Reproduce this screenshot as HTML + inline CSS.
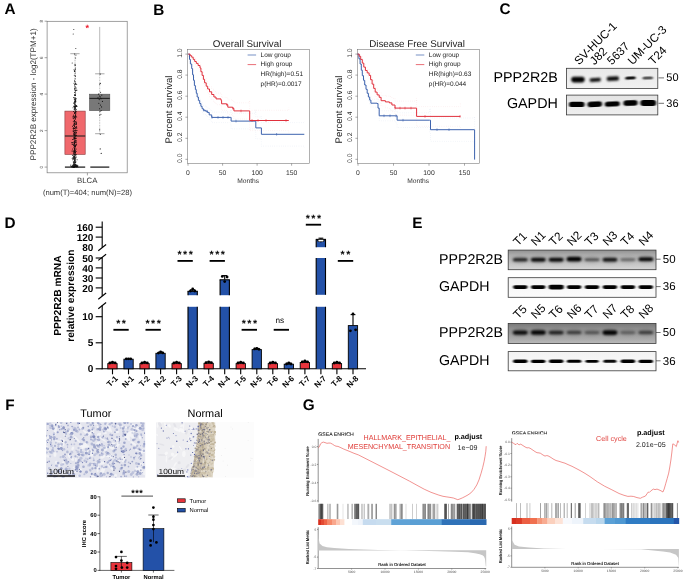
<!DOCTYPE html>
<html><head><meta charset="utf-8"><title>Figure</title>
<style>
html,body{margin:0;padding:0;background:#fff;}
svg{display:block;font-family:"Liberation Sans",sans-serif;text-rendering:geometricPrecision;}

.b{font-weight:bold;}
</style></head><body>
<svg width="685" height="583" viewBox="0 0 685 583">
<defs>
<filter id="bl1" x="-30%" y="-60%" width="160%" height="220%"><feGaussianBlur stdDeviation="1.1 0.8"/></filter>
<filter id="bl2" x="-30%" y="-60%" width="160%" height="220%"><feGaussianBlur stdDeviation="0.9 0.6"/></filter>
<filter id="bl3" x="-10%" y="-10%" width="120%" height="120%"><feGaussianBlur stdDeviation="0.45"/></filter>
<filter id="bl4" x="-10%" y="-10%" width="120%" height="120%"><feGaussianBlur stdDeviation="0.3"/></filter>
</defs>
<rect x="0" y="0" width="685" height="583" fill="#ffffff"/>
<g id="pA">
<text x="4.6" y="14.4" class="b" font-size="15.3">A</text>
<rect x="47.1" y="21.3" width="80.1" height="151.5" fill="none" stroke="#7a7a7a" stroke-width="0.7"/>
<line x1="44.6" x2="47.1" y1="167.1" y2="167.1" stroke="#666" stroke-width="0.6"/>
<text transform="translate(42.8 167.1) rotate(-90)" text-anchor="middle" font-size="4.6" fill="#444">0</text>
<line x1="44.6" x2="47.1" y1="130.6" y2="130.6" stroke="#666" stroke-width="0.6"/>
<text transform="translate(42.8 130.6) rotate(-90)" text-anchor="middle" font-size="4.6" fill="#444">2</text>
<line x1="44.6" x2="47.1" y1="94.1" y2="94.1" stroke="#666" stroke-width="0.6"/>
<text transform="translate(42.8 94.1) rotate(-90)" text-anchor="middle" font-size="4.6" fill="#444">4</text>
<line x1="44.6" x2="47.1" y1="57.7" y2="57.7" stroke="#666" stroke-width="0.6"/>
<text transform="translate(42.8 57.7) rotate(-90)" text-anchor="middle" font-size="4.6" fill="#444">6</text>
<line x1="44.6" x2="47.1" y1="21.2" y2="21.2" stroke="#666" stroke-width="0.6"/>
<text transform="translate(42.8 21.2) rotate(-90)" text-anchor="middle" font-size="4.6" fill="#444">8</text>
<line x1="87.4" x2="87.4" y1="172.8" y2="175.4" stroke="#666" stroke-width="0.6"/>
<text transform="translate(36.0 94.4) rotate(-90)" text-anchor="middle" font-size="8.1" fill="#333">PPP2R2B expression - log2(TPM+1)</text>
<text x="87.2" y="183.4" text-anchor="middle" font-size="7.8" fill="#333">BLCA</text>
<text x="87.4" y="194.5" text-anchor="middle" font-size="7.6" fill="#333">(num(T)=404; num(N)=28)</text>
<line x1="75" x2="75" y1="53.7" y2="111" stroke="#555" stroke-width="0.5" stroke-dasharray="0.8 0.8"/>
<line x1="70.3" x2="79.6" y1="53.7" y2="53.7" stroke="#555" stroke-width="0.5"/>
<rect x="64.9" y="111.1" width="20.3" height="43.3" fill="#f0686c" stroke="#8a3a3c" stroke-width="0.6"/>
<line x1="64.9" x2="85.2" y1="136" y2="136" stroke="#222" stroke-width="1.1"/>
<line x1="75" x2="75" y1="154.4" y2="167" stroke="#555" stroke-width="0.5" stroke-dasharray="0.8 0.8"/>
<line x1="64.9" x2="85.2" y1="167.1" y2="167.1" stroke="#111" stroke-width="1.2"/>
<line x1="99.7" x2="99.7" y1="26.9" y2="73.8" stroke="#777" stroke-width="0.5"/>
<line x1="99.7" x2="99.7" y1="73.8" y2="94.2" stroke="#666" stroke-width="0.5" stroke-dasharray="0.8 0.8"/>
<line x1="95.1" x2="104.5" y1="73.8" y2="73.8" stroke="#555" stroke-width="0.5"/>
<rect x="89.5" y="94.2" width="20.3" height="16.4" fill="#787878" stroke="#555" stroke-width="0.6"/>
<line x1="89.5" x2="109.8" y1="98.4" y2="98.4" stroke="#222" stroke-width="1.1"/>
<line x1="99.7" x2="99.7" y1="110.6" y2="133.7" stroke="#666" stroke-width="0.5" stroke-dasharray="0.8 0.8"/>
<line x1="95.1" x2="104.5" y1="133.7" y2="133.7" stroke="#555" stroke-width="0.5"/>
<line x1="90.3" x2="109.3" y1="167.1" y2="167.1" stroke="#111" stroke-width="1.2"/>
<text x="87.3" y="31.2" text-anchor="middle" font-size="9" class="b" fill="#ee2030">*</text>
<g fill="#000" opacity="0.9"><circle cx="75.4" cy="147.0" r="0.5"/><circle cx="75.6" cy="162.6" r="0.5"/><circle cx="74.6" cy="133.9" r="0.5"/><circle cx="75.0" cy="135.6" r="0.5"/><circle cx="74.1" cy="164.8" r="0.5"/><circle cx="74.6" cy="161.5" r="0.5"/><circle cx="74.9" cy="140.8" r="0.5"/><circle cx="74.1" cy="153.3" r="0.5"/><circle cx="76.0" cy="128.2" r="0.5"/><circle cx="74.3" cy="142.5" r="0.5"/><circle cx="76.9" cy="106.6" r="0.5"/><circle cx="75.2" cy="149.1" r="0.5"/><circle cx="75.1" cy="158.2" r="0.5"/><circle cx="75.6" cy="116.5" r="0.5"/><circle cx="73.4" cy="155.9" r="0.5"/><circle cx="74.0" cy="144.0" r="0.5"/><circle cx="75.1" cy="133.1" r="0.5"/><circle cx="74.7" cy="154.3" r="0.5"/><circle cx="74.2" cy="124.9" r="0.5"/><circle cx="75.2" cy="130.8" r="0.5"/><circle cx="74.2" cy="139.0" r="0.5"/><circle cx="76.5" cy="123.8" r="0.5"/><circle cx="73.5" cy="152.0" r="0.5"/><circle cx="74.5" cy="112.8" r="0.5"/><circle cx="74.3" cy="121.9" r="0.5"/><circle cx="77.1" cy="159.8" r="0.5"/><circle cx="74.7" cy="141.2" r="0.5"/><circle cx="74.2" cy="136.8" r="0.5"/><circle cx="73.6" cy="164.7" r="0.5"/><circle cx="73.4" cy="131.6" r="0.5"/><circle cx="74.5" cy="112.8" r="0.5"/><circle cx="76.2" cy="130.2" r="0.5"/><circle cx="73.1" cy="131.1" r="0.5"/><circle cx="75.6" cy="108.5" r="0.5"/><circle cx="74.6" cy="137.7" r="0.5"/><circle cx="74.6" cy="123.6" r="0.5"/><circle cx="76.6" cy="127.0" r="0.5"/><circle cx="74.5" cy="149.5" r="0.5"/><circle cx="74.6" cy="143.2" r="0.5"/><circle cx="74.6" cy="138.5" r="0.5"/><circle cx="74.8" cy="156.7" r="0.5"/><circle cx="75.2" cy="119.5" r="0.5"/><circle cx="74.5" cy="159.1" r="0.5"/><circle cx="76.0" cy="113.1" r="0.5"/><circle cx="73.3" cy="162.1" r="0.5"/><circle cx="75.4" cy="112.3" r="0.5"/><circle cx="75.5" cy="116.3" r="0.5"/><circle cx="74.1" cy="141.3" r="0.5"/><circle cx="76.5" cy="144.9" r="0.5"/><circle cx="72.9" cy="157.7" r="0.5"/><circle cx="74.6" cy="156.2" r="0.5"/><circle cx="75.5" cy="137.0" r="0.5"/><circle cx="74.8" cy="130.6" r="0.5"/><circle cx="74.8" cy="141.1" r="0.5"/><circle cx="72.5" cy="144.2" r="0.5"/><circle cx="74.0" cy="124.3" r="0.5"/><circle cx="73.7" cy="135.1" r="0.5"/><circle cx="73.5" cy="163.8" r="0.5"/><circle cx="75.4" cy="111.3" r="0.5"/><circle cx="73.1" cy="117.6" r="0.5"/><circle cx="74.3" cy="142.8" r="0.5"/><circle cx="75.1" cy="127.8" r="0.5"/><circle cx="75.0" cy="163.2" r="0.5"/><circle cx="74.8" cy="157.0" r="0.5"/><circle cx="74.7" cy="146.0" r="0.5"/><circle cx="74.5" cy="157.7" r="0.5"/><circle cx="74.3" cy="160.8" r="0.5"/><circle cx="75.2" cy="112.9" r="0.5"/><circle cx="75.3" cy="129.0" r="0.5"/><circle cx="75.2" cy="145.6" r="0.5"/><circle cx="76.0" cy="144.5" r="0.5"/><circle cx="76.4" cy="105.5" r="0.5"/><circle cx="74.3" cy="138.2" r="0.5"/><circle cx="74.5" cy="160.8" r="0.5"/><circle cx="74.5" cy="145.9" r="0.5"/><circle cx="76.3" cy="157.1" r="0.5"/><circle cx="75.5" cy="165.7" r="0.5"/><circle cx="74.2" cy="158.0" r="0.5"/><circle cx="76.0" cy="133.4" r="0.5"/><circle cx="75.3" cy="106.4" r="0.5"/><circle cx="74.8" cy="113.6" r="0.5"/><circle cx="74.0" cy="144.4" r="0.5"/><circle cx="74.7" cy="156.7" r="0.5"/><circle cx="73.8" cy="118.8" r="0.5"/><circle cx="74.9" cy="146.7" r="0.5"/><circle cx="76.8" cy="106.0" r="0.5"/><circle cx="75.6" cy="114.2" r="0.5"/><circle cx="73.3" cy="121.2" r="0.5"/><circle cx="73.7" cy="153.0" r="0.5"/><circle cx="74.3" cy="165.3" r="0.5"/><circle cx="74.3" cy="165.4" r="0.5"/><circle cx="75.6" cy="124.2" r="0.5"/><circle cx="73.0" cy="107.8" r="0.5"/><circle cx="75.9" cy="105.8" r="0.5"/><circle cx="74.7" cy="107.9" r="0.5"/><circle cx="75.1" cy="153.0" r="0.5"/><circle cx="74.9" cy="154.9" r="0.5"/><circle cx="76.3" cy="111.3" r="0.5"/><circle cx="73.7" cy="115.0" r="0.5"/><circle cx="75.2" cy="117.5" r="0.5"/><circle cx="73.4" cy="161.8" r="0.5"/><circle cx="73.2" cy="118.6" r="0.5"/><circle cx="74.4" cy="120.6" r="0.5"/><circle cx="75.1" cy="118.2" r="0.5"/><circle cx="75.4" cy="146.5" r="0.5"/><circle cx="72.3" cy="142.6" r="0.5"/><circle cx="76.1" cy="142.2" r="0.5"/><circle cx="74.0" cy="156.6" r="0.5"/><circle cx="75.7" cy="159.2" r="0.5"/><circle cx="76.7" cy="117.1" r="0.5"/><circle cx="75.7" cy="158.0" r="0.5"/><circle cx="72.5" cy="126.3" r="0.5"/><circle cx="74.2" cy="145.4" r="0.5"/><circle cx="74.3" cy="166.2" r="0.5"/><circle cx="74.4" cy="106.9" r="0.5"/><circle cx="74.2" cy="109.2" r="0.5"/><circle cx="76.0" cy="140.2" r="0.5"/><circle cx="73.3" cy="154.0" r="0.5"/><circle cx="74.4" cy="151.5" r="0.5"/><circle cx="75.5" cy="130.7" r="0.5"/><circle cx="74.2" cy="151.0" r="0.5"/><circle cx="75.3" cy="110.7" r="0.5"/><circle cx="73.5" cy="145.2" r="0.5"/><circle cx="75.4" cy="111.0" r="0.5"/><circle cx="75.7" cy="141.0" r="0.5"/><circle cx="74.2" cy="134.1" r="0.5"/><circle cx="75.8" cy="134.6" r="0.5"/><circle cx="74.7" cy="155.7" r="0.5"/><circle cx="74.6" cy="166.9" r="0.5"/><circle cx="74.2" cy="137.7" r="0.5"/><circle cx="74.2" cy="122.1" r="0.5"/><circle cx="74.5" cy="135.0" r="0.5"/><circle cx="74.9" cy="132.7" r="0.5"/><circle cx="74.4" cy="132.4" r="0.5"/><circle cx="74.3" cy="151.7" r="0.5"/><circle cx="76.4" cy="135.6" r="0.5"/><circle cx="75.0" cy="132.3" r="0.5"/><circle cx="72.6" cy="139.6" r="0.5"/><circle cx="73.7" cy="129.1" r="0.5"/><circle cx="74.9" cy="124.1" r="0.5"/><circle cx="73.7" cy="139.1" r="0.5"/><circle cx="74.9" cy="108.7" r="0.5"/><circle cx="76.5" cy="123.7" r="0.5"/><circle cx="73.0" cy="151.0" r="0.5"/><circle cx="76.5" cy="132.4" r="0.5"/><circle cx="73.9" cy="158.6" r="0.5"/><circle cx="74.1" cy="159.6" r="0.5"/><circle cx="74.7" cy="152.2" r="0.5"/><circle cx="73.6" cy="162.6" r="0.5"/><circle cx="73.6" cy="111.5" r="0.5"/><circle cx="74.2" cy="157.5" r="0.5"/><circle cx="73.1" cy="158.2" r="0.5"/><circle cx="75.7" cy="112.4" r="0.5"/><circle cx="75.0" cy="108.0" r="0.5"/><circle cx="71.8" cy="142.4" r="0.5"/><circle cx="75.3" cy="115.5" r="0.5"/><circle cx="73.5" cy="157.1" r="0.5"/><circle cx="75.1" cy="146.1" r="0.5"/><circle cx="73.9" cy="155.0" r="0.5"/><circle cx="75.8" cy="165.9" r="0.5"/><circle cx="74.6" cy="132.7" r="0.5"/><circle cx="74.7" cy="146.5" r="0.5"/><circle cx="74.5" cy="128.4" r="0.5"/><circle cx="75.1" cy="106.0" r="0.5"/><circle cx="75.4" cy="118.2" r="0.5"/><circle cx="74.5" cy="150.6" r="0.5"/><circle cx="74.6" cy="164.6" r="0.5"/><circle cx="73.8" cy="159.1" r="0.5"/><circle cx="76.2" cy="140.9" r="0.5"/><circle cx="73.7" cy="151.1" r="0.5"/><circle cx="75.6" cy="157.8" r="0.5"/><circle cx="74.3" cy="123.7" r="0.5"/><circle cx="75.8" cy="161.6" r="0.5"/><circle cx="75.2" cy="140.7" r="0.5"/><circle cx="75.7" cy="162.6" r="0.5"/><circle cx="74.5" cy="117.4" r="0.5"/><circle cx="74.7" cy="161.9" r="0.5"/><circle cx="74.8" cy="113.6" r="0.5"/><circle cx="74.1" cy="139.0" r="0.5"/><circle cx="76.1" cy="109.6" r="0.5"/><circle cx="75.4" cy="150.5" r="0.5"/><circle cx="75.4" cy="152.3" r="0.5"/><circle cx="74.6" cy="160.3" r="0.5"/><circle cx="74.8" cy="154.6" r="0.5"/><circle cx="74.1" cy="147.8" r="0.5"/><circle cx="76.1" cy="149.1" r="0.5"/><circle cx="75.2" cy="136.1" r="0.5"/><circle cx="75.2" cy="166.0" r="0.5"/><circle cx="76.1" cy="151.6" r="0.5"/><circle cx="75.0" cy="132.9" r="0.5"/><circle cx="72.4" cy="155.4" r="0.5"/><circle cx="74.8" cy="160.5" r="0.5"/><circle cx="74.0" cy="116.3" r="0.5"/><circle cx="75.5" cy="115.3" r="0.5"/><circle cx="73.2" cy="142.7" r="0.5"/><circle cx="75.1" cy="106.2" r="0.5"/><circle cx="75.4" cy="145.8" r="0.5"/><circle cx="73.6" cy="127.7" r="0.5"/><circle cx="74.5" cy="142.0" r="0.5"/><circle cx="74.8" cy="159.1" r="0.5"/><circle cx="74.4" cy="162.7" r="0.5"/><circle cx="73.8" cy="157.0" r="0.5"/><circle cx="75.5" cy="161.9" r="0.5"/><circle cx="73.3" cy="125.5" r="0.5"/><circle cx="74.6" cy="149.6" r="0.5"/><circle cx="75.5" cy="138.6" r="0.5"/><circle cx="73.8" cy="157.3" r="0.5"/><circle cx="75.4" cy="107.5" r="0.5"/><circle cx="74.4" cy="106.8" r="0.5"/><circle cx="74.9" cy="107.2" r="0.5"/><circle cx="74.6" cy="147.9" r="0.5"/><circle cx="74.7" cy="143.4" r="0.5"/><circle cx="74.1" cy="137.7" r="0.5"/><circle cx="74.8" cy="135.8" r="0.5"/><circle cx="74.4" cy="166.8" r="0.5"/><circle cx="75.1" cy="142.3" r="0.5"/><circle cx="75.2" cy="164.5" r="0.5"/><circle cx="74.7" cy="152.7" r="0.5"/><circle cx="73.3" cy="130.8" r="0.5"/><circle cx="74.6" cy="126.3" r="0.5"/><circle cx="75.6" cy="122.7" r="0.5"/><circle cx="74.0" cy="146.9" r="0.5"/><circle cx="76.0" cy="106.0" r="0.5"/><circle cx="76.1" cy="127.2" r="0.5"/><circle cx="75.5" cy="164.4" r="0.5"/><circle cx="73.1" cy="128.2" r="0.5"/><circle cx="75.1" cy="121.6" r="0.5"/><circle cx="74.3" cy="134.6" r="0.5"/><circle cx="75.7" cy="135.8" r="0.5"/><circle cx="73.5" cy="115.9" r="0.5"/><circle cx="76.0" cy="130.9" r="0.5"/><circle cx="74.0" cy="124.1" r="0.5"/><circle cx="75.1" cy="152.8" r="0.5"/><circle cx="74.8" cy="144.7" r="0.5"/><circle cx="75.1" cy="160.6" r="0.5"/><circle cx="73.8" cy="128.2" r="0.5"/><circle cx="74.4" cy="128.3" r="0.5"/><circle cx="73.4" cy="166.9" r="0.5"/><circle cx="75.0" cy="117.6" r="0.5"/><circle cx="73.7" cy="133.9" r="0.5"/><circle cx="76.3" cy="126.2" r="0.5"/><circle cx="75.2" cy="151.5" r="0.5"/><circle cx="74.3" cy="162.5" r="0.5"/><circle cx="76.1" cy="154.4" r="0.5"/><circle cx="76.0" cy="121.2" r="0.5"/><circle cx="74.5" cy="143.4" r="0.5"/><circle cx="74.1" cy="137.4" r="0.5"/><circle cx="73.4" cy="128.8" r="0.5"/><circle cx="75.4" cy="127.2" r="0.5"/><circle cx="74.8" cy="151.4" r="0.5"/><circle cx="74.5" cy="121.0" r="0.5"/><circle cx="75.6" cy="166.3" r="0.5"/><circle cx="74.3" cy="163.3" r="0.5"/><circle cx="76.3" cy="124.2" r="0.5"/><circle cx="74.6" cy="125.2" r="0.5"/><circle cx="75.9" cy="138.3" r="0.5"/><circle cx="76.2" cy="138.2" r="0.5"/><circle cx="75.9" cy="154.7" r="0.5"/><circle cx="75.3" cy="106.4" r="0.5"/><circle cx="74.7" cy="138.6" r="0.5"/><circle cx="76.0" cy="116.3" r="0.5"/><circle cx="74.4" cy="150.4" r="0.5"/><circle cx="75.2" cy="154.1" r="0.5"/><circle cx="74.6" cy="131.0" r="0.5"/><circle cx="72.2" cy="158.3" r="0.5"/><circle cx="74.1" cy="158.9" r="0.5"/><circle cx="73.0" cy="116.2" r="0.5"/><circle cx="74.8" cy="123.5" r="0.5"/><circle cx="75.5" cy="152.8" r="0.5"/><circle cx="73.8" cy="165.6" r="0.5"/><circle cx="73.4" cy="166.9" r="0.5"/><circle cx="74.7" cy="148.4" r="0.5"/><circle cx="74.0" cy="158.4" r="0.5"/><circle cx="75.7" cy="115.0" r="0.5"/><circle cx="74.4" cy="167.0" r="0.5"/><circle cx="72.7" cy="159.7" r="0.5"/><circle cx="74.6" cy="109.7" r="0.5"/><circle cx="72.6" cy="149.1" r="0.5"/><circle cx="72.0" cy="144.0" r="0.5"/><circle cx="77.0" cy="130.6" r="0.5"/><circle cx="74.0" cy="144.7" r="0.5"/><circle cx="74.8" cy="164.1" r="0.5"/><circle cx="74.9" cy="160.8" r="0.5"/><circle cx="74.4" cy="109.1" r="0.5"/><circle cx="74.5" cy="151.6" r="0.5"/><circle cx="75.7" cy="155.3" r="0.5"/><circle cx="76.6" cy="143.9" r="0.5"/><circle cx="74.5" cy="116.8" r="0.5"/><circle cx="76.8" cy="128.0" r="0.5"/><circle cx="73.6" cy="133.0" r="0.5"/><circle cx="76.4" cy="122.5" r="0.5"/><circle cx="75.2" cy="139.1" r="0.5"/><circle cx="74.5" cy="120.4" r="0.5"/><circle cx="73.8" cy="164.1" r="0.5"/><circle cx="75.8" cy="109.6" r="0.5"/><circle cx="75.4" cy="145.8" r="0.5"/><circle cx="74.4" cy="148.6" r="0.5"/><circle cx="72.0" cy="151.0" r="0.5"/><circle cx="74.5" cy="126.4" r="0.5"/><circle cx="75.8" cy="142.6" r="0.5"/><circle cx="75.3" cy="103.9" r="0.5"/><circle cx="75.5" cy="68.1" r="0.5"/><circle cx="75.3" cy="95.6" r="0.5"/><circle cx="76.7" cy="90.5" r="0.5"/><circle cx="75.1" cy="104.4" r="0.5"/><circle cx="75.3" cy="100.0" r="0.5"/><circle cx="75.0" cy="105.3" r="0.5"/><circle cx="75.6" cy="93.1" r="0.5"/><circle cx="75.0" cy="71.1" r="0.5"/><circle cx="74.2" cy="98.1" r="0.5"/><circle cx="74.5" cy="94.7" r="0.5"/><circle cx="75.5" cy="105.9" r="0.5"/><circle cx="75.4" cy="101.6" r="0.5"/><circle cx="74.9" cy="95.4" r="0.5"/><circle cx="75.4" cy="90.6" r="0.5"/><circle cx="74.6" cy="101.7" r="0.5"/><circle cx="74.3" cy="102.2" r="0.5"/><circle cx="75.5" cy="76.0" r="0.5"/><circle cx="75.2" cy="73.1" r="0.5"/><circle cx="75.0" cy="86.6" r="0.5"/><circle cx="74.0" cy="69.8" r="0.5"/><circle cx="75.2" cy="106.9" r="0.5"/><circle cx="76.3" cy="98.8" r="0.5"/><circle cx="74.3" cy="75.2" r="0.5"/><circle cx="75.4" cy="97.9" r="0.5"/><circle cx="75.3" cy="94.8" r="0.5"/><circle cx="76.2" cy="88.1" r="0.5"/><circle cx="74.5" cy="89.8" r="0.5"/><circle cx="74.0" cy="83.2" r="0.5"/><circle cx="75.3" cy="106.3" r="0.5"/><circle cx="75.2" cy="81.9" r="0.5"/><circle cx="76.8" cy="89.9" r="0.5"/><circle cx="75.4" cy="101.0" r="0.5"/><circle cx="75.4" cy="90.3" r="0.5"/><circle cx="75.2" cy="87.2" r="0.5"/><circle cx="75.2" cy="94.7" r="0.5"/><circle cx="74.6" cy="92.6" r="0.5"/><circle cx="75.4" cy="91.8" r="0.5"/><circle cx="74.7" cy="106.7" r="0.5"/><circle cx="75.8" cy="83.4" r="0.5"/><circle cx="74.4" cy="71.6" r="0.5"/><circle cx="75.1" cy="102.3" r="0.5"/><circle cx="74.9" cy="81.2" r="0.5"/><circle cx="75.2" cy="95.6" r="0.5"/><circle cx="74.5" cy="88.5" r="0.5"/><circle cx="75.3" cy="88.8" r="0.5"/><circle cx="75.0" cy="64.4" r="0.5"/><circle cx="75.2" cy="100.1" r="0.5"/><circle cx="74.8" cy="98.0" r="0.5"/><circle cx="74.5" cy="80.7" r="0.5"/><circle cx="74.5" cy="84.9" r="0.5"/><circle cx="75.0" cy="95.5" r="0.5"/><circle cx="75.1" cy="78.8" r="0.5"/><circle cx="75.6" cy="83.5" r="0.5"/><circle cx="75.9" cy="101.2" r="0.5"/><circle cx="74.7" cy="103.5" r="0.5"/><circle cx="74.0" cy="102.8" r="0.5"/><circle cx="75.6" cy="58.1" r="0.5"/><circle cx="74.6" cy="104.3" r="0.5"/><circle cx="75.3" cy="101.7" r="0.5"/><circle cx="75.7" cy="106.0" r="0.5"/><circle cx="75.3" cy="69.4" r="0.5"/><circle cx="74.7" cy="71.6" r="0.5"/><circle cx="72.2" cy="62.9" r="0.5"/><circle cx="75.7" cy="100.4" r="0.5"/><circle cx="76.7" cy="84.4" r="0.5"/><circle cx="74.6" cy="106.4" r="0.5"/><circle cx="74.3" cy="99.2" r="0.5"/><circle cx="75.0" cy="100.3" r="0.5"/><circle cx="75.1" cy="101.5" r="0.5"/><circle cx="75.4" cy="99.8" r="0.5"/><circle cx="74.9" cy="99.4" r="0.5"/><circle cx="75.6" cy="99.7" r="0.5"/><circle cx="73.7" cy="97.6" r="0.5"/><circle cx="74.2" cy="106.1" r="0.5"/><circle cx="75.1" cy="65.6" r="0.5"/><circle cx="73.9" cy="103.4" r="0.5"/><circle cx="76.3" cy="106.4" r="0.5"/><circle cx="75.5" cy="98.2" r="0.5"/><circle cx="73.7" cy="106.2" r="0.5"/><circle cx="76.7" cy="106.3" r="0.5"/><circle cx="75.7" cy="102.0" r="0.5"/><circle cx="75.6" cy="84.3" r="0.5"/><circle cx="74.6" cy="101.7" r="0.5"/><circle cx="74.9" cy="84.4" r="0.5"/><circle cx="73.8" cy="29.4" r="0.5"/><circle cx="73.2" cy="34.0" r="0.5"/><circle cx="75.8" cy="48.6" r="0.5"/><circle cx="74.5" cy="54.0" r="0.5"/><circle cx="76.0" cy="54.9" r="0.5"/><circle cx="75.2" cy="65.0" r="0.5"/><circle cx="74.7" cy="70.4" r="0.5"/><circle cx="75.4" cy="75.9" r="0.5"/><circle cx="77.7" cy="166.3" r="0.5"/><circle cx="75.0" cy="165.3" r="0.5"/><circle cx="75.1" cy="165.0" r="0.5"/><circle cx="72.3" cy="166.9" r="0.5"/><circle cx="72.0" cy="166.5" r="0.5"/><circle cx="70.8" cy="164.9" r="0.5"/><circle cx="75.7" cy="166.1" r="0.5"/><circle cx="75.0" cy="165.9" r="0.5"/><circle cx="76.8" cy="165.0" r="0.5"/><circle cx="76.3" cy="165.4" r="0.5"/><circle cx="77.8" cy="165.2" r="0.5"/><circle cx="75.3" cy="166.3" r="0.5"/><circle cx="72.7" cy="166.3" r="0.5"/><circle cx="73.1" cy="166.8" r="0.5"/><circle cx="77.3" cy="166.6" r="0.5"/><circle cx="75.0" cy="166.9" r="0.5"/><circle cx="73.7" cy="166.9" r="0.5"/><circle cx="73.6" cy="164.8" r="0.5"/><circle cx="74.5" cy="165.1" r="0.5"/><circle cx="76.3" cy="166.8" r="0.5"/><circle cx="74.9" cy="166.8" r="0.5"/><circle cx="72.3" cy="166.0" r="0.5"/><circle cx="75.0" cy="166.5" r="0.5"/><circle cx="72.9" cy="165.5" r="0.5"/><circle cx="76.2" cy="165.4" r="0.5"/><circle cx="76.4" cy="166.7" r="0.5"/><circle cx="72.9" cy="165.2" r="0.5"/><circle cx="74.4" cy="166.2" r="0.5"/><circle cx="77.1" cy="165.4" r="0.5"/><circle cx="75.4" cy="166.5" r="0.5"/><circle cx="76.2" cy="166.7" r="0.5"/><circle cx="76.7" cy="166.3" r="0.5"/><circle cx="73.5" cy="166.1" r="0.5"/><circle cx="77.0" cy="166.5" r="0.5"/><circle cx="74.9" cy="165.2" r="0.5"/><circle cx="72.0" cy="166.8" r="0.5"/><circle cx="70.7" cy="166.0" r="0.5"/><circle cx="76.4" cy="165.0" r="0.5"/><circle cx="72.0" cy="166.9" r="0.5"/><circle cx="74.8" cy="166.6" r="0.5"/><circle cx="75.8" cy="164.9" r="0.5"/><circle cx="71.6" cy="166.2" r="0.5"/><circle cx="73.0" cy="165.1" r="0.5"/><circle cx="73.7" cy="165.3" r="0.5"/><circle cx="75.4" cy="164.9" r="0.5"/><circle cx="76.8" cy="165.6" r="0.5"/><circle cx="76.4" cy="166.5" r="0.5"/><circle cx="74.4" cy="166.6" r="0.5"/><circle cx="75.7" cy="166.4" r="0.5"/><circle cx="73.0" cy="166.6" r="0.5"/><circle cx="73.6" cy="167.0" r="0.5"/><circle cx="73.8" cy="166.6" r="0.5"/><circle cx="77.3" cy="166.3" r="0.5"/><circle cx="75.9" cy="165.8" r="0.5"/><circle cx="77.9" cy="166.9" r="0.5"/><circle cx="76.4" cy="165.8" r="0.5"/><circle cx="76.0" cy="165.6" r="0.5"/><circle cx="75.9" cy="165.5" r="0.5"/><circle cx="75.6" cy="166.1" r="0.5"/><circle cx="74.7" cy="164.9" r="0.5"/></g>
<g fill="#000" opacity="0.9"><circle cx="100.2" cy="74.1" r="0.55"/><circle cx="100.5" cy="83.2" r="0.55"/><circle cx="99.7" cy="84.1" r="0.55"/><circle cx="100.6" cy="92.3" r="0.55"/><circle cx="98.5" cy="94.1" r="0.55"/><circle cx="101.8" cy="95.1" r="0.55"/><circle cx="99.4" cy="96.0" r="0.55"/><circle cx="100.2" cy="96.9" r="0.55"/><circle cx="98.0" cy="97.8" r="0.55"/><circle cx="101.0" cy="98.7" r="0.55"/><circle cx="99.2" cy="99.6" r="0.55"/><circle cx="102.4" cy="101.4" r="0.55"/><circle cx="98.8" cy="103.3" r="0.55"/><circle cx="100.4" cy="105.1" r="0.55"/><circle cx="101.6" cy="106.9" r="0.55"/><circle cx="99.6" cy="108.7" r="0.55"/><circle cx="101.1" cy="110.6" r="0.55"/><circle cx="100.0" cy="111.5" r="0.55"/><circle cx="100.9" cy="114.2" r="0.55"/><circle cx="99.8" cy="115.1" r="0.55"/><circle cx="99.7" cy="129.7" r="0.55"/><circle cx="100.3" cy="134.3" r="0.55"/><circle cx="100.2" cy="148.9" r="0.55"/><circle cx="101.2" cy="153.4" r="0.55"/></g>
</g>
<g id="pB">
<text x="153.2" y="14.5" class="b" font-size="15.3">B</text>
<rect x="187.6" y="49.4" width="121.9" height="114.1" fill="none" stroke="#707070" stroke-width="0.55"/>
<text x="247.1" y="46.9" text-anchor="middle" font-size="9.8" fill="#222">Overall Survival</text>
<line x1="185.4" x2="187.6" y1="159.3" y2="159.3" stroke="#555" stroke-width="0.5"/>
<text transform="translate(181.7 158.3) rotate(-90)" text-anchor="middle" font-size="6.8" fill="#333">0.0</text>
<line x1="185.4" x2="187.6" y1="138.3" y2="138.3" stroke="#555" stroke-width="0.5"/>
<text transform="translate(181.7 137.3) rotate(-90)" text-anchor="middle" font-size="6.8" fill="#333">0.2</text>
<line x1="185.4" x2="187.6" y1="117.2" y2="117.2" stroke="#555" stroke-width="0.5"/>
<text transform="translate(181.7 116.2) rotate(-90)" text-anchor="middle" font-size="6.8" fill="#333">0.4</text>
<line x1="185.4" x2="187.6" y1="96.2" y2="96.2" stroke="#555" stroke-width="0.5"/>
<text transform="translate(181.7 95.2) rotate(-90)" text-anchor="middle" font-size="6.8" fill="#333">0.6</text>
<line x1="185.4" x2="187.6" y1="75.1" y2="75.1" stroke="#555" stroke-width="0.5"/>
<text transform="translate(181.7 74.1) rotate(-90)" text-anchor="middle" font-size="6.8" fill="#333">0.8</text>
<line x1="185.4" x2="187.6" y1="54.1" y2="54.1" stroke="#555" stroke-width="0.5"/>
<text transform="translate(181.7 53.1) rotate(-90)" text-anchor="middle" font-size="6.8" fill="#333">1.0</text>
<line x1="188.0" x2="188.0" y1="163.5" y2="165.7" stroke="#555" stroke-width="0.5"/>
<text x="188.0" y="174.5" text-anchor="middle" font-size="6.8" fill="#333">0</text>
<line x1="222.6" x2="222.6" y1="163.5" y2="165.7" stroke="#555" stroke-width="0.5"/>
<text x="222.6" y="174.5" text-anchor="middle" font-size="6.8" fill="#333">50</text>
<line x1="257.1" x2="257.1" y1="163.5" y2="165.7" stroke="#555" stroke-width="0.5"/>
<text x="257.1" y="174.5" text-anchor="middle" font-size="6.8" fill="#333">100</text>
<line x1="291.6" x2="291.6" y1="163.5" y2="165.7" stroke="#555" stroke-width="0.5"/>
<text x="291.6" y="174.5" text-anchor="middle" font-size="6.8" fill="#333">150</text>
<text x="248.1" y="183.3" text-anchor="middle" font-size="6.7" fill="#333">Months</text>
<text transform="translate(172.0 109.5) rotate(-90)" text-anchor="middle" font-size="9.55" fill="#222">Percent survival</text>
<path d="M188.3 54.1 H189.5 V59.4 H190.4 V64.0 H191.7 V68.6 H192.6 V74.8 H193.5 V80.3 H194.4 V85.6 H195.4 V89.6 H196.3 V93.3 H197.2 V97.0 H198.4 V100.4 H199.7 V103.5 H200.9 V106.3 H202.1 V108.7 H203.4 V110.3 H205.5 V111.2 H207.4 V112.4 H209.2 V114.9 H211.7 V117.4 H230.8 V117.4 H231.1 V121.1 H255.5 V121.1 H255.8 V127.9 H261.1 V127.9 H261.4 V134.3 H304.3 V134.3" fill="none" stroke="#3d63ae" stroke-width="1"/>
<path d="M188.3 54.1 H190.1 V55.7 H191.7 V57.2 H193.2 V59.4 H194.7 V61.5 H196.3 V63.4 H198.1 V65.5 H200.0 V68.0 H200.9 V71.7 H202.1 V75.4 H203.4 V79.4 H204.6 V82.8 H206.2 V86.2 H207.7 V89.0 H209.5 V91.8 H211.7 V94.5 H213.9 V97.0 H216.0 V98.9 H221.0 V100.4 H221.6 V103.8 H226.5 V104.7 H227.8 V107.2 H232.7 V108.4 H233.9 V110.9 H249.4 V110.9 H249.7 V120.5 H288.8 V120.5" fill="none" stroke="#e0303c" stroke-width="1"/>
<path d="M188.3 54.6 H189.5 V57.0 H190.4 V61.5 H191.7 V66.0 H192.6 V72.0 H193.5 V77.5 H194.4 V82.6 H195.4 V86.5 H196.3 V90.1 H197.2 V93.6 H198.4 V96.9 H199.7 V99.8 H200.9 V102.4 H202.1 V104.7 H203.4 V106.1 H205.5 V106.8 H207.4 V107.8 H209.2 V110.0 H211.7 V112.1 H230.8 V109.6 H231.1 V113.3 H255.5 V110.1 H255.8 V116.9 H261.1 V116.2 H261.4 V122.6 H304.3 V121.3" fill="none" stroke="#3d63ae" stroke-width="0.5" stroke-dasharray="0.5 1.7" opacity="0.24"/>
<path d="M188.3 56.3 H189.5 V61.7 H190.4 V66.5 H191.7 V71.3 H192.6 V77.6 H193.5 V83.2 H194.4 V88.6 H195.4 V92.7 H196.3 V96.6 H197.2 V100.4 H198.4 V103.9 H199.7 V107.2 H200.9 V110.1 H202.1 V112.7 H203.4 V114.4 H205.5 V115.6 H207.4 V117.1 H209.2 V119.8 H211.7 V122.6 H230.8 V125.1 H231.1 V128.9 H255.5 V132.0 H255.8 V138.8 H261.1 V139.5 H261.4 V146.1 H304.3 V147.3" fill="none" stroke="#3d63ae" stroke-width="0.5" stroke-dasharray="0.5 1.7" opacity="0.24"/>
<path d="M188.3 54.6 H190.1 V54.6 H191.7 V54.6 H193.2 V56.5 H194.7 V58.5 H196.3 V60.1 H198.1 V62.1 H200.0 V64.3 H200.9 V67.9 H202.1 V71.4 H203.4 V75.3 H204.6 V78.5 H206.2 V81.7 H207.7 V84.3 H209.5 V86.8 H211.7 V89.3 H213.9 V91.5 H216.0 V93.1 H221.0 V94.0 H221.6 V97.3 H226.5 V97.6 H227.8 V99.9 H232.7 V100.5 H233.9 V102.8 H249.4 V100.8 H249.7 V110.3 H288.8 V107.5" fill="none" stroke="#e0303c" stroke-width="0.5" stroke-dasharray="0.5 1.7" opacity="0.24"/>
<path d="M188.3 56.3 H190.1 V58.1 H191.7 V59.8 H193.2 V62.2 H194.7 V64.6 H196.3 V66.6 H198.1 V69.0 H200.0 V71.7 H200.9 V75.6 H202.1 V79.4 H203.4 V83.6 H204.6 V87.1 H206.2 V90.7 H207.7 V93.7 H209.5 V96.7 H211.7 V99.8 H213.9 V102.5 H216.0 V104.7 H221.0 V106.9 H221.6 V110.3 H226.5 V111.9 H227.8 V114.5 H232.7 V116.4 H233.9 V119.0 H249.4 V121.0 H249.7 V130.6 H288.8 V133.5" fill="none" stroke="#e0303c" stroke-width="0.5" stroke-dasharray="0.5 1.7" opacity="0.24"/>
<line x1="247.6" x2="256.1" y1="55" y2="55" stroke="#3d63ae" stroke-width="0.7"/>
<line x1="247.6" x2="256.1" y1="64.6" y2="64.6" stroke="#e0303c" stroke-width="0.7"/>
<text x="260.6" y="57.2" font-size="6.5" fill="#222">Low group</text>
<text x="260.6" y="66.4" font-size="6.5" fill="#222">High group</text>
<text x="260.6" y="76.2" font-size="6.5" fill="#222">HR(high)=0.51</text>
<text x="260.6" y="85.9" font-size="6.5" fill="#222">p(HR)=0.0017</text>
<rect x="357.6" y="49.4" width="121.9" height="114.1" fill="none" stroke="#707070" stroke-width="0.55"/>
<text x="417.1" y="46.9" text-anchor="middle" font-size="9.8" fill="#222">Disease Free Survival</text>
<line x1="355.4" x2="357.6" y1="159.3" y2="159.3" stroke="#555" stroke-width="0.5"/>
<text transform="translate(351.7 158.3) rotate(-90)" text-anchor="middle" font-size="6.8" fill="#333">0.0</text>
<line x1="355.4" x2="357.6" y1="138.3" y2="138.3" stroke="#555" stroke-width="0.5"/>
<text transform="translate(351.7 137.3) rotate(-90)" text-anchor="middle" font-size="6.8" fill="#333">0.2</text>
<line x1="355.4" x2="357.6" y1="117.2" y2="117.2" stroke="#555" stroke-width="0.5"/>
<text transform="translate(351.7 116.2) rotate(-90)" text-anchor="middle" font-size="6.8" fill="#333">0.4</text>
<line x1="355.4" x2="357.6" y1="96.2" y2="96.2" stroke="#555" stroke-width="0.5"/>
<text transform="translate(351.7 95.2) rotate(-90)" text-anchor="middle" font-size="6.8" fill="#333">0.6</text>
<line x1="355.4" x2="357.6" y1="75.1" y2="75.1" stroke="#555" stroke-width="0.5"/>
<text transform="translate(351.7 74.1) rotate(-90)" text-anchor="middle" font-size="6.8" fill="#333">0.8</text>
<line x1="355.4" x2="357.6" y1="54.1" y2="54.1" stroke="#555" stroke-width="0.5"/>
<text transform="translate(351.7 53.1) rotate(-90)" text-anchor="middle" font-size="6.8" fill="#333">1.0</text>
<line x1="358.0" x2="358.0" y1="163.5" y2="165.7" stroke="#555" stroke-width="0.5"/>
<text x="358.0" y="174.5" text-anchor="middle" font-size="6.8" fill="#333">0</text>
<line x1="393.5" x2="393.5" y1="163.5" y2="165.7" stroke="#555" stroke-width="0.5"/>
<text x="393.5" y="174.5" text-anchor="middle" font-size="6.8" fill="#333">50</text>
<line x1="429.0" x2="429.0" y1="163.5" y2="165.7" stroke="#555" stroke-width="0.5"/>
<text x="429.0" y="174.5" text-anchor="middle" font-size="6.8" fill="#333">100</text>
<line x1="464.5" x2="464.5" y1="163.5" y2="165.7" stroke="#555" stroke-width="0.5"/>
<text x="464.5" y="174.5" text-anchor="middle" font-size="6.8" fill="#333">150</text>
<text x="418.1" y="183.3" text-anchor="middle" font-size="6.7" fill="#333">Months</text>
<text transform="translate(342.0 109.5) rotate(-90)" text-anchor="middle" font-size="9.55" fill="#222">Percent survival</text>
<path d="M357.6 54.1 H358.9 V58.8 H360.1 V64.0 H361.3 V70.2 H362.3 V75.7 H363.5 V80.3 H364.7 V85.0 H366.0 V89.3 H367.2 V93.3 H368.4 V97.0 H369.7 V100.1 H370.9 V103.2 H377.1 V103.5 H378.0 V108.1 H379.2 V115.8 H395.6 V115.8 H397.1 V120.2 H429.5 V120.2 H430.5 V129.7 H474.3 V129.7 H474.6 V159.6" fill="none" stroke="#3d63ae" stroke-width="1"/>
<path d="M357.6 54.1 H359.2 V56.3 H360.7 V59.4 H362.3 V63.1 H363.8 V67.1 H365.4 V70.5 H367.2 V72.9 H369.1 V75.4 H370.6 V79.7 H372.1 V84.1 H373.7 V88.4 H375.2 V92.1 H377.1 V94.9 H379.2 V97.3 H381.1 V100.7 H385.4 V101.9 H389.4 V102.9 H391.9 V105.0 H395.0 V108.1 H416.3 V108.1 H416.6 V116.4 H460.4 V116.4" fill="none" stroke="#e0303c" stroke-width="1"/>
<path d="M357.6 54.6 H358.9 V56.4 H360.1 V61.5 H361.3 V67.5 H362.3 V72.9 H363.5 V77.4 H364.7 V81.9 H366.0 V86.0 H367.2 V89.9 H368.4 V93.4 H369.7 V96.3 H370.9 V99.3 H377.1 V98.8 H378.0 V103.3 H379.2 V110.8 H395.6 V108.7 H397.1 V112.8 H429.5 V108.6 H430.5 V118.0 H474.3 V116.7 H474.6 V146.6" fill="none" stroke="#3d63ae" stroke-width="0.5" stroke-dasharray="0.5 1.7" opacity="0.24"/>
<path d="M357.6 56.3 H358.9 V61.1 H360.1 V66.5 H361.3 V72.8 H362.3 V78.5 H363.5 V83.3 H364.7 V88.1 H366.0 V92.6 H367.2 V96.8 H368.4 V100.6 H369.7 V103.9 H370.9 V107.1 H377.1 V108.2 H378.0 V113.0 H379.2 V120.8 H395.6 V123.0 H397.1 V127.5 H429.5 V131.7 H430.5 V141.4 H474.3 V142.7 H474.6 V159.5" fill="none" stroke="#3d63ae" stroke-width="0.5" stroke-dasharray="0.5 1.7" opacity="0.24"/>
<path d="M357.6 54.6 H359.2 V54.6 H360.7 V56.8 H362.3 V60.3 H363.8 V64.1 H365.4 V67.3 H367.2 V69.5 H369.1 V71.7 H370.6 V75.8 H372.1 V80.0 H373.7 V84.1 H375.2 V87.6 H377.1 V90.1 H379.2 V92.3 H381.1 V95.5 H385.4 V96.1 H389.4 V96.5 H391.9 V98.4 H395.0 V101.1 H416.3 V98.3 H416.6 V106.6 H460.4 V103.4" fill="none" stroke="#e0303c" stroke-width="0.5" stroke-dasharray="0.5 1.7" opacity="0.24"/>
<path d="M357.6 56.3 H359.2 V58.7 H360.7 V62.0 H362.3 V65.9 H363.8 V70.1 H365.4 V73.7 H367.2 V76.4 H369.1 V79.1 H370.6 V83.6 H372.1 V88.1 H373.7 V92.7 H375.2 V96.6 H377.1 V99.6 H379.2 V102.3 H381.1 V106.0 H385.4 V107.8 H389.4 V109.2 H391.9 V111.7 H395.0 V115.2 H416.3 V117.9 H416.6 V126.3 H460.4 V129.4" fill="none" stroke="#e0303c" stroke-width="0.5" stroke-dasharray="0.5 1.7" opacity="0.24"/>
<line x1="415.8" x2="424.3" y1="55" y2="55" stroke="#3d63ae" stroke-width="0.7"/>
<line x1="415.8" x2="424.3" y1="64.6" y2="64.6" stroke="#e0303c" stroke-width="0.7"/>
<text x="428.8" y="57.2" font-size="6.5" fill="#222">Low group</text>
<text x="428.8" y="66.4" font-size="6.5" fill="#222">High group</text>
<text x="428.8" y="76.2" font-size="6.5" fill="#222">HR(high)=0.63</text>
<text x="428.8" y="85.9" font-size="6.5" fill="#222">p(HR)=0.044</text>
<line x1="204.0" x2="204.0" y1="109.0" y2="111.6" stroke="#3d63ae" stroke-width="0.6"/>
<line x1="207.0" x2="207.0" y1="109.9" y2="112.5" stroke="#3d63ae" stroke-width="0.6"/>
<line x1="212.0" x2="212.0" y1="116.1" y2="118.7" stroke="#3d63ae" stroke-width="0.6"/>
<line x1="218.0" x2="218.0" y1="116.1" y2="118.7" stroke="#3d63ae" stroke-width="0.6"/>
<line x1="223.0" x2="223.0" y1="116.1" y2="118.7" stroke="#3d63ae" stroke-width="0.6"/>
<line x1="228.0" x2="228.0" y1="116.1" y2="118.7" stroke="#3d63ae" stroke-width="0.6"/>
<line x1="236.0" x2="236.0" y1="119.8" y2="122.4" stroke="#3d63ae" stroke-width="0.6"/>
<line x1="276.6" x2="276.6" y1="133.0" y2="135.6" stroke="#3d63ae" stroke-width="0.6"/>
<line x1="227.0" x2="227.0" y1="103.4" y2="106.0" stroke="#e0303c" stroke-width="0.6"/>
<line x1="233.0" x2="233.0" y1="107.1" y2="109.7" stroke="#e0303c" stroke-width="0.6"/>
<line x1="241.0" x2="241.0" y1="109.6" y2="112.2" stroke="#e0303c" stroke-width="0.6"/>
<line x1="252.0" x2="252.0" y1="119.2" y2="121.8" stroke="#e0303c" stroke-width="0.6"/>
<line x1="258.0" x2="258.0" y1="119.2" y2="121.8" stroke="#e0303c" stroke-width="0.6"/>
<line x1="266.0" x2="266.0" y1="119.2" y2="121.8" stroke="#e0303c" stroke-width="0.6"/>
<line x1="286.0" x2="286.0" y1="119.2" y2="121.8" stroke="#e0303c" stroke-width="0.6"/>
<line x1="384.0" x2="384.0" y1="114.5" y2="117.1" stroke="#3d63ae" stroke-width="0.6"/>
<line x1="390.0" x2="390.0" y1="114.5" y2="117.1" stroke="#3d63ae" stroke-width="0.6"/>
<line x1="396.0" x2="396.0" y1="114.5" y2="117.1" stroke="#3d63ae" stroke-width="0.6"/>
<line x1="403.0" x2="403.0" y1="118.9" y2="121.5" stroke="#3d63ae" stroke-width="0.6"/>
<line x1="437.0" x2="437.0" y1="128.4" y2="131.0" stroke="#3d63ae" stroke-width="0.6"/>
<line x1="449.0" x2="449.0" y1="128.4" y2="131.0" stroke="#3d63ae" stroke-width="0.6"/>
<line x1="395.0" x2="395.0" y1="106.8" y2="109.4" stroke="#e0303c" stroke-width="0.6"/>
<line x1="400.0" x2="400.0" y1="106.8" y2="109.4" stroke="#e0303c" stroke-width="0.6"/>
<line x1="405.0" x2="405.0" y1="106.8" y2="109.4" stroke="#e0303c" stroke-width="0.6"/>
<line x1="411.0" x2="411.0" y1="106.8" y2="109.4" stroke="#e0303c" stroke-width="0.6"/>
<line x1="425.0" x2="425.0" y1="115.1" y2="117.7" stroke="#e0303c" stroke-width="0.6"/>
<line x1="460.0" x2="460.0" y1="115.1" y2="117.7" stroke="#e0303c" stroke-width="0.6"/>
</g>
<g id="pC">
<text x="499.6" y="14.4" class="b" font-size="15.3">C</text>
<text x="557.8" y="82.4" text-anchor="end" font-size="14.3">PPP2R2B</text>
<text x="557.8" y="108.4" text-anchor="end" font-size="14.3">GAPDH</text>
<text x="666.3" y="81" font-size="11">50</text>
<text x="666.3" y="106.7" font-size="11">36</text>
<line x1="658.5" x2="664" y1="77.9" y2="77.9" stroke="#333" stroke-width="0.7"/>
<line x1="658.5" x2="664" y1="103.3" y2="103.3" stroke="#333" stroke-width="0.7"/>
<text transform="translate(579.0 65.4) rotate(-45)" font-size="11.7">SV-HUC-1</text>
<text transform="translate(594.6 65.4) rotate(-45)" font-size="11.7">J82</text>
<text transform="translate(611.8 65.4) rotate(-45)" font-size="11.7">5637</text>
<text transform="translate(632.4 65.4) rotate(-45)" font-size="11.7">UM-UC-3</text>
<text transform="translate(653.2 65.4) rotate(-45)" font-size="11.7">T24</text>
<clipPath id="cC1"><rect x="566.4" y="68.3" width="91.4" height="20.1"/></clipPath>
<linearGradient id="cC1g" x1="0" y1="0" x2="0" y2="1"><stop offset="0.00" stop-color="#e9e9e9"/><stop offset="1.00" stop-color="#f1f1f1"/></linearGradient>
<rect x="566.4" y="68.3" width="91.4" height="20.1" fill="url(#cC1g)"/>
<g clip-path="url(#cC1)"><rect x="571.2" y="76.8" width="13.5" height="5.6" rx="2.8" fill="#000" opacity="1.00" filter="url(#bl1)" transform="rotate(0.0 578.0 79.6)"/><rect x="589.5" y="77.9" width="11.5" height="3.8" rx="1.9" fill="#000" opacity="0.95" filter="url(#bl1)" transform="rotate(-4.0 595.2 79.8)"/><rect x="606.6" y="76.6" width="12.5" height="4.2" rx="2.1" fill="#000" opacity="0.97" filter="url(#bl1)" transform="rotate(-3.0 612.9 78.7)"/><rect x="625.2" y="76.4" width="10.5" height="3.2" rx="1.6" fill="#000" opacity="0.90" filter="url(#bl2)" transform="rotate(-3.0 630.5 78.0)"/><rect x="642.5" y="76.5" width="10.5" height="3.0" rx="1.5" fill="#000" opacity="0.62" filter="url(#bl2)" transform="rotate(-2.0 647.8 78.0)"/></g>
<rect x="566.4" y="68.3" width="91.4" height="20.1" fill="none" stroke="#3a3a3a" stroke-width="0.8"/>
<clipPath id="cC2"><rect x="566.4" y="95.1" width="91.4" height="19.8"/></clipPath>
<linearGradient id="cC2g" x1="0" y1="0" x2="0" y2="1"><stop offset="0.00" stop-color="#e4e4e4"/><stop offset="1.00" stop-color="#efefef"/></linearGradient>
<rect x="566.4" y="95.1" width="91.4" height="19.8" fill="url(#cC2g)"/>
<g clip-path="url(#cC2)"><rect x="569.0" y="101.7" width="15.5" height="5.4" rx="2.7" fill="#000" opacity="1.00" filter="url(#bl2)" transform="rotate(0.0 576.7 104.4)"/><rect x="587.5" y="101.5" width="14.5" height="5.4" rx="2.7" fill="#000" opacity="1.00" filter="url(#bl2)" transform="rotate(-3.0 594.7 104.2)"/><rect x="604.8" y="101.5" width="15.0" height="5.0" rx="2.5" fill="#000" opacity="1.00" filter="url(#bl2)" transform="rotate(-3.0 612.3 104.0)"/><rect x="623.4" y="100.3" width="14.2" height="5.4" rx="2.7" fill="#000" opacity="1.00" filter="url(#bl2)" transform="rotate(-2.0 630.5 103.0)"/><rect x="640.3" y="100.0" width="15.8" height="6.0" rx="3.0" fill="#000" opacity="1.00" filter="url(#bl2)" transform="rotate(0.0 648.2 103.0)"/></g>
<rect x="566.4" y="95.1" width="91.4" height="19.8" fill="none" stroke="#3a3a3a" stroke-width="0.8"/>
</g>
<g id="pD">
<text x="4.6" y="227.9" class="b" font-size="15.3">D</text>
<line x1="102.2" x2="102.2" y1="221.6" y2="247.6" stroke="#000" stroke-width="1.12"/>
<line x1="102.2" x2="102.2" y1="257.3" y2="296.1" stroke="#000" stroke-width="1.12"/>
<line x1="102.2" x2="102.2" y1="305.6" y2="369.3" stroke="#000" stroke-width="1.12"/>
<line x1="98.3" x2="106.1" y1="250.7" y2="244.5" stroke="#000" stroke-width="1.12"/>
<line x1="98.3" x2="106.1" y1="260.4" y2="254.2" stroke="#000" stroke-width="1.12"/>
<line x1="98.3" x2="106.1" y1="299.2" y2="293.0" stroke="#000" stroke-width="1.12"/>
<line x1="98.3" x2="106.1" y1="308.7" y2="302.5" stroke="#000" stroke-width="1.12"/>
<line x1="95.7" x2="102.2" y1="227.2" y2="227.2" stroke="#000" stroke-width="1.12"/>
<text x="93.4" y="230.8" text-anchor="end" class="b" font-size="10">160</text>
<line x1="95.7" x2="102.2" y1="237.1" y2="237.1" stroke="#000" stroke-width="1.12"/>
<text x="93.4" y="240.7" text-anchor="end" class="b" font-size="10">120</text>
<text x="93.4" y="250.5" text-anchor="end" class="b" font-size="10">80</text>
<line x1="95.7" x2="102.2" y1="258.0" y2="258.0" stroke="#000" stroke-width="1.12"/>
<text x="93.4" y="261.6" text-anchor="end" class="b" font-size="10">50</text>
<line x1="95.7" x2="102.2" y1="267.9" y2="267.9" stroke="#000" stroke-width="1.12"/>
<text x="93.4" y="271.5" text-anchor="end" class="b" font-size="10">40</text>
<line x1="95.7" x2="102.2" y1="278.0" y2="278.0" stroke="#000" stroke-width="1.12"/>
<text x="93.4" y="281.6" text-anchor="end" class="b" font-size="10">30</text>
<line x1="95.7" x2="102.2" y1="287.9" y2="287.9" stroke="#000" stroke-width="1.12"/>
<text x="93.4" y="291.5" text-anchor="end" class="b" font-size="10">20</text>
<line x1="95.7" x2="102.2" y1="316.7" y2="316.7" stroke="#000" stroke-width="1.12"/>
<text x="93.4" y="320.3" text-anchor="end" class="b" font-size="10">10</text>
<line x1="95.7" x2="102.2" y1="342.8" y2="342.8" stroke="#000" stroke-width="1.12"/>
<text x="93.4" y="346.4" text-anchor="end" class="b" font-size="10">5</text>
<line x1="95.7" x2="102.2" y1="368.8" y2="368.8" stroke="#000" stroke-width="1.12"/>
<text x="93.4" y="372.4" text-anchor="end" class="b" font-size="10">0</text>
<text transform="translate(61.3 295.6) rotate(-90)" text-anchor="middle" class="b" font-size="10.2">PPP2R2B mRNA</text>
<text transform="translate(73.7 295.6) rotate(-90)" text-anchor="middle" class="b" font-size="10.2">relative expression</text>
<line x1="101.8" x2="366" y1="368.8" y2="368.8" stroke="#000" stroke-width="1.12"/>
<rect x="107.8" y="363.6" width="9.3" height="5.2" fill="#e8343c" stroke="#000" stroke-width="0.9"/>
<line x1="112.5" x2="112.5" y1="362.4" y2="363.6" stroke="#000" stroke-width="1.12"/><line x1="110.1" x2="114.9" y1="362.4" y2="362.4" stroke="#000" stroke-width="1.12"/>
<circle cx="109.8" cy="363.0" r="1.4" fill="#000"/><circle cx="112.5" cy="362.1" r="1.4" fill="#000"/><circle cx="115.2" cy="362.9" r="1.4" fill="#000"/>
<rect x="139.9" y="363.6" width="9.3" height="5.2" fill="#e8343c" stroke="#000" stroke-width="0.9"/>
<line x1="144.6" x2="144.6" y1="362.4" y2="363.6" stroke="#000" stroke-width="1.12"/><line x1="142.2" x2="147.0" y1="362.4" y2="362.4" stroke="#000" stroke-width="1.12"/>
<circle cx="141.9" cy="363.0" r="1.4" fill="#000"/><circle cx="144.6" cy="362.1" r="1.4" fill="#000"/><circle cx="147.3" cy="362.9" r="1.4" fill="#000"/>
<rect x="172.0" y="363.6" width="9.3" height="5.2" fill="#e8343c" stroke="#000" stroke-width="0.9"/>
<line x1="176.6" x2="176.6" y1="362.4" y2="363.6" stroke="#000" stroke-width="1.12"/><line x1="174.2" x2="179.0" y1="362.4" y2="362.4" stroke="#000" stroke-width="1.12"/>
<circle cx="173.9" cy="363.0" r="1.4" fill="#000"/><circle cx="176.6" cy="362.1" r="1.4" fill="#000"/><circle cx="179.3" cy="362.9" r="1.4" fill="#000"/>
<rect x="204.0" y="363.3" width="9.3" height="5.5" fill="#e8343c" stroke="#000" stroke-width="0.9"/>
<line x1="208.7" x2="208.7" y1="362.1" y2="363.3" stroke="#000" stroke-width="1.12"/><line x1="206.3" x2="211.1" y1="362.1" y2="362.1" stroke="#000" stroke-width="1.12"/>
<circle cx="206.0" cy="362.7" r="1.4" fill="#000"/><circle cx="208.7" cy="361.8" r="1.4" fill="#000"/><circle cx="211.4" cy="362.6" r="1.4" fill="#000"/>
<rect x="236.1" y="363.6" width="9.3" height="5.2" fill="#e8343c" stroke="#000" stroke-width="0.9"/>
<line x1="240.7" x2="240.7" y1="362.4" y2="363.6" stroke="#000" stroke-width="1.12"/><line x1="238.3" x2="243.1" y1="362.4" y2="362.4" stroke="#000" stroke-width="1.12"/>
<circle cx="238.0" cy="363.0" r="1.4" fill="#000"/><circle cx="240.7" cy="362.1" r="1.4" fill="#000"/><circle cx="243.4" cy="362.9" r="1.4" fill="#000"/>
<rect x="268.2" y="363.6" width="9.3" height="5.2" fill="#e8343c" stroke="#000" stroke-width="0.9"/>
<line x1="272.8" x2="272.8" y1="362.4" y2="363.6" stroke="#000" stroke-width="1.12"/><line x1="270.4" x2="275.2" y1="362.4" y2="362.4" stroke="#000" stroke-width="1.12"/>
<circle cx="270.1" cy="363.0" r="1.4" fill="#000"/><circle cx="272.8" cy="362.1" r="1.4" fill="#000"/><circle cx="275.5" cy="362.9" r="1.4" fill="#000"/>
<rect x="300.2" y="362.5" width="9.3" height="6.3" fill="#e8343c" stroke="#000" stroke-width="0.9"/>
<line x1="304.9" x2="304.9" y1="361.3" y2="362.5" stroke="#000" stroke-width="1.12"/><line x1="302.5" x2="307.3" y1="361.3" y2="361.3" stroke="#000" stroke-width="1.12"/>
<circle cx="302.2" cy="361.9" r="1.4" fill="#000"/><circle cx="304.9" cy="361.0" r="1.4" fill="#000"/><circle cx="307.6" cy="361.8" r="1.4" fill="#000"/>
<rect x="332.3" y="363.6" width="9.3" height="5.2" fill="#e8343c" stroke="#000" stroke-width="0.9"/>
<line x1="336.9" x2="336.9" y1="362.4" y2="363.6" stroke="#000" stroke-width="1.12"/><line x1="334.5" x2="339.3" y1="362.4" y2="362.4" stroke="#000" stroke-width="1.12"/>
<circle cx="334.2" cy="363.0" r="1.4" fill="#000"/><circle cx="336.9" cy="362.1" r="1.4" fill="#000"/><circle cx="339.6" cy="362.9" r="1.4" fill="#000"/>
<rect x="123.9" y="359.2" width="9.3" height="9.6" fill="#2351a8" stroke="#000" stroke-width="0.9"/>
<circle cx="126.3" cy="358.8" r="1.4" fill="#000"/><circle cx="128.5" cy="358.8" r="1.4" fill="#000"/><circle cx="130.7" cy="358.8" r="1.4" fill="#000"/>
<rect x="155.9" y="353.3" width="9.3" height="15.5" fill="#2351a8" stroke="#000" stroke-width="0.9"/>
<line x1="160.6" x2="160.6" y1="352.2" y2="353.3" stroke="#000" stroke-width="1.12"/><line x1="158.2" x2="163.0" y1="352.2" y2="352.2" stroke="#000" stroke-width="1.12"/>
<circle cx="158.4" cy="353.1" r="1.4" fill="#000"/><circle cx="160.6" cy="351.8" r="1.4" fill="#000"/><circle cx="162.8" cy="352.9" r="1.4" fill="#000"/>
<rect x="188.0" y="306.8" width="9.3" height="62.0" fill="#2351a8"/><line x1="188.0" x2="188.0" y1="306.8" y2="368.8" stroke="#000" stroke-width="1.12"/><line x1="197.3" x2="197.3" y1="306.8" y2="368.8" stroke="#000" stroke-width="1.12"/>
<rect x="188.0" y="291.3" width="9.3" height="3.9" fill="#2351a8"/><line x1="188.0" x2="188.0" y1="291.3" y2="295.2" stroke="#000" stroke-width="1.12"/><line x1="197.3" x2="197.3" y1="291.3" y2="295.2" stroke="#000" stroke-width="1.12"/><line x1="187.6" x2="197.8" y1="291.3" y2="291.3" stroke="#000" stroke-width="1.12"/>
<line x1="192.7" x2="192.7" y1="289.8" y2="291.3" stroke="#000" stroke-width="1.12"/><line x1="190.2" x2="195.1" y1="289.8" y2="289.8" stroke="#000" stroke-width="1.12"/>
<circle cx="190.5" cy="291.0" r="1.4" fill="#000"/><circle cx="192.7" cy="289.0" r="1.4" fill="#000"/><circle cx="194.8" cy="291.0" r="1.4" fill="#000"/>
<rect x="220.1" y="306.8" width="9.3" height="62.0" fill="#2351a8"/><line x1="220.1" x2="220.1" y1="306.8" y2="368.8" stroke="#000" stroke-width="1.12"/><line x1="229.4" x2="229.4" y1="306.8" y2="368.8" stroke="#000" stroke-width="1.12"/>
<rect x="220.1" y="279.8" width="9.3" height="15.4" fill="#2351a8"/><line x1="220.1" x2="220.1" y1="279.8" y2="295.2" stroke="#000" stroke-width="1.12"/><line x1="229.4" x2="229.4" y1="279.8" y2="295.2" stroke="#000" stroke-width="1.12"/><line x1="219.6" x2="229.8" y1="279.8" y2="279.8" stroke="#000" stroke-width="1.12"/>
<line x1="224.7" x2="224.7" y1="275.6" y2="279.8" stroke="#000" stroke-width="1.12"/><line x1="222.3" x2="227.1" y1="275.6" y2="275.6" stroke="#000" stroke-width="1.12"/>
<circle cx="222.3" cy="276.4" r="1.4" fill="#000"/><circle cx="224.7" cy="281.6" r="1.4" fill="#000"/><circle cx="227.1" cy="277.0" r="1.4" fill="#000"/>
<rect x="252.1" y="349.6" width="9.3" height="19.2" fill="#2351a8" stroke="#000" stroke-width="0.9"/>
<line x1="256.8" x2="256.8" y1="348.4" y2="349.6" stroke="#000" stroke-width="1.12"/><line x1="254.4" x2="259.2" y1="348.4" y2="348.4" stroke="#000" stroke-width="1.12"/>
<circle cx="254.6" cy="348.9" r="1.4" fill="#000"/><circle cx="256.8" cy="348.5" r="1.4" fill="#000"/><circle cx="259.0" cy="349.3" r="1.4" fill="#000"/>
<rect x="284.2" y="364.2" width="9.3" height="4.6" fill="#2351a8" stroke="#000" stroke-width="0.9"/>
<line x1="288.8" x2="288.8" y1="363.2" y2="364.2" stroke="#000" stroke-width="1.12"/><line x1="286.4" x2="291.2" y1="363.2" y2="363.2" stroke="#000" stroke-width="1.12"/>
<circle cx="286.6" cy="364.0" r="1.4" fill="#000"/><circle cx="288.8" cy="363.0" r="1.4" fill="#000"/><circle cx="291.0" cy="364.0" r="1.4" fill="#000"/>
<rect x="316.2" y="306.8" width="9.3" height="62.0" fill="#2351a8"/><line x1="316.2" x2="316.2" y1="306.8" y2="368.8" stroke="#000" stroke-width="1.12"/><line x1="325.5" x2="325.5" y1="306.8" y2="368.8" stroke="#000" stroke-width="1.12"/>
<rect x="316.2" y="258.0" width="9.3" height="36.8" fill="#2351a8"/><line x1="316.2" x2="316.2" y1="258.0" y2="294.8" stroke="#000" stroke-width="1.12"/><line x1="325.5" x2="325.5" y1="258.0" y2="294.8" stroke="#000" stroke-width="1.12"/>
<rect x="316.2" y="239.4" width="9.3" height="7.8" fill="#2351a8"/><line x1="316.2" x2="316.2" y1="239.4" y2="247.2" stroke="#000" stroke-width="1.12"/><line x1="325.5" x2="325.5" y1="239.4" y2="247.2" stroke="#000" stroke-width="1.12"/><line x1="315.8" x2="326.0" y1="239.4" y2="239.4" stroke="#000" stroke-width="1.12"/>
<line x1="320.9" x2="320.9" y1="238.2" y2="239.4" stroke="#000" stroke-width="1.12"/><line x1="318.5" x2="323.3" y1="238.2" y2="238.2" stroke="#000" stroke-width="1.12"/>
<circle cx="318.7" cy="240.6" r="1.4" fill="#000"/><circle cx="320.9" cy="241.0" r="1.4" fill="#000"/><circle cx="323.1" cy="240.6" r="1.4" fill="#000"/>
<rect x="318.4" y="239.8" width="5" height="1.6" fill="#fff"/>
<rect x="348.3" y="325.6" width="9.3" height="43.2" fill="#2351a8" stroke="#000" stroke-width="0.9"/>
<line x1="353.0" x2="353.0" y1="314.6" y2="325.6" stroke="#000" stroke-width="1.12"/><line x1="350.6" x2="355.4" y1="314.6" y2="314.6" stroke="#000" stroke-width="1.12"/>
<circle cx="350.4" cy="330.8" r="1.4" fill="#000"/><circle cx="353.0" cy="313.9" r="1.4" fill="#000"/><circle cx="355.6" cy="329.8" r="1.4" fill="#000"/>
<line x1="112.5" x2="112.5" y1="368.8" y2="374.3" stroke="#000" stroke-width="1.12"/>
<text transform="translate(118.4 379.0) rotate(-45)" text-anchor="end" class="b" font-size="8.1">T-1</text>
<line x1="128.5" x2="128.5" y1="368.8" y2="374.3" stroke="#000" stroke-width="1.12"/>
<text transform="translate(134.4 379.0) rotate(-45)" text-anchor="end" class="b" font-size="8.1">N-1</text>
<line x1="144.6" x2="144.6" y1="368.8" y2="374.3" stroke="#000" stroke-width="1.12"/>
<text transform="translate(150.5 379.0) rotate(-45)" text-anchor="end" class="b" font-size="8.1">T-2</text>
<line x1="160.6" x2="160.6" y1="368.8" y2="374.3" stroke="#000" stroke-width="1.12"/>
<text transform="translate(166.5 379.0) rotate(-45)" text-anchor="end" class="b" font-size="8.1">N-2</text>
<line x1="176.6" x2="176.6" y1="368.8" y2="374.3" stroke="#000" stroke-width="1.12"/>
<text transform="translate(182.5 379.0) rotate(-45)" text-anchor="end" class="b" font-size="8.1">T-3</text>
<line x1="192.7" x2="192.7" y1="368.8" y2="374.3" stroke="#000" stroke-width="1.12"/>
<text transform="translate(198.6 379.0) rotate(-45)" text-anchor="end" class="b" font-size="8.1">N-3</text>
<line x1="208.7" x2="208.7" y1="368.8" y2="374.3" stroke="#000" stroke-width="1.12"/>
<text transform="translate(214.6 379.0) rotate(-45)" text-anchor="end" class="b" font-size="8.1">T-4</text>
<line x1="224.7" x2="224.7" y1="368.8" y2="374.3" stroke="#000" stroke-width="1.12"/>
<text transform="translate(230.6 379.0) rotate(-45)" text-anchor="end" class="b" font-size="8.1">N-4</text>
<line x1="240.7" x2="240.7" y1="368.8" y2="374.3" stroke="#000" stroke-width="1.12"/>
<text transform="translate(246.6 379.0) rotate(-45)" text-anchor="end" class="b" font-size="8.1">T-5</text>
<line x1="256.8" x2="256.8" y1="368.8" y2="374.3" stroke="#000" stroke-width="1.12"/>
<text transform="translate(262.7 379.0) rotate(-45)" text-anchor="end" class="b" font-size="8.1">N-5</text>
<line x1="272.8" x2="272.8" y1="368.8" y2="374.3" stroke="#000" stroke-width="1.12"/>
<text transform="translate(278.7 379.0) rotate(-45)" text-anchor="end" class="b" font-size="8.1">T-6</text>
<line x1="288.8" x2="288.8" y1="368.8" y2="374.3" stroke="#000" stroke-width="1.12"/>
<text transform="translate(294.7 379.0) rotate(-45)" text-anchor="end" class="b" font-size="8.1">N-6</text>
<line x1="304.9" x2="304.9" y1="368.8" y2="374.3" stroke="#000" stroke-width="1.12"/>
<text transform="translate(310.8 379.0) rotate(-45)" text-anchor="end" class="b" font-size="8.1">T-7</text>
<line x1="320.9" x2="320.9" y1="368.8" y2="374.3" stroke="#000" stroke-width="1.12"/>
<text transform="translate(326.8 379.0) rotate(-45)" text-anchor="end" class="b" font-size="8.1">N-7</text>
<line x1="336.9" x2="336.9" y1="368.8" y2="374.3" stroke="#000" stroke-width="1.12"/>
<text transform="translate(342.8 379.0) rotate(-45)" text-anchor="end" class="b" font-size="8.1">T-8</text>
<line x1="353.0" x2="353.0" y1="368.8" y2="374.3" stroke="#000" stroke-width="1.12"/>
<text transform="translate(358.9 379.0) rotate(-45)" text-anchor="end" class="b" font-size="8.1">N-8</text>
<line x1="113.4" x2="128.7" y1="329.8" y2="329.8" stroke="#000" stroke-width="1.85"/><text x="121.8" y="326.8" text-anchor="middle" class="b" font-size="10.6" letter-spacing="1.5">**</text>
<line x1="145.5" x2="160.8" y1="329.8" y2="329.8" stroke="#000" stroke-width="1.85"/><text x="153.9" y="326.8" text-anchor="middle" class="b" font-size="10.6" letter-spacing="1.5">***</text>
<line x1="177.5" x2="192.8" y1="260.9" y2="260.9" stroke="#000" stroke-width="1.85"/><text x="185.9" y="257.9" text-anchor="middle" class="b" font-size="10.6" letter-spacing="1.5">***</text>
<line x1="209.6" x2="224.9" y1="260.9" y2="260.9" stroke="#000" stroke-width="1.85"/><text x="218.0" y="257.9" text-anchor="middle" class="b" font-size="10.6" letter-spacing="1.5">***</text>
<line x1="241.6" x2="257.0" y1="329.8" y2="329.8" stroke="#000" stroke-width="1.85"/><text x="250.1" y="326.8" text-anchor="middle" class="b" font-size="10.6" letter-spacing="1.5">***</text>
<line x1="273.7" x2="289.0" y1="329.8" y2="329.8" stroke="#000" stroke-width="1.85"/><text x="279.8" y="323.4" text-anchor="middle" font-size="8.2">ns</text>
<line x1="305.8" x2="321.1" y1="224.7" y2="224.7" stroke="#000" stroke-width="1.85"/><text x="314.2" y="221.7" text-anchor="middle" class="b" font-size="10.6" letter-spacing="1.5">***</text>
<line x1="337.8" x2="353.2" y1="260.9" y2="260.9" stroke="#000" stroke-width="1.85"/><text x="346.2" y="257.9" text-anchor="middle" class="b" font-size="10.6" letter-spacing="1.5">**</text>
</g>
<g id="pE">
<filter id="bl5" x="-40%" y="-100%" width="180%" height="300%"><feGaussianBlur stdDeviation="2.0 1.6"/></filter>
<text x="412.2" y="228" class="b" font-size="15.3">E</text>
<text x="439.0" y="263.7" font-size="14.2">PPP2R2B</text>
<text x="439.0" y="291.0" font-size="14.2">GAPDH</text>
<text x="439.0" y="337.0" font-size="14.2">PPP2R2B</text>
<text x="439.0" y="365.0" font-size="14.2">GAPDH</text>
<text x="662.8" y="263.0" font-size="11.5">50</text>
<line x1="656" x2="660.6" y1="259.2" y2="259.2" stroke="#333" stroke-width="0.7"/>
<text x="662.8" y="290.4" font-size="11.5">36</text>
<line x1="656" x2="660.6" y1="286.6" y2="286.6" stroke="#333" stroke-width="0.7"/>
<text x="662.8" y="336.3" font-size="11.5">50</text>
<line x1="656" x2="660.6" y1="332.5" y2="332.5" stroke="#333" stroke-width="0.7"/>
<text x="662.8" y="364.6" font-size="11.5">36</text>
<line x1="656" x2="660.6" y1="360.8" y2="360.8" stroke="#333" stroke-width="0.7"/>
<text transform="translate(517.9 246.6) rotate(-45)" font-size="11.8">T1</text>
<text transform="translate(535.8 246.6) rotate(-45)" font-size="11.8">N1</text>
<text transform="translate(553.8 246.6) rotate(-45)" font-size="11.8">T2</text>
<text transform="translate(571.7 246.6) rotate(-45)" font-size="11.8">N2</text>
<text transform="translate(589.6 246.6) rotate(-45)" font-size="11.8">T3</text>
<text transform="translate(607.5 246.6) rotate(-45)" font-size="11.8">N3</text>
<text transform="translate(625.5 246.6) rotate(-45)" font-size="11.8">T4</text>
<text transform="translate(643.4 246.6) rotate(-45)" font-size="11.8">N4</text>
<text transform="translate(517.9 319.6) rotate(-45)" font-size="11.8">T5</text>
<text transform="translate(535.8 319.6) rotate(-45)" font-size="11.8">N5</text>
<text transform="translate(553.8 319.6) rotate(-45)" font-size="11.8">T6</text>
<text transform="translate(571.7 319.6) rotate(-45)" font-size="11.8">N6</text>
<text transform="translate(589.6 319.6) rotate(-45)" font-size="11.8">T7</text>
<text transform="translate(607.5 319.6) rotate(-45)" font-size="11.8">N7</text>
<text transform="translate(625.5 319.6) rotate(-45)" font-size="11.8">T8</text>
<text transform="translate(643.4 319.6) rotate(-45)" font-size="11.8">N8</text>
<clipPath id="cE1"><rect x="508.2" y="250.1" width="147.8" height="19.6"/></clipPath>
<linearGradient id="cE1g" x1="0" y1="0" x2="0" y2="1"><stop offset="0.00" stop-color="#909090"/><stop offset="0.25" stop-color="#adadad"/><stop offset="0.50" stop-color="#bcbcbc"/><stop offset="0.75" stop-color="#c8c8c8"/><stop offset="1.00" stop-color="#d6d6d6"/></linearGradient>
<rect x="508.2" y="250.1" width="147.8" height="19.6" fill="url(#cE1g)"/>
<g clip-path="url(#cE1)"><ellipse cx="520.3" cy="259.8" rx="8.5" ry="3.5" fill="#000" opacity="0.18" filter="url(#bl5)"/><rect x="513.0" y="258.3" width="14.5" height="3.0" rx="1.5" fill="#000" opacity="0.82" filter="url(#bl1)" transform="rotate(0.0 520.3 259.8)"/><ellipse cx="538.2" cy="259.8" rx="8.5" ry="3.5" fill="#000" opacity="0.21" filter="url(#bl5)"/><rect x="531.0" y="258.0" width="14.5" height="3.6" rx="1.8" fill="#000" opacity="0.95" filter="url(#bl1)" transform="rotate(0.0 538.2 259.8)"/><ellipse cx="556.2" cy="259.8" rx="8.5" ry="3.5" fill="#000" opacity="0.21" filter="url(#bl5)"/><rect x="548.9" y="258.0" width="14.5" height="3.6" rx="1.8" fill="#000" opacity="0.97" filter="url(#bl1)" transform="rotate(0.0 556.2 259.8)"/><ellipse cx="574.1" cy="259.2" rx="8.5" ry="3.5" fill="#000" opacity="0.22" filter="url(#bl5)"/><rect x="566.8" y="257.1" width="14.5" height="4.2" rx="2.1" fill="#000" opacity="1.00" filter="url(#bl1)" transform="rotate(0.0 574.1 259.2)"/><ellipse cx="592.0" cy="259.8" rx="8.5" ry="3.5" fill="#000" opacity="0.12" filter="url(#bl5)"/><rect x="584.8" y="258.5" width="14.5" height="2.6" rx="1.3" fill="#000" opacity="0.55" filter="url(#bl1)" transform="rotate(0.0 592.0 259.8)"/><ellipse cx="609.9" cy="259.8" rx="8.5" ry="3.5" fill="#000" opacity="0.19" filter="url(#bl5)"/><rect x="602.7" y="258.1" width="14.5" height="3.4" rx="1.7" fill="#000" opacity="0.88" filter="url(#bl1)" transform="rotate(0.0 609.9 259.8)"/><ellipse cx="627.9" cy="259.8" rx="8.5" ry="3.5" fill="#000" opacity="0.09" filter="url(#bl5)"/><rect x="620.6" y="258.6" width="14.5" height="2.4" rx="1.2" fill="#000" opacity="0.42" filter="url(#bl1)" transform="rotate(0.0 627.9 259.8)"/><ellipse cx="645.8" cy="259.2" rx="8.5" ry="3.5" fill="#000" opacity="0.21" filter="url(#bl5)"/><rect x="638.6" y="257.4" width="14.5" height="3.6" rx="1.8" fill="#000" opacity="0.97" filter="url(#bl1)" transform="rotate(0.0 645.8 259.2)"/></g>
<rect x="508.2" y="250.1" width="147.8" height="19.6" fill="none" stroke="#3a3a3a" stroke-width="0.8"/>
<clipPath id="cE2"><rect x="508.2" y="277.7" width="147.8" height="19.6"/></clipPath>
<linearGradient id="cE2g" x1="0" y1="0" x2="0" y2="1"><stop offset="0.00" stop-color="#f4f4f4"/><stop offset="1.00" stop-color="#fbfbfb"/></linearGradient>
<rect x="508.2" y="277.7" width="147.8" height="19.6" fill="url(#cE2g)"/>
<g clip-path="url(#cE2)"><rect x="513.1" y="285.3" width="14.4" height="3.6" rx="1.8" fill="#000" opacity="1.00" filter="url(#bl2)" transform="rotate(0.0 520.3 287.1)"/><rect x="531.0" y="285.3" width="14.4" height="3.6" rx="1.8" fill="#000" opacity="1.00" filter="url(#bl2)" transform="rotate(0.0 538.2 287.1)"/><rect x="548.5" y="284.7" width="15.4" height="4.8" rx="2.4" fill="#000" opacity="1.00" filter="url(#bl2)" transform="rotate(0.0 556.2 287.1)"/><rect x="566.9" y="285.3" width="14.4" height="3.6" rx="1.8" fill="#000" opacity="1.00" filter="url(#bl2)" transform="rotate(0.0 574.1 287.1)"/><rect x="584.8" y="285.3" width="14.4" height="3.6" rx="1.8" fill="#000" opacity="1.00" filter="url(#bl2)" transform="rotate(0.0 592.0 287.1)"/><rect x="602.7" y="285.3" width="14.4" height="3.6" rx="1.8" fill="#000" opacity="1.00" filter="url(#bl2)" transform="rotate(0.0 609.9 287.1)"/><rect x="620.7" y="285.3" width="14.4" height="3.6" rx="1.8" fill="#000" opacity="1.00" filter="url(#bl2)" transform="rotate(0.0 627.9 287.1)"/><rect x="638.6" y="285.3" width="14.4" height="3.6" rx="1.8" fill="#000" opacity="1.00" filter="url(#bl2)" transform="rotate(0.0 645.8 287.1)"/></g>
<rect x="508.2" y="277.7" width="147.8" height="19.6" fill="none" stroke="#3a3a3a" stroke-width="0.8"/>
<clipPath id="cE3"><rect x="508.2" y="323.4" width="147.8" height="20.0"/></clipPath>
<linearGradient id="cE3g" x1="0" y1="0" x2="0" y2="1"><stop offset="0.00" stop-color="#787878"/><stop offset="0.25" stop-color="#8e8e8e"/><stop offset="0.50" stop-color="#9c9c9c"/><stop offset="0.75" stop-color="#a8a8a8"/><stop offset="1.00" stop-color="#b8b8b8"/></linearGradient>
<rect x="508.2" y="323.4" width="147.8" height="20.0" fill="url(#cE3g)"/>
<g clip-path="url(#cE3)"><ellipse cx="520.3" cy="332.6" rx="8.5" ry="3.5" fill="#000" opacity="0.23" filter="url(#bl5)"/><rect x="513.0" y="330.8" width="14.5" height="3.6" rx="1.8" fill="#000" opacity="0.92" filter="url(#bl1)" transform="rotate(0.0 520.3 332.6)"/><ellipse cx="538.2" cy="332.6" rx="8.5" ry="3.5" fill="#000" opacity="0.24" filter="url(#bl5)"/><rect x="531.0" y="330.6" width="14.5" height="4.0" rx="2.0" fill="#000" opacity="0.98" filter="url(#bl1)" transform="rotate(0.0 538.2 332.6)"/><ellipse cx="556.2" cy="332.6" rx="8.5" ry="3.5" fill="#000" opacity="0.19" filter="url(#bl5)"/><rect x="548.9" y="330.9" width="14.5" height="3.4" rx="1.7" fill="#000" opacity="0.75" filter="url(#bl1)" transform="rotate(0.0 556.2 332.6)"/><ellipse cx="574.1" cy="332.6" rx="8.5" ry="3.5" fill="#000" opacity="0.14" filter="url(#bl5)"/><rect x="566.8" y="331.1" width="14.5" height="3.0" rx="1.5" fill="#000" opacity="0.55" filter="url(#bl1)" transform="rotate(0.0 574.1 332.6)"/><ellipse cx="592.0" cy="332.6" rx="8.5" ry="3.5" fill="#000" opacity="0.10" filter="url(#bl5)"/><rect x="584.8" y="331.2" width="14.5" height="2.8" rx="1.4" fill="#000" opacity="0.42" filter="url(#bl1)" transform="rotate(0.0 592.0 332.6)"/><ellipse cx="609.9" cy="332.6" rx="8.5" ry="3.5" fill="#000" opacity="0.25" filter="url(#bl5)"/><rect x="602.7" y="330.5" width="14.5" height="4.2" rx="2.1" fill="#000" opacity="1.00" filter="url(#bl1)" transform="rotate(0.0 609.9 332.6)"/><ellipse cx="627.9" cy="332.6" rx="8.5" ry="3.5" fill="#000" opacity="0.09" filter="url(#bl5)"/><rect x="620.6" y="331.3" width="14.5" height="2.6" rx="1.3" fill="#000" opacity="0.35" filter="url(#bl1)" transform="rotate(0.0 627.9 332.6)"/><ellipse cx="645.8" cy="332.6" rx="8.5" ry="3.5" fill="#000" opacity="0.14" filter="url(#bl5)"/><rect x="638.6" y="331.1" width="14.5" height="3.0" rx="1.5" fill="#000" opacity="0.55" filter="url(#bl1)" transform="rotate(0.0 645.8 332.6)"/></g>
<rect x="508.2" y="323.4" width="147.8" height="20.0" fill="none" stroke="#3a3a3a" stroke-width="0.8"/>
<clipPath id="cE4"><rect x="508.2" y="351.6" width="147.8" height="19.2"/></clipPath>
<linearGradient id="cE4g" x1="0" y1="0" x2="0" y2="1"><stop offset="0.00" stop-color="#f2f2f2"/><stop offset="1.00" stop-color="#fbfbfb"/></linearGradient>
<rect x="508.2" y="351.6" width="147.8" height="19.2" fill="url(#cE4g)"/>
<g clip-path="url(#cE4)"><rect x="513.1" y="359.6" width="14.4" height="3.5" rx="1.8" fill="#000" opacity="1.00" filter="url(#bl2)" transform="rotate(0.0 520.3 361.3)"/><rect x="531.0" y="359.7" width="14.4" height="3.3" rx="1.7" fill="#000" opacity="1.00" filter="url(#bl2)" transform="rotate(0.0 538.2 361.3)"/><rect x="549.0" y="359.6" width="14.4" height="3.5" rx="1.8" fill="#000" opacity="1.00" filter="url(#bl2)" transform="rotate(0.0 556.2 361.3)"/><rect x="566.9" y="359.8" width="14.4" height="3.0" rx="1.5" fill="#000" opacity="1.00" filter="url(#bl2)" transform="rotate(0.0 574.1 361.3)"/><rect x="585.5" y="359.9" width="13.0" height="2.8" rx="1.4" fill="#000" opacity="1.00" filter="url(#bl2)" transform="rotate(0.0 592.0 361.3)"/><rect x="603.4" y="359.8" width="13.0" height="3.0" rx="1.5" fill="#000" opacity="0.95" filter="url(#bl2)" transform="rotate(0.0 609.9 361.3)"/><rect x="620.7" y="359.6" width="14.4" height="3.4" rx="1.7" fill="#000" opacity="1.00" filter="url(#bl2)" transform="rotate(0.0 627.9 361.3)"/><rect x="638.6" y="359.7" width="14.4" height="3.2" rx="1.6" fill="#000" opacity="1.00" filter="url(#bl2)" transform="rotate(0.0 645.8 361.3)"/></g>
<rect x="508.2" y="351.6" width="147.8" height="19.2" fill="none" stroke="#3a3a3a" stroke-width="0.8"/>
</g>
<g id="pF">
<text x="5.2" y="410.3" class="b" font-size="15.3">F</text>
<text x="95.8" y="416.5" text-anchor="middle" font-size="10.9">Tumor</text>
<text x="205.1" y="416.5" text-anchor="middle" font-size="10.9">Normal</text>
<clipPath id="cF1"><rect x="46.1" y="422.2" width="99.1" height="55.4"/></clipPath>
<rect x="46.1" y="422.2" width="99.1" height="55.4" fill="#e4e5ee"/>
<g clip-path="url(#cF1)" filter="url(#bl3)"><ellipse cx="90.9" cy="453.2" rx="4.8" ry="1.3" fill="#f4f4f7" opacity="0.9" transform="rotate(130 90.9 453.2)"/><ellipse cx="130.8" cy="432.7" rx="4.4" ry="1.3" fill="#f4f4f7" opacity="0.9" transform="rotate(157 130.8 432.7)"/><ellipse cx="124.7" cy="427.4" rx="2.6" ry="0.8" fill="#f4f4f7" opacity="0.9" transform="rotate(177 124.7 427.4)"/><ellipse cx="109.0" cy="455.2" rx="2.9" ry="1.3" fill="#f4f4f7" opacity="0.9" transform="rotate(157 109.0 455.2)"/><ellipse cx="110.5" cy="456.7" rx="4.5" ry="0.8" fill="#f4f4f7" opacity="0.9" transform="rotate(9 110.5 456.7)"/><ellipse cx="64.9" cy="435.6" rx="1.6" ry="1.3" fill="#f4f4f7" opacity="0.9" transform="rotate(112 64.9 435.6)"/><ellipse cx="104.7" cy="433.0" rx="2.3" ry="1.1" fill="#f4f4f7" opacity="0.9" transform="rotate(1 104.7 433.0)"/><ellipse cx="111.7" cy="447.5" rx="2.5" ry="2.0" fill="#f4f4f7" opacity="0.9" transform="rotate(21 111.7 447.5)"/><ellipse cx="116.2" cy="439.7" rx="2.3" ry="1.1" fill="#f4f4f7" opacity="0.9" transform="rotate(17 116.2 439.7)"/><ellipse cx="101.9" cy="428.2" rx="1.9" ry="1.1" fill="#f4f4f7" opacity="0.9" transform="rotate(17 101.9 428.2)"/><ellipse cx="141.0" cy="469.1" rx="1.5" ry="1.0" fill="#f4f4f7" opacity="0.9" transform="rotate(13 141.0 469.1)"/><ellipse cx="92.7" cy="476.5" rx="2.9" ry="0.8" fill="#f4f4f7" opacity="0.9" transform="rotate(161 92.7 476.5)"/><ellipse cx="65.8" cy="459.6" rx="2.7" ry="1.1" fill="#f4f4f7" opacity="0.9" transform="rotate(3 65.8 459.6)"/><ellipse cx="141.6" cy="464.2" rx="1.9" ry="1.0" fill="#f4f4f7" opacity="0.9" transform="rotate(25 141.6 464.2)"/><ellipse cx="47.2" cy="448.0" rx="3.3" ry="1.6" fill="#f4f4f7" opacity="0.9" transform="rotate(48 47.2 448.0)"/><ellipse cx="90.4" cy="432.8" rx="4.1" ry="0.9" fill="#f4f4f7" opacity="0.9" transform="rotate(164 90.4 432.8)"/><ellipse cx="84.1" cy="444.1" rx="5.1" ry="0.7" fill="#f4f4f7" opacity="0.9" transform="rotate(151 84.1 444.1)"/><ellipse cx="76.2" cy="471.2" rx="2.3" ry="1.2" fill="#f4f4f7" opacity="0.9" transform="rotate(154 76.2 471.2)"/><ellipse cx="109.7" cy="427.8" rx="5.1" ry="1.0" fill="#f4f4f7" opacity="0.9" transform="rotate(66 109.7 427.8)"/><ellipse cx="47.0" cy="456.0" rx="4.5" ry="1.2" fill="#f4f4f7" opacity="0.9" transform="rotate(19 47.0 456.0)"/><ellipse cx="55.0" cy="454.5" rx="2.4" ry="1.5" fill="#f4f4f7" opacity="0.9" transform="rotate(95 55.0 454.5)"/><ellipse cx="107.8" cy="429.2" rx="3.6" ry="1.8" fill="#f4f4f7" opacity="0.9" transform="rotate(34 107.8 429.2)"/><ellipse cx="132.0" cy="432.3" rx="2.1" ry="1.9" fill="#f4f4f7" opacity="0.9" transform="rotate(156 132.0 432.3)"/><ellipse cx="70.8" cy="432.7" rx="4.2" ry="1.9" fill="#f4f4f7" opacity="0.9" transform="rotate(50 70.8 432.7)"/><ellipse cx="114.2" cy="443.7" rx="3.2" ry="0.8" fill="#f4f4f7" opacity="0.9" transform="rotate(12 114.2 443.7)"/><ellipse cx="56.4" cy="424.3" rx="5.0" ry="1.0" fill="#f4f4f7" opacity="0.9" transform="rotate(180 56.4 424.3)"/><ellipse cx="84.9" cy="445.5" rx="4.8" ry="1.3" fill="#f4f4f7" opacity="0.9" transform="rotate(133 84.9 445.5)"/><ellipse cx="63.5" cy="462.1" rx="1.7" ry="1.0" fill="#f4f4f7" opacity="0.9" transform="rotate(143 63.5 462.1)"/><ellipse cx="110.9" cy="456.3" rx="1.8" ry="1.0" fill="#f4f4f7" opacity="0.9" transform="rotate(52 110.9 456.3)"/><ellipse cx="120.3" cy="426.0" rx="3.0" ry="1.0" fill="#f4f4f7" opacity="0.9" transform="rotate(11 120.3 426.0)"/><ellipse cx="63.6" cy="442.6" rx="3.6" ry="0.9" fill="#f4f4f7" opacity="0.9" transform="rotate(92 63.6 442.6)"/><ellipse cx="59.8" cy="447.1" rx="2.7" ry="1.7" fill="#f4f4f7" opacity="0.9" transform="rotate(133 59.8 447.1)"/><ellipse cx="104.0" cy="430.0" rx="1.6" ry="0.7" fill="#f4f4f7" opacity="0.9" transform="rotate(91 104.0 430.0)"/><ellipse cx="115.6" cy="475.5" rx="1.6" ry="1.5" fill="#f4f4f7" opacity="0.9" transform="rotate(123 115.6 475.5)"/><ellipse cx="52.8" cy="439.4" rx="2.0" ry="0.8" fill="#f4f4f7" opacity="0.9" transform="rotate(115 52.8 439.4)"/><ellipse cx="100.2" cy="463.0" rx="4.7" ry="1.7" fill="#f4f4f7" opacity="0.9" transform="rotate(180 100.2 463.0)"/><ellipse cx="58.9" cy="475.6" rx="2.7" ry="0.8" fill="#f4f4f7" opacity="0.9" transform="rotate(121 58.9 475.6)"/><ellipse cx="135.4" cy="470.5" rx="3.0" ry="1.7" fill="#f4f4f7" opacity="0.9" transform="rotate(127 135.4 470.5)"/><ellipse cx="102.9" cy="456.8" rx="2.9" ry="1.5" fill="#f4f4f7" opacity="0.9" transform="rotate(155 102.9 456.8)"/><ellipse cx="53.3" cy="427.2" rx="1.9" ry="1.0" fill="#f4f4f7" opacity="0.9" transform="rotate(106 53.3 427.2)"/><ellipse cx="118.3" cy="443.7" rx="4.1" ry="1.5" fill="#f4f4f7" opacity="0.9" transform="rotate(112 118.3 443.7)"/><ellipse cx="91.9" cy="452.2" rx="3.4" ry="1.4" fill="#f4f4f7" opacity="0.9" transform="rotate(79 91.9 452.2)"/><ellipse cx="105.7" cy="448.8" rx="2.3" ry="1.6" fill="#f4f4f7" opacity="0.9" transform="rotate(127 105.7 448.8)"/><ellipse cx="123.4" cy="458.8" rx="3.3" ry="1.9" fill="#f4f4f7" opacity="0.9" transform="rotate(94 123.4 458.8)"/><ellipse cx="75.9" cy="459.8" rx="2.2" ry="0.9" fill="#f4f4f7" opacity="0.9" transform="rotate(87 75.9 459.8)"/><ellipse cx="111.5" cy="446.7" rx="4.7" ry="1.1" fill="#f4f4f7" opacity="0.9" transform="rotate(170 111.5 446.7)"/><ellipse cx="70.9" cy="457.3" rx="4.4" ry="1.7" fill="#f4f4f7" opacity="0.9" transform="rotate(51 70.9 457.3)"/><ellipse cx="133.3" cy="443.5" rx="3.6" ry="1.1" fill="#f4f4f7" opacity="0.9" transform="rotate(34 133.3 443.5)"/><ellipse cx="59.4" cy="441.6" rx="4.7" ry="0.8" fill="#f4f4f7" opacity="0.9" transform="rotate(16 59.4 441.6)"/><ellipse cx="140.2" cy="437.5" rx="2.1" ry="1.3" fill="#f4f4f7" opacity="0.9" transform="rotate(70 140.2 437.5)"/><ellipse cx="137.8" cy="468.2" rx="2.9" ry="1.4" fill="#f4f4f7" opacity="0.9" transform="rotate(172 137.8 468.2)"/><ellipse cx="77.4" cy="468.7" rx="5.0" ry="1.3" fill="#f4f4f7" opacity="0.9" transform="rotate(19 77.4 468.7)"/><ellipse cx="128.2" cy="437.6" rx="3.7" ry="1.6" fill="#f4f4f7" opacity="0.9" transform="rotate(71 128.2 437.6)"/><ellipse cx="102.6" cy="439.3" rx="4.3" ry="0.7" fill="#f4f4f7" opacity="0.9" transform="rotate(34 102.6 439.3)"/><ellipse cx="86.3" cy="432.7" rx="4.3" ry="1.0" fill="#f4f4f7" opacity="0.9" transform="rotate(36 86.3 432.7)"/><ellipse cx="125.1" cy="476.7" rx="1.9" ry="0.8" fill="#f4f4f7" opacity="0.9" transform="rotate(137 125.1 476.7)"/><ellipse cx="111.0" cy="466.9" rx="5.0" ry="1.6" fill="#f4f4f7" opacity="0.9" transform="rotate(51 111.0 466.9)"/><ellipse cx="127.7" cy="436.4" rx="4.1" ry="1.7" fill="#f4f4f7" opacity="0.9" transform="rotate(136 127.7 436.4)"/><ellipse cx="116.9" cy="432.1" rx="2.5" ry="1.1" fill="#f4f4f7" opacity="0.9" transform="rotate(178 116.9 432.1)"/><ellipse cx="139.9" cy="449.9" rx="5.1" ry="0.9" fill="#f4f4f7" opacity="0.9" transform="rotate(179 139.9 449.9)"/><ellipse cx="135.9" cy="427.0" rx="4.9" ry="1.6" fill="#f4f4f7" opacity="0.9" transform="rotate(33 135.9 427.0)"/><ellipse cx="90.7" cy="433.1" rx="4.7" ry="0.7" fill="#f4f4f7" opacity="0.9" transform="rotate(140 90.7 433.1)"/><ellipse cx="102.5" cy="470.9" rx="4.4" ry="1.9" fill="#f4f4f7" opacity="0.9" transform="rotate(118 102.5 470.9)"/><ellipse cx="78.5" cy="476.6" rx="1.9" ry="1.8" fill="#f4f4f7" opacity="0.9" transform="rotate(164 78.5 476.6)"/><ellipse cx="137.7" cy="429.0" rx="2.4" ry="1.2" fill="#f4f4f7" opacity="0.9" transform="rotate(22 137.7 429.0)"/><ellipse cx="143.0" cy="451.9" rx="4.3" ry="1.1" fill="#f4f4f7" opacity="0.9" transform="rotate(4 143.0 451.9)"/><ellipse cx="80.6" cy="426.8" rx="3.1" ry="1.4" fill="#f4f4f7" opacity="0.9" transform="rotate(70 80.6 426.8)"/><ellipse cx="94.4" cy="423.8" rx="4.4" ry="0.8" fill="#f4f4f7" opacity="0.9" transform="rotate(8 94.4 423.8)"/><ellipse cx="63.2" cy="440.8" rx="4.3" ry="0.9" fill="#f4f4f7" opacity="0.9" transform="rotate(38 63.2 440.8)"/><ellipse cx="145.2" cy="472.1" rx="3.4" ry="1.6" fill="#f4f4f7" opacity="0.9" transform="rotate(112 145.2 472.1)"/><ellipse cx="139.8" cy="449.5" rx="4.9" ry="0.8" fill="#f4f4f7" opacity="0.9" transform="rotate(56 139.8 449.5)"/><ellipse cx="89.6" cy="453.2" rx="4.5" ry="1.4" fill="#f4f4f7" opacity="0.9" transform="rotate(42 89.6 453.2)"/><ellipse cx="97.9" cy="468.9" rx="3.5" ry="1.1" fill="#f4f4f7" opacity="0.9" transform="rotate(97 97.9 468.9)"/><ellipse cx="140.7" cy="470.4" rx="3.7" ry="1.1" fill="#f4f4f7" opacity="0.9" transform="rotate(36 140.7 470.4)"/><ellipse cx="142.1" cy="451.2" rx="3.6" ry="1.0" fill="#f4f4f7" opacity="0.9" transform="rotate(137 142.1 451.2)"/><ellipse cx="57.4" cy="422.5" rx="2.9" ry="1.4" fill="#f4f4f7" opacity="0.9" transform="rotate(11 57.4 422.5)"/><ellipse cx="97.2" cy="444.4" rx="4.4" ry="1.4" fill="#f4f4f7" opacity="0.9" transform="rotate(125 97.2 444.4)"/><ellipse cx="55.3" cy="431.4" rx="4.9" ry="1.3" fill="#f4f4f7" opacity="0.9" transform="rotate(103 55.3 431.4)"/><ellipse cx="72.8" cy="448.4" rx="2.0" ry="1.3" fill="#f4f4f7" opacity="0.9" transform="rotate(121 72.8 448.4)"/><ellipse cx="98.1" cy="428.2" rx="3.0" ry="0.7" fill="#f4f4f7" opacity="0.9" transform="rotate(66 98.1 428.2)"/><ellipse cx="58.9" cy="465.4" rx="1.6" ry="1.0" fill="#f4f4f7" opacity="0.9" transform="rotate(58 58.9 465.4)"/><ellipse cx="47.3" cy="437.9" rx="4.1" ry="1.0" fill="#f4f4f7" opacity="0.9" transform="rotate(127 47.3 437.9)"/><ellipse cx="56.5" cy="462.7" rx="1.9" ry="1.4" fill="#f4f4f7" opacity="0.9" transform="rotate(64 56.5 462.7)"/><ellipse cx="117.2" cy="461.1" rx="4.7" ry="0.7" fill="#f4f4f7" opacity="0.9" transform="rotate(162 117.2 461.1)"/><ellipse cx="87.1" cy="451.5" rx="2.1" ry="1.0" fill="#f4f4f7" opacity="0.9" transform="rotate(161 87.1 451.5)"/><ellipse cx="99.0" cy="434.3" rx="2.3" ry="1.4" fill="#f4f4f7" opacity="0.9" transform="rotate(150 99.0 434.3)"/><ellipse cx="131.0" cy="435.1" rx="4.2" ry="1.8" fill="#f4f4f7" opacity="0.9" transform="rotate(46 131.0 435.1)"/><ellipse cx="77.4" cy="439.7" rx="4.8" ry="1.0" fill="#f4f4f7" opacity="0.9" transform="rotate(49 77.4 439.7)"/><ellipse cx="134.1" cy="429.6" rx="2.4" ry="1.6" fill="#f4f4f7" opacity="0.9" transform="rotate(66 134.1 429.6)"/><ellipse cx="84.5" cy="446.3" rx="4.9" ry="1.4" fill="#f4f4f7" opacity="0.9" transform="rotate(180 84.5 446.3)"/><g fill="#8f99c4" opacity="0.5"><circle cx="58.6" cy="444.5" r="1.30"/><circle cx="103.6" cy="429.6" r="1.29"/><circle cx="143.1" cy="467.4" r="1.23"/><circle cx="107.9" cy="427.9" r="1.18"/><circle cx="128.0" cy="427.3" r="0.86"/><circle cx="139.7" cy="456.9" r="0.91"/><circle cx="78.0" cy="465.9" r="1.46"/><circle cx="110.5" cy="445.6" r="0.85"/><circle cx="66.2" cy="469.8" r="1.30"/><circle cx="77.4" cy="469.8" r="1.47"/><circle cx="89.7" cy="451.5" r="1.17"/><circle cx="86.8" cy="442.4" r="0.92"/><circle cx="92.6" cy="440.2" r="0.95"/><circle cx="128.7" cy="462.4" r="0.89"/><circle cx="125.1" cy="450.5" r="1.54"/><circle cx="131.3" cy="474.5" r="1.47"/><circle cx="80.9" cy="451.9" r="1.18"/><circle cx="123.1" cy="435.9" r="1.08"/><circle cx="90.8" cy="424.9" r="1.42"/><circle cx="97.3" cy="464.0" r="0.79"/><circle cx="93.6" cy="440.8" r="1.25"/></g><g fill="#7984b8" opacity="0.5"><circle cx="66.0" cy="460.0" r="1.48"/><circle cx="120.3" cy="425.0" r="1.54"/><circle cx="125.1" cy="434.6" r="1.33"/><circle cx="134.8" cy="436.0" r="1.04"/><circle cx="63.7" cy="427.2" r="1.11"/><circle cx="68.0" cy="425.4" r="0.88"/><circle cx="47.8" cy="448.9" r="1.39"/><circle cx="107.8" cy="462.5" r="1.24"/><circle cx="111.5" cy="455.9" r="0.76"/><circle cx="70.3" cy="454.1" r="1.31"/><circle cx="79.4" cy="429.5" r="0.95"/><circle cx="98.1" cy="446.1" r="1.47"/><circle cx="46.2" cy="435.7" r="0.99"/><circle cx="84.1" cy="440.4" r="1.15"/><circle cx="115.5" cy="423.5" r="1.06"/><circle cx="93.0" cy="423.4" r="1.23"/><circle cx="102.5" cy="437.4" r="1.07"/><circle cx="63.7" cy="428.1" r="0.86"/><circle cx="86.6" cy="461.3" r="0.89"/><circle cx="142.5" cy="425.8" r="1.50"/><circle cx="121.7" cy="465.2" r="1.06"/><circle cx="75.8" cy="463.2" r="0.96"/><circle cx="104.9" cy="428.0" r="1.30"/><circle cx="82.3" cy="455.3" r="1.05"/><circle cx="54.6" cy="476.7" r="1.42"/><circle cx="115.7" cy="454.8" r="1.26"/><circle cx="122.1" cy="459.4" r="0.82"/><circle cx="103.0" cy="454.0" r="0.77"/></g><g fill="#8590c0" opacity="0.5"><circle cx="115.9" cy="457.4" r="1.02"/><circle cx="66.3" cy="468.7" r="1.54"/><circle cx="143.2" cy="423.5" r="1.24"/><circle cx="90.1" cy="457.9" r="1.19"/><circle cx="93.5" cy="433.9" r="1.02"/><circle cx="124.2" cy="426.9" r="0.82"/><circle cx="128.7" cy="471.4" r="1.52"/><circle cx="73.3" cy="471.3" r="1.13"/><circle cx="76.2" cy="465.9" r="1.08"/><circle cx="75.2" cy="428.5" r="1.37"/><circle cx="75.7" cy="440.9" r="1.06"/><circle cx="137.3" cy="445.9" r="1.16"/><circle cx="81.0" cy="449.9" r="0.86"/><circle cx="69.5" cy="474.8" r="1.53"/><circle cx="89.7" cy="465.0" r="1.38"/><circle cx="138.9" cy="442.1" r="1.36"/><circle cx="126.2" cy="476.2" r="0.99"/><circle cx="137.2" cy="434.2" r="1.30"/><circle cx="80.5" cy="471.3" r="1.00"/><circle cx="138.6" cy="477.0" r="0.79"/><circle cx="61.1" cy="422.6" r="1.36"/><circle cx="95.2" cy="439.3" r="1.18"/><circle cx="78.0" cy="427.4" r="1.02"/><circle cx="67.0" cy="463.4" r="1.19"/><circle cx="92.2" cy="449.3" r="0.82"/><circle cx="63.3" cy="456.4" r="1.52"/><circle cx="131.3" cy="444.5" r="0.98"/><circle cx="81.2" cy="449.8" r="0.91"/></g><g fill="#b4bbd8" opacity="0.8"><circle cx="125.7" cy="448.9" r="0.77"/><circle cx="132.9" cy="472.5" r="1.50"/><circle cx="82.4" cy="428.7" r="1.32"/><circle cx="102.0" cy="466.4" r="1.18"/><circle cx="65.7" cy="442.1" r="1.22"/><circle cx="63.2" cy="464.2" r="1.00"/><circle cx="114.8" cy="426.8" r="1.35"/><circle cx="135.4" cy="430.6" r="1.25"/><circle cx="96.6" cy="465.9" r="1.41"/><circle cx="142.6" cy="429.7" r="1.47"/><circle cx="121.0" cy="469.1" r="1.48"/><circle cx="109.1" cy="460.9" r="1.20"/><circle cx="111.3" cy="465.6" r="1.16"/><circle cx="51.4" cy="445.8" r="1.31"/><circle cx="97.5" cy="463.3" r="1.16"/><circle cx="110.1" cy="442.3" r="1.31"/><circle cx="102.3" cy="445.5" r="1.32"/><circle cx="99.7" cy="424.6" r="1.49"/><circle cx="126.3" cy="450.1" r="0.87"/><circle cx="86.2" cy="449.5" r="1.48"/><circle cx="56.9" cy="465.8" r="1.40"/><circle cx="106.5" cy="452.3" r="1.34"/><circle cx="60.3" cy="472.2" r="1.53"/><circle cx="53.7" cy="451.4" r="0.90"/><circle cx="94.6" cy="454.9" r="1.30"/><circle cx="49.3" cy="468.2" r="1.30"/><circle cx="50.8" cy="442.7" r="1.33"/><circle cx="64.4" cy="459.8" r="1.24"/></g><g fill="#a4acd0" opacity="0.5"><circle cx="97.1" cy="453.7" r="0.87"/><circle cx="105.7" cy="422.9" r="1.31"/><circle cx="102.1" cy="455.0" r="1.26"/><circle cx="135.2" cy="426.9" r="1.26"/><circle cx="61.0" cy="464.9" r="0.75"/><circle cx="129.0" cy="455.0" r="0.82"/><circle cx="135.0" cy="435.5" r="1.21"/><circle cx="82.6" cy="452.5" r="1.20"/><circle cx="118.9" cy="423.8" r="1.38"/><circle cx="68.5" cy="438.4" r="1.03"/><circle cx="115.0" cy="460.2" r="1.52"/><circle cx="76.8" cy="450.7" r="0.76"/><circle cx="135.2" cy="456.8" r="0.76"/><circle cx="78.0" cy="452.0" r="1.51"/><circle cx="69.3" cy="468.7" r="1.27"/><circle cx="93.6" cy="458.3" r="0.80"/><circle cx="104.5" cy="431.6" r="0.83"/><circle cx="136.2" cy="447.5" r="1.14"/><circle cx="120.7" cy="427.9" r="1.00"/><circle cx="96.2" cy="453.6" r="1.03"/><circle cx="65.5" cy="442.6" r="1.03"/><circle cx="77.4" cy="431.6" r="1.37"/></g><g fill="#9aa3ca" opacity="0.5"><circle cx="78.5" cy="448.1" r="1.16"/><circle cx="136.4" cy="463.4" r="1.37"/><circle cx="134.9" cy="470.9" r="1.31"/><circle cx="50.6" cy="427.7" r="1.40"/><circle cx="50.0" cy="425.6" r="0.97"/><circle cx="90.2" cy="470.0" r="1.32"/><circle cx="113.3" cy="461.4" r="0.89"/><circle cx="80.0" cy="458.3" r="0.84"/><circle cx="105.3" cy="467.1" r="1.11"/><circle cx="49.4" cy="451.4" r="0.84"/><circle cx="58.4" cy="447.0" r="1.15"/><circle cx="52.3" cy="471.8" r="1.40"/><circle cx="135.1" cy="439.3" r="1.15"/><circle cx="68.5" cy="429.5" r="1.28"/><circle cx="64.1" cy="449.2" r="1.18"/><circle cx="52.9" cy="447.9" r="1.11"/><circle cx="87.2" cy="442.5" r="1.28"/><circle cx="50.1" cy="456.6" r="1.08"/><circle cx="86.2" cy="472.3" r="1.42"/><circle cx="88.8" cy="422.7" r="1.15"/><circle cx="77.1" cy="463.0" r="1.54"/><circle cx="132.1" cy="429.2" r="1.54"/><circle cx="66.5" cy="462.0" r="1.45"/><circle cx="55.9" cy="442.8" r="1.00"/><circle cx="106.5" cy="454.9" r="1.00"/><circle cx="115.9" cy="444.2" r="0.82"/><circle cx="87.5" cy="449.1" r="0.81"/><circle cx="81.0" cy="458.3" r="1.49"/><circle cx="112.5" cy="426.1" r="0.81"/></g><g fill="#a4acd0" opacity="0.8"><circle cx="86.5" cy="442.1" r="1.05"/><circle cx="71.5" cy="444.4" r="0.79"/><circle cx="140.4" cy="450.0" r="1.27"/><circle cx="82.1" cy="444.1" r="1.06"/><circle cx="143.9" cy="450.8" r="1.32"/><circle cx="97.2" cy="476.3" r="1.47"/><circle cx="113.9" cy="451.0" r="1.51"/><circle cx="123.4" cy="431.4" r="1.24"/><circle cx="131.0" cy="423.9" r="0.84"/><circle cx="94.6" cy="464.4" r="1.54"/><circle cx="123.5" cy="434.1" r="1.03"/><circle cx="117.0" cy="437.1" r="1.04"/><circle cx="85.1" cy="435.4" r="0.78"/><circle cx="68.3" cy="462.2" r="1.08"/><circle cx="141.2" cy="422.8" r="1.17"/><circle cx="98.8" cy="439.7" r="1.52"/><circle cx="110.4" cy="434.7" r="1.13"/><circle cx="98.4" cy="452.5" r="1.07"/><circle cx="86.5" cy="471.9" r="1.49"/><circle cx="123.3" cy="428.0" r="1.34"/><circle cx="137.4" cy="466.7" r="0.95"/><circle cx="55.8" cy="465.6" r="0.92"/><circle cx="119.2" cy="441.3" r="0.88"/><circle cx="143.4" cy="428.3" r="1.04"/><circle cx="93.8" cy="460.2" r="1.03"/><circle cx="71.5" cy="434.4" r="0.97"/><circle cx="52.6" cy="450.4" r="1.34"/></g><g fill="#8f99c4" opacity="0.8"><circle cx="62.5" cy="450.6" r="0.76"/><circle cx="99.7" cy="445.2" r="1.17"/><circle cx="124.9" cy="465.1" r="1.38"/><circle cx="113.1" cy="463.6" r="1.38"/><circle cx="124.4" cy="442.8" r="1.28"/><circle cx="72.0" cy="433.4" r="1.53"/><circle cx="98.2" cy="436.9" r="1.22"/><circle cx="67.7" cy="431.1" r="1.22"/><circle cx="49.2" cy="461.4" r="0.92"/><circle cx="58.6" cy="425.7" r="0.80"/><circle cx="99.5" cy="459.6" r="0.97"/><circle cx="108.2" cy="447.1" r="1.00"/><circle cx="133.4" cy="440.0" r="1.35"/><circle cx="133.0" cy="426.2" r="1.15"/><circle cx="107.8" cy="439.2" r="0.76"/><circle cx="58.3" cy="470.8" r="1.51"/><circle cx="95.4" cy="468.2" r="1.16"/><circle cx="87.1" cy="422.8" r="0.87"/><circle cx="100.8" cy="473.6" r="1.26"/><circle cx="138.7" cy="463.9" r="1.21"/><circle cx="140.2" cy="473.5" r="1.44"/></g><g fill="#7984b8" opacity="0.65"><circle cx="65.0" cy="454.6" r="1.02"/><circle cx="86.3" cy="462.2" r="0.81"/><circle cx="51.0" cy="437.3" r="1.52"/><circle cx="136.6" cy="431.1" r="0.94"/><circle cx="92.9" cy="450.4" r="1.10"/><circle cx="137.7" cy="471.6" r="1.45"/><circle cx="95.1" cy="474.6" r="1.52"/><circle cx="71.5" cy="433.3" r="1.34"/><circle cx="139.8" cy="453.4" r="1.33"/><circle cx="122.1" cy="467.7" r="1.06"/><circle cx="136.6" cy="453.5" r="1.08"/><circle cx="76.4" cy="467.5" r="1.52"/><circle cx="52.1" cy="425.7" r="1.37"/><circle cx="134.3" cy="430.0" r="1.06"/><circle cx="100.0" cy="429.7" r="1.32"/><circle cx="112.0" cy="435.5" r="0.82"/><circle cx="134.0" cy="457.8" r="1.06"/><circle cx="108.0" cy="453.3" r="1.41"/><circle cx="79.1" cy="460.4" r="1.39"/><circle cx="63.5" cy="428.1" r="1.50"/><circle cx="78.2" cy="462.3" r="1.15"/><circle cx="136.4" cy="425.3" r="1.24"/><circle cx="132.3" cy="461.6" r="0.95"/><circle cx="87.1" cy="434.4" r="1.26"/><circle cx="79.1" cy="454.6" r="1.28"/><circle cx="59.0" cy="427.1" r="1.16"/><circle cx="97.6" cy="451.4" r="1.34"/><circle cx="99.3" cy="468.7" r="0.85"/><circle cx="94.6" cy="446.9" r="1.53"/><circle cx="62.8" cy="477.4" r="1.04"/></g><g fill="#8590c0" opacity="0.8"><circle cx="92.6" cy="422.8" r="1.03"/><circle cx="94.0" cy="437.1" r="1.49"/><circle cx="108.0" cy="442.1" r="0.97"/><circle cx="127.7" cy="422.7" r="1.00"/><circle cx="86.3" cy="453.0" r="1.55"/><circle cx="111.2" cy="474.3" r="1.45"/><circle cx="53.9" cy="434.6" r="1.00"/><circle cx="88.2" cy="426.4" r="0.78"/><circle cx="121.4" cy="448.4" r="1.14"/><circle cx="61.2" cy="448.2" r="1.54"/><circle cx="57.7" cy="432.3" r="1.06"/><circle cx="115.0" cy="432.2" r="0.85"/><circle cx="144.2" cy="467.4" r="1.45"/><circle cx="144.5" cy="444.1" r="1.41"/><circle cx="124.8" cy="422.4" r="1.52"/><circle cx="113.2" cy="466.6" r="1.11"/><circle cx="53.2" cy="428.6" r="1.42"/><circle cx="116.7" cy="461.1" r="1.07"/><circle cx="140.2" cy="428.3" r="1.50"/><circle cx="49.5" cy="435.9" r="0.82"/></g><g fill="#8f99c4" opacity="0.65"><circle cx="67.5" cy="444.7" r="0.90"/><circle cx="97.1" cy="449.8" r="0.92"/><circle cx="108.8" cy="444.8" r="1.30"/><circle cx="108.0" cy="447.4" r="0.91"/><circle cx="99.4" cy="462.1" r="1.32"/><circle cx="121.1" cy="476.8" r="1.03"/><circle cx="76.2" cy="430.8" r="1.49"/><circle cx="54.3" cy="437.2" r="1.32"/><circle cx="61.7" cy="429.1" r="1.08"/><circle cx="138.2" cy="442.2" r="1.12"/><circle cx="81.4" cy="454.6" r="0.79"/><circle cx="107.7" cy="473.0" r="1.22"/><circle cx="114.5" cy="468.2" r="1.38"/><circle cx="48.1" cy="440.0" r="1.06"/><circle cx="78.3" cy="464.9" r="1.17"/><circle cx="55.0" cy="445.9" r="1.06"/><circle cx="50.8" cy="452.3" r="1.24"/><circle cx="112.4" cy="435.0" r="0.90"/><circle cx="90.9" cy="437.9" r="0.79"/><circle cx="73.8" cy="429.6" r="0.85"/><circle cx="97.0" cy="445.3" r="1.14"/><circle cx="111.7" cy="422.9" r="1.24"/><circle cx="100.2" cy="427.7" r="1.47"/><circle cx="123.0" cy="428.8" r="1.12"/><circle cx="108.8" cy="441.6" r="1.08"/><circle cx="56.9" cy="438.7" r="0.99"/></g><g fill="#7984b8" opacity="0.8"><circle cx="83.3" cy="427.7" r="0.95"/><circle cx="123.2" cy="451.6" r="1.55"/><circle cx="58.9" cy="448.9" r="1.15"/><circle cx="61.3" cy="468.5" r="1.23"/><circle cx="93.6" cy="436.6" r="1.46"/><circle cx="105.7" cy="429.0" r="1.41"/><circle cx="91.8" cy="473.9" r="1.04"/><circle cx="80.5" cy="471.6" r="1.20"/><circle cx="89.0" cy="430.6" r="1.46"/><circle cx="112.3" cy="446.1" r="0.76"/><circle cx="92.3" cy="429.4" r="0.84"/><circle cx="72.1" cy="426.4" r="0.77"/></g><g fill="#a4acd0" opacity="0.65"><circle cx="84.4" cy="474.2" r="1.06"/><circle cx="90.1" cy="463.6" r="1.06"/><circle cx="120.0" cy="458.2" r="0.95"/><circle cx="100.3" cy="475.2" r="1.14"/><circle cx="125.1" cy="461.7" r="1.23"/><circle cx="123.7" cy="473.7" r="1.55"/><circle cx="109.7" cy="424.3" r="1.29"/><circle cx="62.4" cy="477.0" r="0.90"/><circle cx="127.4" cy="431.7" r="0.95"/><circle cx="91.2" cy="463.5" r="0.78"/><circle cx="106.8" cy="438.6" r="0.85"/><circle cx="118.0" cy="459.1" r="0.87"/><circle cx="61.8" cy="444.5" r="1.13"/><circle cx="104.1" cy="474.3" r="1.53"/><circle cx="84.7" cy="460.7" r="1.19"/><circle cx="46.5" cy="440.8" r="0.86"/><circle cx="144.0" cy="446.0" r="1.52"/><circle cx="113.2" cy="474.7" r="1.01"/><circle cx="56.0" cy="424.2" r="1.03"/><circle cx="104.5" cy="447.8" r="1.37"/><circle cx="67.2" cy="472.5" r="0.80"/><circle cx="101.4" cy="476.1" r="1.20"/><circle cx="141.1" cy="434.2" r="1.07"/><circle cx="80.8" cy="434.4" r="1.06"/><circle cx="66.0" cy="433.9" r="1.11"/><circle cx="70.3" cy="434.3" r="1.08"/><circle cx="87.6" cy="459.3" r="0.94"/></g><g fill="#9aa3ca" opacity="0.65"><circle cx="99.8" cy="455.2" r="1.09"/><circle cx="91.2" cy="436.7" r="1.22"/><circle cx="88.9" cy="453.7" r="1.40"/><circle cx="121.9" cy="451.1" r="1.36"/><circle cx="79.6" cy="475.8" r="1.29"/><circle cx="98.0" cy="461.5" r="1.39"/><circle cx="109.6" cy="464.5" r="0.88"/><circle cx="116.8" cy="429.7" r="1.31"/><circle cx="91.9" cy="444.0" r="1.42"/><circle cx="105.1" cy="424.0" r="1.00"/><circle cx="125.8" cy="460.1" r="0.97"/><circle cx="114.2" cy="445.4" r="1.26"/><circle cx="138.9" cy="448.9" r="1.42"/><circle cx="66.7" cy="423.0" r="1.09"/><circle cx="141.4" cy="435.4" r="0.84"/><circle cx="83.2" cy="455.1" r="1.44"/><circle cx="67.4" cy="451.9" r="1.28"/><circle cx="88.6" cy="448.6" r="1.04"/><circle cx="123.5" cy="446.6" r="1.35"/><circle cx="101.6" cy="473.3" r="0.92"/><circle cx="144.5" cy="441.7" r="0.88"/></g><g fill="#b4bbd8" opacity="0.65"><circle cx="74.3" cy="444.3" r="1.00"/><circle cx="110.6" cy="466.8" r="0.80"/><circle cx="113.9" cy="440.0" r="1.06"/><circle cx="127.9" cy="428.7" r="0.84"/><circle cx="93.2" cy="428.0" r="1.48"/><circle cx="97.6" cy="429.4" r="1.46"/><circle cx="71.8" cy="452.3" r="1.43"/><circle cx="125.8" cy="448.8" r="1.07"/><circle cx="99.1" cy="447.1" r="0.86"/><circle cx="125.8" cy="448.7" r="0.96"/><circle cx="136.5" cy="437.3" r="1.05"/><circle cx="71.7" cy="434.4" r="1.17"/><circle cx="51.8" cy="452.7" r="1.28"/><circle cx="60.6" cy="457.2" r="1.09"/><circle cx="61.5" cy="426.2" r="0.89"/></g><g fill="#b4bbd8" opacity="0.5"><circle cx="120.2" cy="423.7" r="1.37"/><circle cx="129.2" cy="426.3" r="0.85"/><circle cx="103.6" cy="447.8" r="1.01"/><circle cx="61.6" cy="440.0" r="0.96"/><circle cx="109.2" cy="477.2" r="0.96"/><circle cx="61.8" cy="464.7" r="1.47"/><circle cx="105.5" cy="438.0" r="0.95"/><circle cx="90.5" cy="471.0" r="1.01"/><circle cx="109.5" cy="454.3" r="1.33"/><circle cx="80.1" cy="460.7" r="1.44"/><circle cx="50.8" cy="437.5" r="1.51"/><circle cx="50.1" cy="423.6" r="1.25"/><circle cx="46.4" cy="452.5" r="1.43"/><circle cx="64.3" cy="469.6" r="0.91"/><circle cx="132.4" cy="432.9" r="1.04"/><circle cx="54.1" cy="433.3" r="1.19"/><circle cx="131.0" cy="457.0" r="1.15"/><circle cx="77.3" cy="457.1" r="0.97"/><circle cx="73.7" cy="427.9" r="1.45"/><circle cx="85.9" cy="458.5" r="0.92"/><circle cx="76.0" cy="450.3" r="0.85"/><circle cx="119.2" cy="443.1" r="0.99"/><circle cx="134.9" cy="433.5" r="1.54"/><circle cx="51.7" cy="464.5" r="0.79"/><circle cx="134.2" cy="459.2" r="0.98"/><circle cx="61.2" cy="443.8" r="1.41"/><circle cx="88.4" cy="465.4" r="1.27"/><circle cx="53.2" cy="472.2" r="0.83"/></g><g fill="#8590c0" opacity="0.65"><circle cx="98.4" cy="429.1" r="1.10"/><circle cx="121.3" cy="468.0" r="0.90"/><circle cx="54.2" cy="439.0" r="1.33"/><circle cx="74.1" cy="430.1" r="1.04"/><circle cx="136.8" cy="435.8" r="0.88"/><circle cx="52.7" cy="426.3" r="0.86"/><circle cx="101.7" cy="453.2" r="0.96"/><circle cx="134.2" cy="447.9" r="1.47"/><circle cx="65.6" cy="432.2" r="0.94"/><circle cx="106.4" cy="466.9" r="1.15"/><circle cx="140.8" cy="470.3" r="0.94"/><circle cx="76.8" cy="469.2" r="1.16"/><circle cx="80.3" cy="444.2" r="1.34"/><circle cx="71.2" cy="457.4" r="1.04"/><circle cx="83.1" cy="439.3" r="1.39"/><circle cx="98.1" cy="422.8" r="1.33"/><circle cx="47.7" cy="423.9" r="1.22"/><circle cx="124.0" cy="472.4" r="1.28"/><circle cx="77.6" cy="467.6" r="1.38"/><circle cx="78.2" cy="423.0" r="1.41"/></g><g fill="#9aa3ca" opacity="0.8"><circle cx="137.1" cy="474.3" r="1.48"/><circle cx="125.7" cy="439.1" r="1.00"/><circle cx="51.0" cy="474.7" r="1.39"/><circle cx="123.5" cy="446.6" r="0.78"/><circle cx="141.2" cy="455.4" r="1.13"/><circle cx="75.4" cy="456.3" r="1.10"/><circle cx="128.5" cy="466.6" r="0.85"/><circle cx="94.1" cy="445.2" r="1.40"/><circle cx="73.6" cy="474.2" r="1.44"/><circle cx="58.1" cy="463.1" r="1.35"/><circle cx="92.4" cy="468.5" r="1.15"/><circle cx="115.6" cy="477.5" r="0.80"/><circle cx="102.4" cy="450.0" r="1.47"/><circle cx="71.1" cy="437.2" r="1.39"/><circle cx="115.8" cy="449.6" r="1.10"/><circle cx="83.5" cy="466.7" r="1.30"/><circle cx="140.2" cy="459.0" r="0.86"/></g><g fill="#5562a6" opacity="0.9"><circle cx="136.0" cy="453.3" r="0.68"/><circle cx="142.7" cy="472.7" r="0.42"/><circle cx="143.6" cy="462.4" r="0.60"/><circle cx="70.9" cy="463.4" r="0.45"/><circle cx="92.5" cy="453.3" r="0.68"/><circle cx="142.2" cy="437.7" r="0.53"/><circle cx="125.4" cy="435.2" r="0.65"/><circle cx="68.4" cy="461.6" r="0.41"/><circle cx="93.0" cy="463.5" r="0.47"/><circle cx="70.0" cy="440.3" r="0.42"/><circle cx="64.1" cy="476.9" r="0.58"/><circle cx="116.1" cy="447.5" r="0.53"/><circle cx="46.3" cy="448.0" r="0.58"/><circle cx="89.2" cy="458.4" r="0.47"/><circle cx="144.6" cy="433.1" r="0.67"/><circle cx="115.4" cy="440.9" r="0.66"/><circle cx="106.5" cy="476.9" r="0.47"/><circle cx="63.5" cy="432.3" r="0.58"/><circle cx="51.4" cy="465.4" r="0.47"/><circle cx="47.6" cy="442.4" r="0.52"/><circle cx="103.8" cy="431.8" r="0.54"/></g><g fill="#5562a6" opacity="0.7"><circle cx="140.7" cy="445.7" r="0.45"/><circle cx="82.5" cy="462.5" r="0.68"/><circle cx="121.6" cy="451.4" r="0.68"/><circle cx="50.6" cy="444.4" r="0.65"/><circle cx="51.7" cy="439.9" r="0.59"/><circle cx="129.5" cy="450.1" r="0.50"/><circle cx="57.8" cy="448.6" r="0.61"/><circle cx="124.9" cy="434.9" r="0.60"/><circle cx="97.2" cy="439.7" r="0.48"/><circle cx="67.5" cy="473.2" r="0.64"/><circle cx="104.2" cy="445.4" r="0.40"/><circle cx="119.7" cy="462.7" r="0.59"/><circle cx="119.3" cy="470.4" r="0.46"/><circle cx="102.5" cy="475.0" r="0.51"/><circle cx="133.4" cy="477.1" r="0.68"/><circle cx="50.0" cy="438.2" r="0.51"/></g><g fill="#6571b0" opacity="0.9"><circle cx="61.9" cy="449.5" r="0.47"/><circle cx="62.0" cy="440.5" r="0.57"/><circle cx="69.4" cy="454.5" r="0.45"/><circle cx="139.8" cy="449.3" r="0.54"/><circle cx="56.9" cy="476.6" r="0.66"/><circle cx="120.3" cy="459.3" r="0.53"/><circle cx="123.9" cy="470.6" r="0.57"/><circle cx="110.3" cy="460.2" r="0.68"/><circle cx="91.0" cy="439.7" r="0.59"/><circle cx="101.9" cy="443.9" r="0.65"/><circle cx="71.8" cy="456.2" r="0.47"/><circle cx="61.0" cy="475.6" r="0.50"/><circle cx="55.5" cy="424.7" r="0.51"/><circle cx="70.8" cy="422.4" r="0.68"/><circle cx="114.7" cy="449.9" r="0.52"/><circle cx="57.0" cy="451.8" r="0.50"/></g><g fill="#6571b0" opacity="0.7"><circle cx="59.8" cy="429.7" r="0.64"/><circle cx="89.6" cy="454.6" r="0.56"/><circle cx="92.2" cy="432.3" r="0.40"/><circle cx="88.7" cy="454.7" r="0.48"/><circle cx="109.4" cy="457.3" r="0.40"/><circle cx="95.4" cy="473.3" r="0.55"/><circle cx="65.4" cy="457.3" r="0.43"/><circle cx="114.0" cy="466.4" r="0.61"/><circle cx="141.5" cy="465.1" r="0.50"/><circle cx="124.1" cy="454.6" r="0.68"/><circle cx="70.4" cy="453.8" r="0.52"/><circle cx="130.5" cy="449.2" r="0.58"/><circle cx="116.3" cy="447.0" r="0.51"/><circle cx="111.4" cy="459.8" r="0.55"/><circle cx="103.9" cy="467.7" r="0.65"/><circle cx="111.8" cy="438.2" r="0.64"/><circle cx="47.0" cy="452.4" r="0.45"/><circle cx="99.6" cy="444.2" r="0.52"/><circle cx="81.3" cy="461.3" r="0.46"/><circle cx="114.6" cy="463.4" r="0.54"/><circle cx="67.6" cy="447.0" r="0.56"/></g><g fill="#46528f" opacity="0.9"><circle cx="65.2" cy="429.7" r="0.60"/><circle cx="77.9" cy="454.5" r="0.48"/><circle cx="124.7" cy="476.1" r="0.54"/><circle cx="79.5" cy="469.2" r="0.57"/><circle cx="111.8" cy="444.4" r="0.55"/><circle cx="140.9" cy="458.6" r="0.54"/><circle cx="138.0" cy="472.7" r="0.49"/><circle cx="75.4" cy="469.8" r="0.66"/><circle cx="88.6" cy="448.6" r="0.52"/><circle cx="79.4" cy="423.4" r="0.65"/><circle cx="107.7" cy="427.1" r="0.62"/><circle cx="119.5" cy="438.6" r="0.62"/><circle cx="104.6" cy="461.7" r="0.63"/><circle cx="103.5" cy="436.1" r="0.61"/><circle cx="100.0" cy="476.9" r="0.44"/><circle cx="126.3" cy="450.4" r="0.41"/><circle cx="98.5" cy="449.6" r="0.45"/><circle cx="55.8" cy="424.9" r="0.54"/><circle cx="112.1" cy="438.3" r="0.50"/><circle cx="115.6" cy="423.7" r="0.68"/><circle cx="101.0" cy="424.6" r="0.45"/><circle cx="77.0" cy="471.3" r="0.63"/><circle cx="107.6" cy="438.0" r="0.46"/></g><g fill="#46528f" opacity="0.7"><circle cx="47.7" cy="473.3" r="0.69"/><circle cx="92.2" cy="432.8" r="0.68"/><circle cx="67.9" cy="466.5" r="0.55"/><circle cx="113.3" cy="456.7" r="0.67"/><circle cx="114.4" cy="446.9" r="0.49"/><circle cx="138.5" cy="457.9" r="0.42"/><circle cx="64.5" cy="460.7" r="0.63"/><circle cx="97.9" cy="449.2" r="0.41"/><circle cx="65.3" cy="436.2" r="0.67"/><circle cx="95.5" cy="465.7" r="0.47"/><circle cx="113.6" cy="456.3" r="0.41"/><circle cx="83.8" cy="437.4" r="0.51"/><circle cx="66.6" cy="423.6" r="0.67"/><circle cx="119.3" cy="436.8" r="0.55"/><circle cx="93.6" cy="425.5" r="0.55"/><circle cx="130.3" cy="463.5" r="0.63"/><circle cx="52.3" cy="427.8" r="0.41"/><circle cx="63.3" cy="431.2" r="0.43"/><circle cx="96.1" cy="448.2" r="0.56"/><circle cx="74.3" cy="438.6" r="0.52"/><circle cx="47.4" cy="430.4" r="0.52"/><circle cx="90.5" cy="477.0" r="0.67"/><circle cx="47.3" cy="462.2" r="0.68"/></g><g fill="#252c60" opacity="0.9"><circle cx="70.2" cy="439.4" r="0.60"/><circle cx="63.7" cy="471.6" r="0.60"/><circle cx="97.9" cy="476.3" r="0.60"/><circle cx="64.3" cy="432.6" r="0.60"/><circle cx="125.0" cy="434.6" r="0.60"/><circle cx="62.5" cy="441.2" r="0.60"/><circle cx="118.1" cy="461.8" r="0.60"/><circle cx="124.5" cy="457.3" r="0.60"/><circle cx="119.5" cy="471.3" r="0.60"/><circle cx="110.0" cy="476.7" r="0.60"/><circle cx="125.9" cy="472.1" r="0.60"/><circle cx="119.6" cy="439.9" r="0.60"/><circle cx="57.5" cy="422.6" r="0.60"/><circle cx="113.9" cy="470.2" r="0.60"/></g></g>
<text x="48.6" y="474" font-size="7.4" fill="#111" textLength="25.4" lengthAdjust="spacingAndGlyphs">100um</text>
<rect x="47.2" y="475.3" width="27.8" height="1.4" fill="#000"/>
<clipPath id="cF2"><rect x="156.1" y="422.2" width="97.9" height="55.4"/></clipPath>
<rect x="156.1" y="422.2" width="97.9" height="55.4" fill="#fcfcfc"/>
<g clip-path="url(#cF2)" filter="url(#bl4)"><polygon points="156.1,422.2 199,422.2 197,440 195.5,460 191,477.6 156.1,477.6" fill="#eeeef1"/><ellipse cx="167.7" cy="470.9" rx="3.2" ry="1.1" fill="#e1e1e7" opacity="0.9" transform="rotate(47 167.7 470.9)"/><ellipse cx="171.9" cy="458.5" rx="1.3" ry="1.3" fill="#f7f7f8" opacity="0.9" transform="rotate(51 171.9 458.5)"/><ellipse cx="181.7" cy="425.9" rx="1.8" ry="0.9" fill="#f7f7f8" opacity="0.9" transform="rotate(170 181.7 425.9)"/><ellipse cx="182.7" cy="476.5" rx="3.2" ry="1.4" fill="#f7f7f8" opacity="0.9" transform="rotate(81 182.7 476.5)"/><ellipse cx="174.9" cy="425.5" rx="2.7" ry="1.1" fill="#e1e1e7" opacity="0.9" transform="rotate(64 174.9 425.5)"/><ellipse cx="158.0" cy="423.7" rx="4.1" ry="1.0" fill="#f7f7f8" opacity="0.9" transform="rotate(99 158.0 423.7)"/><ellipse cx="161.7" cy="455.0" rx="3.9" ry="0.8" fill="#e1e1e7" opacity="0.9" transform="rotate(2 161.7 455.0)"/><ellipse cx="175.1" cy="464.6" rx="2.9" ry="0.9" fill="#f7f7f8" opacity="0.9" transform="rotate(124 175.1 464.6)"/><ellipse cx="183.6" cy="426.5" rx="3.8" ry="0.6" fill="#f7f7f8" opacity="0.9" transform="rotate(98 183.6 426.5)"/><ellipse cx="173.9" cy="469.0" rx="3.1" ry="1.5" fill="#f7f7f8" opacity="0.9" transform="rotate(13 173.9 469.0)"/><ellipse cx="169.4" cy="425.9" rx="2.0" ry="1.3" fill="#f7f7f8" opacity="0.9" transform="rotate(61 169.4 425.9)"/><ellipse cx="189.4" cy="443.3" rx="1.5" ry="0.7" fill="#f7f7f8" opacity="0.9" transform="rotate(154 189.4 443.3)"/><ellipse cx="193.7" cy="466.7" rx="3.0" ry="0.9" fill="#f7f7f8" opacity="0.9" transform="rotate(48 193.7 466.7)"/><ellipse cx="173.2" cy="446.4" rx="1.4" ry="1.2" fill="#f7f7f8" opacity="0.9" transform="rotate(43 173.2 446.4)"/><ellipse cx="187.5" cy="466.1" rx="2.4" ry="1.1" fill="#e1e1e7" opacity="0.9" transform="rotate(130 187.5 466.1)"/><ellipse cx="159.8" cy="422.5" rx="2.1" ry="1.8" fill="#f7f7f8" opacity="0.9" transform="rotate(49 159.8 422.5)"/><ellipse cx="186.7" cy="474.0" rx="2.5" ry="1.5" fill="#f7f7f8" opacity="0.9" transform="rotate(74 186.7 474.0)"/><ellipse cx="176.7" cy="474.3" rx="1.6" ry="1.1" fill="#e1e1e7" opacity="0.9" transform="rotate(95 176.7 474.3)"/><ellipse cx="191.2" cy="428.2" rx="3.2" ry="0.9" fill="#f7f7f8" opacity="0.9" transform="rotate(74 191.2 428.2)"/><ellipse cx="165.4" cy="477.4" rx="1.5" ry="1.5" fill="#e1e1e7" opacity="0.9" transform="rotate(47 165.4 477.4)"/><ellipse cx="180.0" cy="470.1" rx="2.2" ry="0.9" fill="#e1e1e7" opacity="0.9" transform="rotate(30 180.0 470.1)"/><ellipse cx="184.2" cy="470.2" rx="2.3" ry="1.3" fill="#e1e1e7" opacity="0.9" transform="rotate(147 184.2 470.2)"/><ellipse cx="189.9" cy="437.6" rx="1.9" ry="1.2" fill="#f7f7f8" opacity="0.9" transform="rotate(146 189.9 437.6)"/><ellipse cx="161.6" cy="444.6" rx="2.9" ry="0.8" fill="#e1e1e7" opacity="0.9" transform="rotate(15 161.6 444.6)"/><ellipse cx="172.6" cy="454.3" rx="1.8" ry="1.7" fill="#f7f7f8" opacity="0.9" transform="rotate(49 172.6 454.3)"/><ellipse cx="166.3" cy="459.2" rx="3.8" ry="0.6" fill="#f7f7f8" opacity="0.9" transform="rotate(93 166.3 459.2)"/><ellipse cx="175.3" cy="455.7" rx="2.8" ry="0.9" fill="#f7f7f8" opacity="0.9" transform="rotate(142 175.3 455.7)"/><ellipse cx="179.2" cy="462.8" rx="1.5" ry="1.4" fill="#e1e1e7" opacity="0.9" transform="rotate(84 179.2 462.8)"/><ellipse cx="180.5" cy="448.2" rx="2.7" ry="0.6" fill="#f7f7f8" opacity="0.9" transform="rotate(59 180.5 448.2)"/><ellipse cx="186.5" cy="432.1" rx="2.6" ry="1.2" fill="#e1e1e7" opacity="0.9" transform="rotate(107 186.5 432.1)"/><ellipse cx="166.3" cy="453.3" rx="1.9" ry="1.5" fill="#f7f7f8" opacity="0.9" transform="rotate(137 166.3 453.3)"/><ellipse cx="182.1" cy="430.6" rx="3.5" ry="1.8" fill="#f7f7f8" opacity="0.9" transform="rotate(32 182.1 430.6)"/><ellipse cx="179.5" cy="431.2" rx="1.3" ry="1.1" fill="#f7f7f8" opacity="0.9" transform="rotate(139 179.5 431.2)"/><ellipse cx="183.9" cy="453.9" rx="3.2" ry="1.8" fill="#f7f7f8" opacity="0.9" transform="rotate(94 183.9 453.9)"/><ellipse cx="159.8" cy="424.2" rx="2.6" ry="1.6" fill="#e1e1e7" opacity="0.9" transform="rotate(65 159.8 424.2)"/><ellipse cx="176.9" cy="469.6" rx="2.3" ry="0.7" fill="#e1e1e7" opacity="0.9" transform="rotate(165 176.9 469.6)"/><ellipse cx="157.1" cy="434.9" rx="1.3" ry="0.8" fill="#f7f7f8" opacity="0.9" transform="rotate(41 157.1 434.9)"/><ellipse cx="176.3" cy="429.3" rx="3.0" ry="1.6" fill="#f7f7f8" opacity="0.9" transform="rotate(30 176.3 429.3)"/><ellipse cx="170.3" cy="458.2" rx="2.3" ry="1.1" fill="#e1e1e7" opacity="0.9" transform="rotate(149 170.3 458.2)"/><ellipse cx="165.3" cy="425.2" rx="2.8" ry="1.0" fill="#f7f7f8" opacity="0.9" transform="rotate(73 165.3 425.2)"/><polygon points="198.6,422.2 198.3,427.7 197.9,433.3 197.3,438.8 196.6,444.4 195.8,449.9 194.9,455.4 193.9,461.0 192.8,466.5 191.5,472.1 190.1,477.6 212.6,477.6 213.2,472.1 213.7,466.5 214.2,461.0 214.6,455.4 214.8,449.9 215.1,444.4 215.2,438.8 215.3,433.3 215.3,427.7 215.2,422.2" fill="#ddd5c4"/><polygon points="198.6,422.2 198.3,427.7 197.9,433.3 197.3,438.8 196.6,444.4 195.8,449.9 194.9,455.4 193.9,461.0 192.8,466.5 191.5,472.1 190.1,477.6 199.5,477.6 200.6,472.1 201.6,466.5 202.4,461.0 203.2,455.4 203.8,449.9 204.4,444.4 204.8,438.8 205.2,433.3 205.4,427.7 205.6,422.2" fill="#9d9282" opacity="0.5"/><g fill="#b3a68c" opacity="0.8"><circle cx="203.9" cy="457.3" r="0.51"/><circle cx="213.6" cy="444.1" r="0.89"/><circle cx="209.8" cy="425.8" r="0.67"/><circle cx="214.2" cy="452.8" r="0.77"/><circle cx="201.2" cy="427.5" r="1.16"/><circle cx="207.7" cy="451.6" r="0.93"/><circle cx="213.1" cy="434.7" r="0.78"/><circle cx="202.6" cy="438.6" r="0.56"/><circle cx="211.8" cy="463.5" r="0.99"/><circle cx="194.4" cy="476.3" r="1.10"/><circle cx="203.5" cy="424.1" r="1.23"/><circle cx="198.1" cy="444.3" r="1.18"/><circle cx="192.5" cy="472.5" r="0.88"/><circle cx="208.7" cy="454.8" r="0.56"/><circle cx="202.4" cy="448.8" r="0.58"/><circle cx="205.1" cy="452.8" r="0.65"/><circle cx="197.5" cy="446.3" r="1.29"/><circle cx="206.4" cy="459.2" r="1.15"/><circle cx="212.4" cy="422.5" r="1.00"/><circle cx="200.9" cy="450.5" r="1.28"/><circle cx="208.6" cy="469.0" r="1.09"/><circle cx="212.1" cy="436.7" r="0.70"/><circle cx="198.1" cy="467.8" r="0.94"/><circle cx="203.4" cy="429.8" r="0.62"/><circle cx="215.0" cy="442.5" r="1.10"/><circle cx="208.1" cy="467.5" r="1.18"/><circle cx="203.2" cy="453.8" r="0.62"/><circle cx="195.6" cy="457.2" r="0.66"/><circle cx="198.4" cy="436.6" r="0.95"/><circle cx="199.0" cy="423.1" r="1.15"/><circle cx="206.2" cy="456.7" r="0.76"/><circle cx="200.5" cy="455.7" r="1.29"/><circle cx="214.5" cy="432.5" r="1.29"/><circle cx="202.2" cy="450.9" r="0.63"/><circle cx="201.1" cy="472.5" r="1.01"/><circle cx="194.3" cy="470.4" r="0.93"/><circle cx="192.6" cy="467.5" r="0.95"/><circle cx="203.7" cy="435.4" r="0.90"/><circle cx="197.7" cy="469.9" r="1.20"/><circle cx="209.5" cy="440.3" r="0.81"/><circle cx="202.9" cy="448.5" r="1.08"/><circle cx="201.7" cy="473.4" r="0.66"/><circle cx="205.1" cy="466.2" r="0.76"/><circle cx="214.2" cy="459.8" r="1.00"/><circle cx="197.8" cy="461.9" r="1.10"/><circle cx="200.8" cy="453.3" r="1.25"/><circle cx="210.9" cy="444.6" r="0.76"/><circle cx="206.7" cy="439.8" r="0.79"/><circle cx="199.1" cy="464.8" r="1.13"/><circle cx="200.7" cy="458.3" r="1.16"/><circle cx="209.0" cy="454.7" r="0.84"/><circle cx="195.1" cy="459.8" r="1.26"/><circle cx="203.9" cy="469.5" r="0.70"/><circle cx="198.4" cy="435.6" r="0.94"/><circle cx="208.0" cy="463.4" r="0.66"/><circle cx="201.0" cy="449.7" r="0.81"/><circle cx="203.0" cy="453.6" r="0.79"/><circle cx="205.5" cy="469.0" r="1.00"/><circle cx="214.2" cy="426.3" r="1.25"/><circle cx="209.6" cy="452.4" r="0.98"/><circle cx="195.7" cy="451.7" r="0.96"/><circle cx="199.3" cy="459.1" r="1.26"/><circle cx="199.1" cy="461.0" r="1.12"/><circle cx="201.2" cy="463.2" r="0.68"/><circle cx="205.0" cy="463.7" r="1.18"/><circle cx="214.4" cy="450.1" r="0.87"/><circle cx="214.9" cy="432.1" r="0.77"/><circle cx="194.2" cy="465.8" r="0.72"/></g><g fill="#bfb296" opacity="0.8"><circle cx="202.4" cy="469.4" r="1.23"/><circle cx="213.3" cy="422.8" r="0.89"/><circle cx="199.4" cy="445.4" r="0.87"/><circle cx="214.9" cy="432.0" r="0.98"/><circle cx="209.2" cy="466.1" r="0.85"/><circle cx="209.3" cy="432.0" r="0.90"/><circle cx="200.8" cy="427.3" r="0.54"/><circle cx="207.9" cy="475.5" r="0.59"/><circle cx="203.1" cy="449.5" r="1.22"/><circle cx="206.7" cy="451.7" r="0.50"/><circle cx="195.6" cy="474.1" r="0.60"/><circle cx="198.5" cy="448.4" r="0.78"/><circle cx="215.1" cy="431.7" r="0.66"/><circle cx="194.9" cy="456.7" r="1.11"/><circle cx="197.6" cy="439.5" r="0.57"/><circle cx="208.7" cy="440.2" r="0.62"/><circle cx="210.0" cy="462.3" r="0.87"/><circle cx="198.3" cy="428.2" r="0.82"/><circle cx="211.7" cy="455.1" r="1.12"/><circle cx="213.0" cy="469.1" r="0.95"/><circle cx="211.0" cy="441.6" r="0.79"/><circle cx="192.9" cy="470.6" r="1.06"/><circle cx="212.5" cy="440.1" r="1.15"/><circle cx="192.9" cy="470.2" r="1.26"/><circle cx="210.9" cy="469.2" r="0.81"/><circle cx="210.6" cy="431.6" r="1.25"/><circle cx="204.9" cy="446.9" r="0.85"/><circle cx="203.1" cy="469.0" r="0.88"/><circle cx="198.3" cy="430.7" r="0.96"/><circle cx="208.2" cy="437.7" r="0.73"/><circle cx="199.9" cy="454.5" r="0.55"/><circle cx="213.1" cy="468.4" r="0.98"/><circle cx="205.4" cy="459.8" r="0.94"/><circle cx="202.2" cy="426.9" r="0.72"/><circle cx="212.9" cy="427.1" r="0.50"/><circle cx="200.7" cy="446.3" r="0.62"/><circle cx="211.4" cy="470.6" r="1.28"/><circle cx="193.4" cy="473.5" r="0.87"/><circle cx="214.3" cy="449.4" r="1.02"/><circle cx="212.8" cy="454.9" r="1.04"/><circle cx="213.1" cy="436.8" r="0.53"/><circle cx="200.4" cy="477.4" r="0.91"/><circle cx="212.2" cy="444.1" r="1.10"/><circle cx="202.9" cy="446.4" r="1.22"/><circle cx="203.2" cy="422.8" r="0.88"/><circle cx="198.7" cy="467.5" r="1.03"/><circle cx="205.3" cy="462.2" r="1.20"/><circle cx="213.0" cy="434.9" r="0.91"/><circle cx="203.6" cy="457.7" r="1.06"/><circle cx="197.7" cy="460.0" r="1.09"/><circle cx="211.4" cy="438.3" r="0.71"/><circle cx="197.5" cy="457.2" r="1.03"/><circle cx="209.2" cy="442.8" r="1.10"/><circle cx="210.7" cy="459.6" r="0.89"/><circle cx="198.9" cy="465.7" r="0.54"/><circle cx="207.3" cy="468.9" r="0.81"/><circle cx="198.1" cy="448.4" r="1.19"/><circle cx="199.3" cy="447.7" r="0.71"/><circle cx="197.2" cy="455.5" r="1.10"/><circle cx="209.3" cy="453.1" r="1.11"/><circle cx="198.2" cy="440.0" r="1.13"/><circle cx="204.2" cy="449.3" r="0.57"/></g><g fill="#cfc4ad" opacity="0.8"><circle cx="196.9" cy="450.5" r="0.61"/><circle cx="197.6" cy="467.4" r="1.18"/><circle cx="209.9" cy="474.8" r="0.70"/><circle cx="195.9" cy="474.1" r="0.55"/><circle cx="206.9" cy="427.2" r="0.92"/><circle cx="202.5" cy="429.0" r="0.87"/><circle cx="205.9" cy="439.1" r="0.67"/><circle cx="198.0" cy="445.4" r="1.10"/><circle cx="199.5" cy="444.9" r="1.29"/><circle cx="207.1" cy="428.8" r="1.20"/><circle cx="206.7" cy="448.0" r="0.72"/><circle cx="202.9" cy="426.0" r="1.12"/><circle cx="206.4" cy="448.0" r="0.98"/><circle cx="206.0" cy="476.0" r="0.62"/><circle cx="194.2" cy="465.7" r="1.05"/><circle cx="203.4" cy="428.9" r="0.85"/><circle cx="198.2" cy="459.9" r="1.22"/><circle cx="206.7" cy="445.0" r="0.82"/><circle cx="194.1" cy="462.9" r="0.51"/><circle cx="196.1" cy="451.3" r="0.58"/><circle cx="203.3" cy="430.1" r="1.27"/><circle cx="209.9" cy="468.4" r="0.93"/><circle cx="205.3" cy="444.9" r="0.85"/><circle cx="197.6" cy="439.5" r="1.09"/><circle cx="197.6" cy="454.4" r="0.78"/><circle cx="205.0" cy="470.3" r="1.09"/><circle cx="213.1" cy="452.9" r="0.55"/><circle cx="207.9" cy="474.9" r="1.14"/><circle cx="211.0" cy="429.4" r="1.17"/><circle cx="196.3" cy="465.1" r="0.95"/><circle cx="205.1" cy="464.9" r="0.83"/><circle cx="193.4" cy="473.1" r="0.57"/><circle cx="208.1" cy="431.1" r="0.83"/><circle cx="197.7" cy="474.9" r="1.16"/><circle cx="205.0" cy="446.0" r="0.78"/><circle cx="207.8" cy="456.3" r="0.58"/><circle cx="207.6" cy="455.1" r="1.14"/><circle cx="207.2" cy="439.0" r="1.29"/><circle cx="199.0" cy="445.7" r="1.16"/><circle cx="204.7" cy="473.0" r="1.26"/><circle cx="201.4" cy="432.5" r="1.28"/><circle cx="212.9" cy="436.5" r="1.04"/><circle cx="199.7" cy="435.7" r="0.61"/><circle cx="197.3" cy="474.6" r="0.96"/><circle cx="201.5" cy="473.5" r="1.27"/><circle cx="209.1" cy="431.7" r="0.98"/><circle cx="202.8" cy="465.6" r="0.61"/><circle cx="203.4" cy="464.5" r="1.21"/><circle cx="205.4" cy="435.0" r="0.84"/><circle cx="201.4" cy="476.9" r="1.29"/><circle cx="204.5" cy="444.0" r="0.62"/><circle cx="202.4" cy="427.3" r="0.65"/><circle cx="198.5" cy="444.2" r="0.51"/><circle cx="193.8" cy="469.8" r="0.68"/><circle cx="192.1" cy="471.0" r="0.76"/><circle cx="203.4" cy="464.6" r="0.64"/><circle cx="194.6" cy="464.7" r="0.69"/><circle cx="198.0" cy="464.7" r="0.91"/><circle cx="199.3" cy="458.8" r="0.99"/><circle cx="205.6" cy="448.1" r="0.55"/><circle cx="203.0" cy="454.6" r="1.04"/><circle cx="198.6" cy="474.5" r="1.01"/><circle cx="210.1" cy="467.8" r="0.64"/><circle cx="210.6" cy="447.2" r="1.29"/><circle cx="212.7" cy="459.5" r="0.89"/><circle cx="206.6" cy="430.0" r="0.74"/><circle cx="201.4" cy="448.7" r="1.13"/><circle cx="214.0" cy="456.7" r="1.28"/><circle cx="212.7" cy="447.5" r="0.54"/><circle cx="194.3" cy="473.6" r="0.60"/></g><g fill="#e4ddd0" opacity="0.8"><circle cx="198.7" cy="442.4" r="1.27"/><circle cx="205.2" cy="424.8" r="0.56"/><circle cx="204.1" cy="439.4" r="1.23"/><circle cx="200.0" cy="431.2" r="1.20"/><circle cx="200.2" cy="464.3" r="0.84"/><circle cx="207.5" cy="455.0" r="1.06"/><circle cx="198.5" cy="476.1" r="1.24"/><circle cx="203.9" cy="458.0" r="1.12"/><circle cx="197.0" cy="464.2" r="0.76"/><circle cx="205.9" cy="433.5" r="0.71"/><circle cx="200.4" cy="468.5" r="0.63"/><circle cx="210.9" cy="450.1" r="1.17"/><circle cx="211.1" cy="430.2" r="0.89"/><circle cx="202.0" cy="434.9" r="0.87"/><circle cx="211.6" cy="477.1" r="1.26"/><circle cx="204.0" cy="452.6" r="0.72"/><circle cx="213.0" cy="464.5" r="0.98"/><circle cx="196.7" cy="453.6" r="1.09"/><circle cx="193.2" cy="468.6" r="0.55"/><circle cx="194.3" cy="463.8" r="0.97"/><circle cx="208.9" cy="447.0" r="1.03"/><circle cx="205.7" cy="430.5" r="1.16"/><circle cx="195.2" cy="468.5" r="1.27"/><circle cx="197.6" cy="454.9" r="1.14"/><circle cx="196.5" cy="447.7" r="0.99"/><circle cx="198.0" cy="434.7" r="0.74"/><circle cx="208.9" cy="450.6" r="0.68"/><circle cx="204.4" cy="449.6" r="0.72"/><circle cx="200.3" cy="440.4" r="0.83"/><circle cx="204.9" cy="449.2" r="1.23"/><circle cx="196.7" cy="469.3" r="0.64"/><circle cx="199.6" cy="438.7" r="0.58"/><circle cx="209.3" cy="451.9" r="1.26"/><circle cx="197.4" cy="445.3" r="0.60"/><circle cx="207.8" cy="451.1" r="0.63"/><circle cx="213.2" cy="449.3" r="1.17"/><circle cx="196.5" cy="462.1" r="0.91"/><circle cx="213.3" cy="432.7" r="0.50"/><circle cx="209.6" cy="422.6" r="0.64"/><circle cx="209.1" cy="447.9" r="0.67"/><circle cx="198.6" cy="427.0" r="0.97"/><circle cx="197.0" cy="469.4" r="1.11"/><circle cx="205.5" cy="459.2" r="0.57"/><circle cx="196.4" cy="452.6" r="0.88"/><circle cx="197.8" cy="438.7" r="0.62"/><circle cx="206.4" cy="441.1" r="0.97"/><circle cx="201.7" cy="471.4" r="1.01"/><circle cx="209.7" cy="466.3" r="0.69"/><circle cx="201.9" cy="452.5" r="0.70"/><circle cx="208.1" cy="447.7" r="0.95"/><circle cx="213.0" cy="471.0" r="1.16"/><circle cx="209.6" cy="457.2" r="1.11"/><circle cx="215.2" cy="426.4" r="0.56"/><circle cx="214.5" cy="445.9" r="1.20"/><circle cx="197.2" cy="460.3" r="0.96"/><circle cx="201.4" cy="441.5" r="0.93"/><circle cx="212.6" cy="458.6" r="1.16"/><circle cx="203.8" cy="462.3" r="1.05"/><circle cx="204.9" cy="458.5" r="1.20"/><circle cx="214.2" cy="428.0" r="0.87"/><circle cx="213.6" cy="452.4" r="0.93"/><circle cx="204.2" cy="470.8" r="1.14"/><circle cx="208.6" cy="444.9" r="0.77"/><circle cx="196.7" cy="451.3" r="0.69"/><circle cx="206.4" cy="440.5" r="0.91"/><circle cx="197.4" cy="460.4" r="1.22"/><circle cx="211.2" cy="462.8" r="0.91"/><circle cx="197.0" cy="475.2" r="0.57"/><circle cx="206.6" cy="476.9" r="0.95"/><circle cx="205.4" cy="424.3" r="1.18"/><circle cx="203.7" cy="472.5" r="0.57"/><circle cx="199.3" cy="465.0" r="0.87"/><circle cx="206.5" cy="423.5" r="1.19"/></g><g fill="#d4cab6" opacity="0.8"><circle cx="205.5" cy="438.3" r="0.90"/><circle cx="209.9" cy="455.6" r="0.86"/><circle cx="195.2" cy="472.7" r="0.90"/><circle cx="212.4" cy="450.8" r="0.98"/><circle cx="201.9" cy="458.1" r="0.83"/><circle cx="209.2" cy="469.1" r="1.04"/><circle cx="208.5" cy="443.6" r="0.70"/><circle cx="214.1" cy="453.7" r="0.64"/><circle cx="208.6" cy="474.4" r="1.25"/><circle cx="206.1" cy="423.0" r="0.98"/><circle cx="206.5" cy="439.9" r="0.85"/><circle cx="212.5" cy="438.0" r="0.93"/><circle cx="204.9" cy="446.4" r="0.87"/><circle cx="203.4" cy="466.2" r="1.26"/><circle cx="206.0" cy="471.8" r="0.68"/><circle cx="203.8" cy="423.9" r="0.79"/><circle cx="199.7" cy="463.0" r="0.86"/><circle cx="202.5" cy="426.1" r="1.09"/><circle cx="205.7" cy="446.4" r="1.12"/><circle cx="206.0" cy="440.8" r="0.80"/><circle cx="196.3" cy="458.4" r="0.81"/><circle cx="208.2" cy="422.6" r="1.22"/><circle cx="210.9" cy="457.3" r="0.85"/><circle cx="210.6" cy="434.6" r="1.20"/><circle cx="193.7" cy="474.0" r="0.86"/><circle cx="209.3" cy="448.9" r="1.03"/><circle cx="201.9" cy="435.3" r="1.13"/><circle cx="209.6" cy="473.5" r="1.18"/><circle cx="199.4" cy="431.9" r="1.01"/><circle cx="203.2" cy="455.3" r="1.14"/><circle cx="208.2" cy="456.6" r="0.96"/><circle cx="206.1" cy="438.4" r="0.92"/><circle cx="201.2" cy="460.9" r="0.83"/><circle cx="203.5" cy="429.6" r="0.80"/><circle cx="205.0" cy="446.5" r="0.81"/><circle cx="203.1" cy="434.3" r="0.99"/><circle cx="211.6" cy="471.4" r="0.70"/><circle cx="210.7" cy="468.4" r="1.05"/><circle cx="207.1" cy="456.1" r="1.26"/><circle cx="203.0" cy="473.4" r="0.54"/><circle cx="214.5" cy="449.1" r="0.60"/><circle cx="215.1" cy="434.6" r="0.91"/><circle cx="195.6" cy="477.4" r="0.88"/><circle cx="205.1" cy="438.2" r="1.19"/><circle cx="211.5" cy="464.1" r="1.24"/><circle cx="205.9" cy="426.3" r="1.04"/><circle cx="214.3" cy="441.4" r="0.97"/><circle cx="196.0" cy="465.2" r="1.10"/><circle cx="214.1" cy="427.8" r="0.74"/><circle cx="210.2" cy="452.6" r="0.73"/><circle cx="211.8" cy="449.1" r="1.04"/><circle cx="199.2" cy="448.8" r="0.91"/><circle cx="207.8" cy="432.3" r="0.68"/><circle cx="209.6" cy="476.0" r="0.80"/><circle cx="214.4" cy="440.1" r="0.98"/><circle cx="199.0" cy="428.3" r="0.52"/><circle cx="207.3" cy="473.2" r="1.04"/><circle cx="204.0" cy="434.3" r="1.13"/><circle cx="198.6" cy="450.6" r="1.09"/><circle cx="209.1" cy="446.1" r="0.84"/><circle cx="197.4" cy="452.7" r="0.89"/><circle cx="204.7" cy="448.7" r="1.16"/><circle cx="209.8" cy="439.0" r="1.21"/><circle cx="211.8" cy="435.1" r="0.84"/><circle cx="207.9" cy="472.3" r="0.68"/><circle cx="210.0" cy="451.1" r="0.55"/><circle cx="207.8" cy="455.9" r="0.73"/><circle cx="203.9" cy="438.9" r="0.70"/><circle cx="207.5" cy="445.1" r="0.56"/><circle cx="201.4" cy="447.1" r="0.75"/><circle cx="200.3" cy="463.8" r="0.87"/><circle cx="199.0" cy="425.5" r="1.27"/><circle cx="210.2" cy="448.0" r="1.09"/><circle cx="198.9" cy="437.0" r="1.18"/><circle cx="196.9" cy="474.3" r="1.22"/><circle cx="206.2" cy="477.1" r="1.27"/></g><g fill="#c9bda4" opacity="0.8"><circle cx="211.3" cy="460.0" r="0.56"/><circle cx="200.6" cy="475.0" r="0.96"/><circle cx="215.0" cy="432.3" r="0.73"/><circle cx="199.7" cy="440.8" r="1.12"/><circle cx="208.7" cy="472.1" r="0.67"/><circle cx="195.8" cy="473.0" r="1.01"/><circle cx="210.2" cy="439.9" r="1.22"/><circle cx="202.5" cy="469.1" r="0.66"/><circle cx="199.6" cy="466.7" r="0.65"/><circle cx="197.6" cy="454.0" r="1.15"/><circle cx="212.4" cy="440.6" r="1.14"/><circle cx="213.4" cy="445.9" r="0.57"/><circle cx="203.3" cy="443.6" r="0.53"/><circle cx="200.0" cy="443.3" r="0.58"/><circle cx="210.6" cy="446.8" r="0.65"/><circle cx="204.5" cy="433.3" r="0.88"/><circle cx="200.0" cy="427.1" r="1.27"/><circle cx="204.4" cy="473.2" r="1.27"/><circle cx="202.6" cy="452.0" r="0.86"/><circle cx="198.7" cy="428.6" r="0.88"/><circle cx="203.3" cy="468.5" r="1.29"/><circle cx="199.7" cy="475.4" r="0.87"/><circle cx="210.9" cy="431.8" r="0.59"/><circle cx="195.4" cy="459.0" r="1.04"/><circle cx="212.5" cy="431.6" r="0.79"/><circle cx="213.0" cy="447.8" r="0.82"/><circle cx="201.7" cy="444.1" r="1.05"/><circle cx="209.7" cy="454.1" r="1.10"/><circle cx="208.0" cy="467.7" r="0.52"/><circle cx="208.2" cy="427.2" r="0.56"/><circle cx="195.6" cy="451.4" r="1.13"/><circle cx="213.4" cy="451.3" r="1.04"/><circle cx="199.0" cy="437.3" r="0.51"/><circle cx="200.4" cy="435.8" r="1.27"/><circle cx="213.2" cy="424.5" r="0.78"/><circle cx="205.4" cy="466.7" r="0.88"/><circle cx="191.0" cy="475.2" r="0.73"/><circle cx="197.2" cy="466.8" r="0.78"/><circle cx="198.6" cy="450.2" r="0.96"/><circle cx="210.9" cy="450.2" r="1.26"/><circle cx="211.0" cy="427.5" r="0.61"/><circle cx="193.6" cy="466.3" r="1.09"/><circle cx="207.4" cy="470.1" r="0.68"/><circle cx="213.3" cy="438.6" r="1.16"/><circle cx="207.6" cy="438.4" r="0.75"/><circle cx="215.1" cy="427.3" r="0.51"/><circle cx="203.3" cy="463.9" r="0.69"/><circle cx="210.7" cy="436.1" r="1.29"/><circle cx="198.1" cy="465.7" r="1.12"/><circle cx="203.3" cy="464.8" r="0.82"/><circle cx="202.1" cy="464.1" r="0.98"/><circle cx="196.7" cy="463.1" r="1.00"/><circle cx="212.4" cy="472.5" r="0.79"/><circle cx="205.2" cy="455.6" r="0.65"/><circle cx="202.9" cy="472.4" r="0.97"/><circle cx="197.8" cy="437.7" r="1.20"/><circle cx="202.4" cy="430.5" r="0.59"/><circle cx="199.8" cy="442.2" r="0.82"/><circle cx="205.5" cy="426.3" r="0.89"/><circle cx="200.6" cy="439.0" r="0.73"/><circle cx="205.8" cy="450.2" r="0.80"/><circle cx="194.7" cy="460.4" r="0.65"/><circle cx="204.0" cy="443.7" r="1.10"/><circle cx="213.6" cy="439.7" r="0.90"/><circle cx="198.7" cy="470.5" r="1.22"/><circle cx="209.9" cy="424.1" r="0.64"/><circle cx="198.1" cy="461.0" r="1.10"/><circle cx="212.2" cy="468.3" r="1.28"/><circle cx="210.9" cy="476.0" r="0.73"/><circle cx="206.1" cy="423.0" r="0.54"/><circle cx="206.7" cy="458.1" r="0.93"/></g><g fill="#5a5b78" opacity="0.6"><circle cx="200.5" cy="434.6" r="0.70"/><circle cx="193.4" cy="475.2" r="0.54"/><circle cx="197.9" cy="464.7" r="0.55"/><circle cx="202.5" cy="444.7" r="0.70"/><circle cx="196.1" cy="467.8" r="0.76"/><circle cx="195.2" cy="471.4" r="0.53"/><circle cx="200.1" cy="422.9" r="0.56"/></g><g fill="#5a5b78" opacity="0.8"><circle cx="201.5" cy="455.8" r="0.73"/><circle cx="196.6" cy="450.7" r="0.50"/><circle cx="196.8" cy="471.5" r="0.44"/><circle cx="202.6" cy="475.8" r="0.60"/><circle cx="202.8" cy="454.2" r="0.63"/><circle cx="203.7" cy="429.4" r="0.63"/><circle cx="204.2" cy="467.1" r="0.82"/><circle cx="202.4" cy="433.9" r="0.78"/><circle cx="201.8" cy="439.9" r="0.55"/><circle cx="203.3" cy="432.6" r="0.58"/><circle cx="204.7" cy="429.7" r="0.69"/></g><g fill="#9a8f7e" opacity="0.95"><circle cx="204.4" cy="442.1" r="0.44"/><circle cx="190.7" cy="475.9" r="0.44"/><circle cx="204.9" cy="449.0" r="0.82"/><circle cx="198.3" cy="475.1" r="0.41"/><circle cx="207.1" cy="431.5" r="0.80"/><circle cx="199.6" cy="462.9" r="0.63"/><circle cx="202.8" cy="434.7" r="0.54"/><circle cx="198.4" cy="465.1" r="0.83"/><circle cx="200.9" cy="443.5" r="0.49"/><circle cx="209.1" cy="453.4" r="0.43"/></g><g fill="#7a7a90" opacity="0.8"><circle cx="202.5" cy="466.9" r="0.45"/><circle cx="205.7" cy="437.4" r="0.53"/><circle cx="193.7" cy="461.0" r="0.46"/><circle cx="198.4" cy="438.8" r="0.53"/><circle cx="198.2" cy="471.3" r="0.41"/><circle cx="201.6" cy="456.8" r="0.43"/><circle cx="198.7" cy="430.5" r="0.68"/><circle cx="199.4" cy="439.5" r="0.76"/><circle cx="191.1" cy="471.6" r="0.47"/><circle cx="211.4" cy="432.2" r="0.56"/></g><g fill="#85818c" opacity="0.8"><circle cx="200.6" cy="454.1" r="0.78"/><circle cx="200.1" cy="451.7" r="0.82"/><circle cx="208.9" cy="442.7" r="0.50"/><circle cx="194.9" cy="470.9" r="0.46"/><circle cx="194.1" cy="465.2" r="0.57"/><circle cx="212.4" cy="460.4" r="0.80"/><circle cx="196.0" cy="443.1" r="0.84"/><circle cx="198.0" cy="466.0" r="0.46"/><circle cx="201.3" cy="428.4" r="0.42"/></g><g fill="#8c8478" opacity="0.95"><circle cx="211.4" cy="448.4" r="0.63"/><circle cx="201.7" cy="423.8" r="0.50"/><circle cx="207.7" cy="443.3" r="0.81"/><circle cx="208.9" cy="436.2" r="0.62"/><circle cx="202.8" cy="468.7" r="0.81"/></g><g fill="#9a8f7e" opacity="0.6"><circle cx="204.7" cy="448.6" r="0.68"/><circle cx="201.0" cy="428.8" r="0.66"/><circle cx="202.8" cy="424.5" r="0.74"/><circle cx="201.5" cy="434.3" r="0.43"/><circle cx="210.2" cy="453.3" r="0.59"/></g><g fill="#85818c" opacity="0.6"><circle cx="199.6" cy="441.6" r="0.77"/><circle cx="196.1" cy="457.0" r="0.83"/><circle cx="199.1" cy="430.4" r="0.56"/><circle cx="196.8" cy="454.6" r="0.48"/><circle cx="190.8" cy="473.2" r="0.80"/><circle cx="205.8" cy="471.7" r="0.77"/><circle cx="198.6" cy="447.8" r="0.68"/><circle cx="206.2" cy="452.0" r="0.84"/></g><g fill="#77758a" opacity="0.95"><circle cx="200.2" cy="445.7" r="0.61"/><circle cx="197.0" cy="456.1" r="0.75"/><circle cx="205.4" cy="426.6" r="0.52"/><circle cx="203.6" cy="435.0" r="0.44"/><circle cx="200.8" cy="445.7" r="0.63"/><circle cx="203.3" cy="429.7" r="0.40"/><circle cx="205.5" cy="424.4" r="0.44"/><circle cx="208.7" cy="450.1" r="0.63"/><circle cx="208.9" cy="439.3" r="0.82"/><circle cx="193.1" cy="469.4" r="0.55"/><circle cx="193.4" cy="466.8" r="0.73"/><circle cx="204.7" cy="443.3" r="0.56"/><circle cx="207.4" cy="475.5" r="0.60"/><circle cx="204.2" cy="465.0" r="0.48"/></g><g fill="#77758a" opacity="0.6"><circle cx="194.8" cy="461.1" r="0.53"/><circle cx="198.2" cy="469.4" r="0.75"/><circle cx="199.1" cy="469.8" r="0.41"/><circle cx="207.5" cy="439.5" r="0.50"/><circle cx="194.0" cy="466.5" r="0.73"/><circle cx="199.3" cy="440.5" r="0.46"/><circle cx="201.2" cy="452.6" r="0.42"/><circle cx="204.4" cy="441.4" r="0.79"/><circle cx="208.5" cy="437.2" r="0.78"/></g><g fill="#5a5b78" opacity="0.95"><circle cx="204.3" cy="457.9" r="0.62"/><circle cx="203.4" cy="450.1" r="0.78"/><circle cx="203.7" cy="476.7" r="0.76"/><circle cx="203.3" cy="456.7" r="0.60"/><circle cx="203.8" cy="456.6" r="0.80"/><circle cx="194.5" cy="473.2" r="0.67"/><circle cx="195.3" cy="455.8" r="0.44"/><circle cx="209.8" cy="429.8" r="0.73"/><circle cx="198.6" cy="442.4" r="0.54"/><circle cx="203.1" cy="431.2" r="0.42"/></g><g fill="#8c8478" opacity="0.8"><circle cx="197.3" cy="457.1" r="0.54"/><circle cx="194.2" cy="456.8" r="0.43"/><circle cx="204.9" cy="462.2" r="0.62"/><circle cx="203.4" cy="454.3" r="0.43"/><circle cx="194.8" cy="476.1" r="0.72"/><circle cx="201.5" cy="469.1" r="0.71"/><circle cx="207.7" cy="434.4" r="0.52"/></g><g fill="#a0957f" opacity="0.6"><circle cx="204.6" cy="459.9" r="0.58"/><circle cx="205.6" cy="424.8" r="0.81"/><circle cx="203.7" cy="444.7" r="0.42"/><circle cx="201.0" cy="452.5" r="0.67"/><circle cx="198.1" cy="469.1" r="0.49"/><circle cx="202.3" cy="463.0" r="0.61"/></g><g fill="#a0957f" opacity="0.95"><circle cx="200.3" cy="436.3" r="0.53"/><circle cx="195.3" cy="448.3" r="0.82"/><circle cx="201.7" cy="444.6" r="0.64"/><circle cx="205.4" cy="436.5" r="0.47"/><circle cx="204.3" cy="435.5" r="0.43"/><circle cx="206.5" cy="442.1" r="0.42"/><circle cx="206.5" cy="424.7" r="0.65"/></g><g fill="#a0957f" opacity="0.8"><circle cx="206.2" cy="423.2" r="0.80"/><circle cx="211.1" cy="434.4" r="0.41"/><circle cx="193.4" cy="464.0" r="0.53"/><circle cx="205.5" cy="443.7" r="0.67"/><circle cx="200.4" cy="433.7" r="0.41"/><circle cx="202.2" cy="447.1" r="0.60"/><circle cx="207.1" cy="452.0" r="0.47"/><circle cx="211.0" cy="441.6" r="0.77"/><circle cx="197.8" cy="460.8" r="0.49"/><circle cx="198.1" cy="462.8" r="0.50"/></g><g fill="#666784" opacity="0.8"><circle cx="208.2" cy="441.8" r="0.56"/><circle cx="200.4" cy="425.9" r="0.79"/><circle cx="195.7" cy="470.0" r="0.53"/><circle cx="206.0" cy="433.6" r="0.61"/><circle cx="208.5" cy="431.8" r="0.61"/><circle cx="206.3" cy="442.9" r="0.68"/></g><g fill="#7a7a90" opacity="0.95"><circle cx="209.7" cy="445.9" r="0.45"/><circle cx="209.6" cy="442.5" r="0.50"/><circle cx="202.9" cy="429.8" r="0.71"/><circle cx="204.0" cy="456.3" r="0.58"/><circle cx="211.3" cy="469.8" r="0.82"/><circle cx="192.3" cy="476.3" r="0.73"/><circle cx="198.5" cy="473.5" r="0.46"/><circle cx="198.9" cy="458.1" r="0.65"/><circle cx="199.2" cy="460.3" r="0.52"/><circle cx="203.0" cy="435.8" r="0.69"/><circle cx="207.8" cy="453.1" r="0.75"/><circle cx="208.5" cy="465.1" r="0.57"/><circle cx="198.9" cy="455.4" r="0.72"/><circle cx="196.1" cy="461.4" r="0.41"/><circle cx="202.8" cy="467.8" r="0.77"/></g><g fill="#7a7a90" opacity="0.6"><circle cx="198.0" cy="449.7" r="0.72"/><circle cx="201.9" cy="425.3" r="0.43"/><circle cx="206.2" cy="438.9" r="0.54"/><circle cx="196.3" cy="470.5" r="0.71"/><circle cx="204.5" cy="444.3" r="0.76"/><circle cx="206.3" cy="453.4" r="0.46"/><circle cx="208.1" cy="440.6" r="0.67"/></g><g fill="#666784" opacity="0.95"><circle cx="196.9" cy="473.8" r="0.77"/><circle cx="200.9" cy="424.3" r="0.80"/><circle cx="201.0" cy="463.6" r="0.82"/><circle cx="199.1" cy="458.0" r="0.68"/><circle cx="199.1" cy="441.3" r="0.74"/><circle cx="199.2" cy="472.7" r="0.50"/><circle cx="197.3" cy="434.3" r="0.81"/><circle cx="198.3" cy="464.1" r="0.50"/><circle cx="199.3" cy="460.9" r="0.63"/></g><g fill="#8c8478" opacity="0.6"><circle cx="202.9" cy="432.6" r="0.42"/><circle cx="194.6" cy="476.4" r="0.77"/><circle cx="194.5" cy="463.8" r="0.77"/><circle cx="204.9" cy="462.8" r="0.57"/><circle cx="196.7" cy="449.2" r="0.84"/><circle cx="209.1" cy="458.8" r="0.43"/><circle cx="207.8" cy="429.3" r="0.41"/><circle cx="202.5" cy="430.5" r="0.80"/><circle cx="191.6" cy="468.9" r="0.73"/><circle cx="199.3" cy="443.3" r="0.51"/><circle cx="200.5" cy="463.7" r="0.58"/><circle cx="207.4" cy="474.4" r="0.41"/></g><g fill="#85818c" opacity="0.95"><circle cx="207.3" cy="422.6" r="0.72"/><circle cx="208.4" cy="427.5" r="0.46"/><circle cx="198.9" cy="436.3" r="0.69"/></g><g fill="#77758a" opacity="0.8"><circle cx="198.9" cy="459.0" r="0.81"/><circle cx="198.8" cy="433.4" r="0.80"/><circle cx="209.6" cy="456.4" r="0.71"/><circle cx="200.5" cy="434.4" r="0.49"/><circle cx="196.6" cy="440.3" r="0.45"/><circle cx="200.0" cy="425.1" r="0.42"/><circle cx="200.1" cy="458.2" r="0.60"/><circle cx="209.4" cy="440.0" r="0.55"/></g><g fill="#9a8f7e" opacity="0.8"><circle cx="203.1" cy="476.4" r="0.63"/><circle cx="197.3" cy="468.4" r="0.67"/><circle cx="197.9" cy="472.4" r="0.63"/><circle cx="206.1" cy="435.0" r="0.62"/><circle cx="198.0" cy="463.6" r="0.73"/><circle cx="200.6" cy="468.2" r="0.79"/><circle cx="202.2" cy="474.7" r="0.61"/></g><g fill="#666784" opacity="0.6"><circle cx="207.0" cy="428.1" r="0.81"/><circle cx="201.5" cy="441.0" r="0.56"/><circle cx="197.8" cy="450.0" r="0.47"/><circle cx="209.1" cy="430.1" r="0.52"/><circle cx="200.6" cy="427.7" r="0.65"/></g><g fill="#4a5498" opacity="0.6"><circle cx="193.7" cy="436.7" r="0.66"/><circle cx="189.9" cy="438.2" r="0.60"/><circle cx="172.0" cy="470.5" r="0.50"/><circle cx="168.8" cy="437.3" r="0.51"/><circle cx="189.5" cy="439.0" r="0.54"/><circle cx="189.0" cy="429.3" r="0.50"/><circle cx="185.1" cy="431.2" r="0.67"/><circle cx="191.5" cy="470.1" r="0.56"/><circle cx="158.8" cy="448.3" r="0.60"/><circle cx="193.5" cy="445.4" r="0.51"/><circle cx="179.3" cy="476.4" r="0.48"/></g><g fill="#6a74b6" opacity="1"><circle cx="185.9" cy="448.8" r="0.65"/><circle cx="186.9" cy="471.9" r="0.62"/><circle cx="171.0" cy="448.5" r="0.67"/><circle cx="166.3" cy="425.2" r="0.51"/><circle cx="185.0" cy="477.6" r="0.43"/><circle cx="187.8" cy="469.9" r="0.65"/></g><g fill="#5560a8" opacity="0.8"><circle cx="193.7" cy="428.3" r="0.56"/><circle cx="187.5" cy="476.7" r="0.67"/><circle cx="188.0" cy="477.2" r="0.68"/><circle cx="193.2" cy="436.9" r="0.58"/><circle cx="187.3" cy="441.4" r="0.66"/><circle cx="191.2" cy="433.4" r="0.74"/><circle cx="190.2" cy="475.3" r="0.41"/><circle cx="196.2" cy="428.9" r="0.57"/></g><g fill="#6a74b6" opacity="0.8"><circle cx="190.8" cy="455.1" r="0.61"/><circle cx="194.4" cy="442.9" r="0.65"/><circle cx="195.7" cy="450.0" r="0.43"/><circle cx="183.2" cy="440.1" r="0.51"/><circle cx="189.6" cy="477.0" r="0.54"/><circle cx="157.6" cy="474.9" r="0.73"/><circle cx="191.4" cy="463.4" r="0.69"/><circle cx="198.1" cy="429.2" r="0.68"/></g><g fill="#5560a8" opacity="1"><circle cx="167.0" cy="437.9" r="0.51"/><circle cx="198.2" cy="426.0" r="0.53"/><circle cx="194.5" cy="454.5" r="0.63"/><circle cx="192.1" cy="429.5" r="0.47"/><circle cx="188.4" cy="448.8" r="0.64"/></g><g fill="#6a74b6" opacity="0.6"><circle cx="176.0" cy="435.6" r="0.66"/><circle cx="197.0" cy="440.3" r="0.52"/></g><g fill="#5560a8" opacity="0.6"><circle cx="194.5" cy="429.4" r="0.44"/><circle cx="169.3" cy="438.7" r="0.47"/><circle cx="177.6" cy="452.2" r="0.68"/><circle cx="181.8" cy="468.5" r="0.49"/></g><g fill="#4a5498" opacity="0.8"><circle cx="161.4" cy="428.1" r="0.67"/><circle cx="163.3" cy="431.0" r="0.64"/><circle cx="182.1" cy="422.8" r="0.74"/><circle cx="193.6" cy="429.2" r="0.53"/><circle cx="157.0" cy="443.8" r="0.48"/><circle cx="190.8" cy="440.5" r="0.63"/><circle cx="173.4" cy="433.4" r="0.52"/></g><g fill="#4a5498" opacity="1"><circle cx="198.2" cy="426.7" r="0.68"/><circle cx="176.8" cy="441.2" r="0.71"/><circle cx="189.8" cy="426.1" r="0.51"/><circle cx="192.6" cy="452.5" r="0.58"/></g><g fill="#bbbbbb" opacity="0.6"><circle cx="252.0" cy="458.7" r="0.35"/><circle cx="225.7" cy="476.6" r="0.35"/><circle cx="248.2" cy="422.4" r="0.35"/><circle cx="250.9" cy="458.1" r="0.35"/><circle cx="225.1" cy="448.5" r="0.35"/><circle cx="227.6" cy="465.1" r="0.35"/><circle cx="231.0" cy="427.0" r="0.35"/><circle cx="248.1" cy="440.5" r="0.35"/><circle cx="223.1" cy="461.0" r="0.35"/><circle cx="221.6" cy="455.7" r="0.35"/><circle cx="232.6" cy="428.9" r="0.35"/><circle cx="250.4" cy="460.6" r="0.35"/></g></g>
<text x="158.6" y="474" font-size="7.4" fill="#111" textLength="25.4" lengthAdjust="spacingAndGlyphs">100um</text>
<rect x="157.2" y="475.3" width="27.8" height="1.4" fill="#000"/>
<line x1="99.9" x2="99.9" y1="496.5" y2="570.7" stroke="#000" stroke-width="0.6"/>
<line x1="99.6" x2="174.4" y1="570.4" y2="570.4" stroke="#000" stroke-width="0.6"/>
<line x1="97.5" x2="99.9" y1="570.4" y2="570.4" stroke="#000" stroke-width="0.6"/>
<text x="96.7" y="572.4" text-anchor="end" class="b" font-size="5.8">0</text>
<line x1="97.5" x2="99.9" y1="552.0" y2="552.0" stroke="#000" stroke-width="0.6"/>
<text x="96.7" y="554.0" text-anchor="end" class="b" font-size="5.8">20</text>
<line x1="97.5" x2="99.9" y1="533.6" y2="533.6" stroke="#000" stroke-width="0.6"/>
<text x="96.7" y="535.6" text-anchor="end" class="b" font-size="5.8">40</text>
<line x1="97.5" x2="99.9" y1="515.2" y2="515.2" stroke="#000" stroke-width="0.6"/>
<text x="96.7" y="517.2" text-anchor="end" class="b" font-size="5.8">60</text>
<line x1="97.5" x2="99.9" y1="496.8" y2="496.8" stroke="#000" stroke-width="0.6"/>
<text x="96.7" y="498.8" text-anchor="end" class="b" font-size="5.8">80</text>
<text transform="translate(86.4 533.6) rotate(-90)" text-anchor="middle" class="b" font-size="5.8">IHC score</text>
<rect x="110.9" y="562.5" width="21" height="7.9" fill="#e8343c" stroke="#000" stroke-width="0.6"/>
<rect x="143.1" y="528.6" width="20.8" height="41.8" fill="#2351a8" stroke="#000" stroke-width="0.6"/>
<line x1="121.4" x2="121.4" y1="556.4" y2="568.6" stroke="#000" stroke-width="0.6"/><line x1="116" x2="126.8" y1="556.4" y2="556.4" stroke="#000" stroke-width="0.6"/>
<line x1="153.5" x2="153.5" y1="515" y2="542.2" stroke="#000" stroke-width="0.6"/><line x1="148.3" x2="158.6" y1="515" y2="515" stroke="#000" stroke-width="0.6"/>
<circle cx="116.0" cy="557.1" r="1.35" fill="#000"/>
<circle cx="121.4" cy="551.9" r="1.35" fill="#000"/>
<circle cx="121.4" cy="560.6" r="1.35" fill="#000"/>
<circle cx="116.0" cy="566.0" r="1.35" fill="#000"/>
<circle cx="116.0" cy="568.8" r="1.35" fill="#000"/>
<circle cx="121.9" cy="567.6" r="1.35" fill="#000"/>
<circle cx="127.2" cy="562.9" r="1.35" fill="#000"/>
<circle cx="127.2" cy="567.6" r="1.35" fill="#000"/>
<circle cx="153.4" cy="507.6" r="1.35" fill="#000"/>
<circle cx="153.4" cy="516.7" r="1.35" fill="#000"/>
<circle cx="153.4" cy="519.7" r="1.35" fill="#000"/>
<circle cx="153.4" cy="525.1" r="1.35" fill="#000"/>
<circle cx="153.4" cy="529.1" r="1.35" fill="#000"/>
<circle cx="150.6" cy="540.7" r="1.35" fill="#000"/>
<circle cx="156.4" cy="542.4" r="1.35" fill="#000"/>
<circle cx="150.6" cy="545.4" r="1.35" fill="#000"/>
<line x1="121.4" x2="121.4" y1="570.4" y2="572.6" stroke="#000" stroke-width="0.6"/>
<line x1="153.4" x2="153.4" y1="570.4" y2="572.6" stroke="#000" stroke-width="0.6"/>
<text x="121.4" y="579.4" text-anchor="middle" class="b" font-size="5.8">Tumor</text>
<text x="153.6" y="579.4" text-anchor="middle" class="b" font-size="5.8">Normal</text>
<line x1="121.4" x2="153" y1="496.1" y2="496.1" stroke="#000" stroke-width="0.7"/>
<text x="137.2" y="496.2" text-anchor="middle" class="b" font-size="9" letter-spacing="0.4">***</text>
<rect x="177.4" y="498.8" width="7.8" height="3.6" fill="#e8343c" stroke="#000" stroke-width="0.6"/>
<rect x="177.4" y="508.4" width="7.8" height="3.6" fill="#2351a8" stroke="#000" stroke-width="0.6"/>
<text x="189.6" y="502.6" font-size="5.8">Tumor</text>
<text x="189.6" y="512.3" font-size="5.8">Normal</text>
</g>
<g id="pG">
<text x="302.7" y="410.4" class="b" font-size="15.3">G</text>
<line x1="318.2" x2="318.2" y1="438.9" y2="502.4" stroke="#6e6e6e" stroke-width="0.75"/>
<line x1="317.0" x2="318.2" y1="446.6" y2="446.6" stroke="#6e6e6e" stroke-width="0.75"/>
<text x="316.4" y="447.8" text-anchor="end" font-size="3.4" fill="#555">0.0</text>
<line x1="317.0" x2="318.2" y1="464.4" y2="464.4" stroke="#6e6e6e" stroke-width="0.75"/>
<text x="316.4" y="465.6" text-anchor="end" font-size="3.4" fill="#555">-0.2</text>
<line x1="317.0" x2="318.2" y1="482.7" y2="482.7" stroke="#6e6e6e" stroke-width="0.75"/>
<text x="316.4" y="483.9" text-anchor="end" font-size="3.4" fill="#555">-0.4</text>
<line x1="317.0" x2="318.2" y1="500.9" y2="500.9" stroke="#6e6e6e" stroke-width="0.75"/>
<text x="316.4" y="502.1" text-anchor="end" font-size="3.4" fill="#555">-0.6</text>
<clipPath id="cg1"><rect x="317.2" y="430.0" width="60" height="5.7"/></clipPath>
<text x="318.2" y="436.0" font-size="5.2" fill="#111" stroke="#111" stroke-width="0.1" clip-path="url(#cg1)">GSEA ENRICH</text>
<text transform="translate(308.6 471.1) rotate(-90)" text-anchor="middle" font-size="4.15" fill="#111" stroke="#111" stroke-width="0.1">Running Enrichment Score</text>
<path d="M318.4 447.8 L319.5 446.5 L320.5 443.8 L322.0 442.6 L323.4 442.1 L325.0 442.6 L327.0 443.3 L329.0 443.0 L330.7 443.2 L332.5 444.2 L334.3 445.4 L336.0 446.2 L338.0 446.4 L340.0 447.3 L343.8 449.1 L350.0 451.6 L354.0 453.3 L358.4 454.9 L370.0 460.8 L380.0 465.9 L390.0 471.0 L400.0 476.2 L409.6 481.2 L417.0 485.3 L424.2 489.2 L431.0 492.3 L438.8 495.1 L443.0 496.3 L446.1 496.8 L450.0 497.4 L453.4 498.0 L456.0 499.0 L457.8 499.7 L460.0 498.9 L462.5 497.8 L465.1 496.5 L468.0 494.9 L470.9 492.9 L474.0 489.4 L476.8 484.9 L479.0 479.8 L481.1 473.2 L482.7 467.5 L484.1 461.5 L485.0 456.5 L485.8 451.3 L486.2 446.2" fill="none" stroke="#e9504c" stroke-width="0.62" stroke-linejoin="round"/>
<g><line x1="318.40" x2="318.40" y1="503.8" y2="519.2" stroke="#000" stroke-width="0.45" opacity="0.74"/><line x1="319.27" x2="319.27" y1="503.8" y2="519.2" stroke="#000" stroke-width="0.45" opacity="0.93"/><line x1="319.88" x2="319.88" y1="503.8" y2="519.2" stroke="#000" stroke-width="0.45" opacity="0.85"/><line x1="320.40" x2="320.40" y1="503.8" y2="519.2" stroke="#000" stroke-width="0.45" opacity="0.96"/><line x1="320.89" x2="320.89" y1="503.8" y2="519.2" stroke="#000" stroke-width="0.45" opacity="0.89"/><line x1="321.19" x2="321.19" y1="503.8" y2="519.2" stroke="#000" stroke-width="0.45" opacity="0.98"/><line x1="321.60" x2="321.60" y1="503.8" y2="519.2" stroke="#000" stroke-width="0.45" opacity="0.97"/><line x1="321.89" x2="321.89" y1="503.8" y2="519.2" stroke="#000" stroke-width="0.45" opacity="0.93"/><line x1="322.37" x2="322.37" y1="503.8" y2="519.2" stroke="#000" stroke-width="0.45" opacity="0.91"/><line x1="322.60" x2="322.60" y1="503.8" y2="519.2" stroke="#000" stroke-width="0.45" opacity="0.86"/><line x1="323.28" x2="323.28" y1="503.8" y2="519.2" stroke="#000" stroke-width="0.45" opacity="0.51"/><line x1="327.70" x2="327.70" y1="503.8" y2="519.2" stroke="#000" stroke-width="0.45" opacity="0.63"/><line x1="328.77" x2="328.77" y1="503.8" y2="519.2" stroke="#000" stroke-width="0.45" opacity="0.38"/><line x1="329.90" x2="329.90" y1="503.8" y2="519.2" stroke="#000" stroke-width="0.45" opacity="0.90"/><line x1="330.30" x2="330.30" y1="503.8" y2="519.2" stroke="#000" stroke-width="0.45" opacity="0.31"/><line x1="337.20" x2="337.20" y1="503.8" y2="519.2" stroke="#000" stroke-width="0.45" opacity="0.83"/><line x1="337.92" x2="337.92" y1="503.8" y2="519.2" stroke="#000" stroke-width="0.45" opacity="0.77"/><line x1="343.00" x2="343.00" y1="503.8" y2="519.2" stroke="#000" stroke-width="0.45" opacity="0.23"/><line x1="347.40" x2="347.40" y1="503.8" y2="519.2" stroke="#000" stroke-width="0.45" opacity="0.40"/><line x1="348.22" x2="348.22" y1="503.8" y2="519.2" stroke="#000" stroke-width="0.45" opacity="0.59"/><line x1="351.80" x2="351.80" y1="503.8" y2="519.2" stroke="#000" stroke-width="0.45" opacity="0.52"/><line x1="352.73" x2="352.73" y1="503.8" y2="519.2" stroke="#000" stroke-width="0.45" opacity="0.65"/><line x1="354.30" x2="354.30" y1="503.8" y2="519.2" stroke="#000" stroke-width="0.45" opacity="0.74"/><line x1="354.95" x2="354.95" y1="503.8" y2="519.2" stroke="#000" stroke-width="0.45" opacity="0.92"/><line x1="355.76" x2="355.76" y1="503.8" y2="519.2" stroke="#000" stroke-width="0.45" opacity="0.98"/><line x1="356.20" x2="356.20" y1="503.8" y2="519.2" stroke="#000" stroke-width="0.45" opacity="0.98"/><line x1="356.66" x2="356.66" y1="503.8" y2="519.2" stroke="#000" stroke-width="0.45" opacity="0.92"/><line x1="357.10" x2="357.10" y1="503.8" y2="519.2" stroke="#000" stroke-width="0.45" opacity="0.99"/><line x1="357.61" x2="357.61" y1="503.8" y2="519.2" stroke="#000" stroke-width="0.45" opacity="0.94"/><line x1="358.05" x2="358.05" y1="503.8" y2="519.2" stroke="#000" stroke-width="0.45" opacity="0.88"/><line x1="358.41" x2="358.41" y1="503.8" y2="519.2" stroke="#000" stroke-width="0.45" opacity="0.98"/><line x1="358.81" x2="358.81" y1="503.8" y2="519.2" stroke="#000" stroke-width="0.45" opacity="0.90"/><line x1="361.30" x2="361.30" y1="503.8" y2="519.2" stroke="#000" stroke-width="0.45" opacity="0.55"/><line x1="362.57" x2="362.57" y1="503.8" y2="519.2" stroke="#000" stroke-width="0.45" opacity="0.43"/><line x1="364.20" x2="364.20" y1="503.8" y2="519.2" stroke="#000" stroke-width="0.45" opacity="0.70"/><line x1="367.90" x2="367.90" y1="503.8" y2="519.2" stroke="#000" stroke-width="0.45" opacity="0.71"/><line x1="368.79" x2="368.79" y1="503.8" y2="519.2" stroke="#000" stroke-width="0.45" opacity="0.70"/><line x1="371.50" x2="371.50" y1="503.8" y2="519.2" stroke="#000" stroke-width="0.45" opacity="0.71"/><line x1="372.31" x2="372.31" y1="503.8" y2="519.2" stroke="#000" stroke-width="0.45" opacity="0.99"/><line x1="375.90" x2="375.90" y1="503.8" y2="519.2" stroke="#000" stroke-width="0.45" opacity="0.82"/><line x1="376.48" x2="376.48" y1="503.8" y2="519.2" stroke="#000" stroke-width="0.45" opacity="0.85"/><line x1="389.80" x2="389.80" y1="503.8" y2="519.2" stroke="#000" stroke-width="0.45" opacity="0.57"/><line x1="390.98" x2="390.98" y1="503.8" y2="519.2" stroke="#000" stroke-width="0.45" opacity="0.60"/><line x1="391.94" x2="391.94" y1="503.8" y2="519.2" stroke="#000" stroke-width="0.45" opacity="0.48"/><line x1="394.20" x2="394.20" y1="503.8" y2="519.2" stroke="#000" stroke-width="0.45" opacity="0.87"/><line x1="394.90" x2="394.90" y1="503.8" y2="519.2" stroke="#000" stroke-width="0.45" opacity="0.78"/><line x1="395.60" x2="395.60" y1="503.8" y2="519.2" stroke="#000" stroke-width="0.45" opacity="0.63"/><line x1="396.41" x2="396.41" y1="503.8" y2="519.2" stroke="#000" stroke-width="0.45" opacity="0.57"/><line x1="399.30" x2="399.30" y1="503.8" y2="519.2" stroke="#000" stroke-width="0.45" opacity="0.45"/><line x1="400.80" x2="400.80" y1="503.8" y2="519.2" stroke="#000" stroke-width="0.45" opacity="0.97"/><line x1="401.62" x2="401.62" y1="503.8" y2="519.2" stroke="#000" stroke-width="0.45" opacity="0.94"/><line x1="402.35" x2="402.35" y1="503.8" y2="519.2" stroke="#000" stroke-width="0.45" opacity="0.87"/><line x1="406.00" x2="406.00" y1="503.8" y2="519.2" stroke="#000" stroke-width="0.45" opacity="0.30"/><line x1="412.50" x2="412.50" y1="503.8" y2="519.2" stroke="#000" stroke-width="0.45" opacity="0.45"/><line x1="416.60" x2="416.60" y1="503.8" y2="519.2" stroke="#000" stroke-width="0.45" opacity="0.45"/><line x1="422.70" x2="422.70" y1="503.8" y2="519.2" stroke="#000" stroke-width="0.45" opacity="0.72"/><line x1="423.58" x2="423.58" y1="503.8" y2="519.2" stroke="#000" stroke-width="0.45" opacity="0.87"/><line x1="424.17" x2="424.17" y1="503.8" y2="519.2" stroke="#000" stroke-width="0.45" opacity="0.85"/><line x1="424.88" x2="424.88" y1="503.8" y2="519.2" stroke="#000" stroke-width="0.45" opacity="0.81"/><line x1="425.54" x2="425.54" y1="503.8" y2="519.2" stroke="#000" stroke-width="0.45" opacity="0.86"/><line x1="427.80" x2="427.80" y1="503.8" y2="519.2" stroke="#000" stroke-width="0.45" opacity="0.88"/><line x1="428.50" x2="428.50" y1="503.8" y2="519.2" stroke="#000" stroke-width="0.45" opacity="0.71"/><line x1="429.11" x2="429.11" y1="503.8" y2="519.2" stroke="#000" stroke-width="0.45" opacity="0.75"/><line x1="429.86" x2="429.86" y1="503.8" y2="519.2" stroke="#000" stroke-width="0.45" opacity="0.96"/><line x1="430.71" x2="430.71" y1="503.8" y2="519.2" stroke="#000" stroke-width="0.45" opacity="0.94"/><line x1="432.20" x2="432.20" y1="503.8" y2="519.2" stroke="#000" stroke-width="0.45" opacity="0.60"/><line x1="433.34" x2="433.34" y1="503.8" y2="519.2" stroke="#000" stroke-width="0.45" opacity="0.77"/><line x1="434.06" x2="434.06" y1="503.8" y2="519.2" stroke="#000" stroke-width="0.45" opacity="0.51"/><line x1="434.73" x2="434.73" y1="503.8" y2="519.2" stroke="#000" stroke-width="0.45" opacity="0.80"/><line x1="435.90" x2="435.90" y1="503.8" y2="519.2" stroke="#000" stroke-width="0.45" opacity="0.34"/><line x1="437.14" x2="437.14" y1="503.8" y2="519.2" stroke="#000" stroke-width="0.45" opacity="0.42"/><line x1="437.99" x2="437.99" y1="503.8" y2="519.2" stroke="#000" stroke-width="0.45" opacity="0.36"/><line x1="444.60" x2="444.60" y1="503.8" y2="519.2" stroke="#000" stroke-width="0.45" opacity="0.90"/><line x1="444.96" x2="444.96" y1="503.8" y2="519.2" stroke="#000" stroke-width="0.45" opacity="0.97"/><line x1="445.37" x2="445.37" y1="503.8" y2="519.2" stroke="#000" stroke-width="0.45" opacity="0.92"/><line x1="445.78" x2="445.78" y1="503.8" y2="519.2" stroke="#000" stroke-width="0.45" opacity="0.88"/><line x1="446.18" x2="446.18" y1="503.8" y2="519.2" stroke="#000" stroke-width="0.45" opacity="0.93"/><line x1="446.52" x2="446.52" y1="503.8" y2="519.2" stroke="#000" stroke-width="0.45" opacity="0.89"/><line x1="448.30" x2="448.30" y1="503.8" y2="519.2" stroke="#000" stroke-width="0.45" opacity="0.90"/><line x1="451.20" x2="451.20" y1="503.8" y2="519.2" stroke="#000" stroke-width="0.45" opacity="0.85"/><line x1="451.79" x2="451.79" y1="503.8" y2="519.2" stroke="#000" stroke-width="0.45" opacity="0.88"/><line x1="452.65" x2="452.65" y1="503.8" y2="519.2" stroke="#000" stroke-width="0.45" opacity="0.71"/><line x1="453.16" x2="453.16" y1="503.8" y2="519.2" stroke="#000" stroke-width="0.45" opacity="0.74"/><line x1="453.98" x2="453.98" y1="503.8" y2="519.2" stroke="#000" stroke-width="0.45" opacity="0.75"/><line x1="454.79" x2="454.79" y1="503.8" y2="519.2" stroke="#000" stroke-width="0.45" opacity="0.90"/><line x1="457.00" x2="457.00" y1="503.8" y2="519.2" stroke="#000" stroke-width="0.45" opacity="0.91"/><line x1="457.54" x2="457.54" y1="503.8" y2="519.2" stroke="#000" stroke-width="0.45" opacity="0.98"/><line x1="457.96" x2="457.96" y1="503.8" y2="519.2" stroke="#000" stroke-width="0.45" opacity="0.91"/><line x1="458.42" x2="458.42" y1="503.8" y2="519.2" stroke="#000" stroke-width="0.45" opacity="0.93"/><line x1="458.86" x2="458.86" y1="503.8" y2="519.2" stroke="#000" stroke-width="0.45" opacity="0.92"/><line x1="459.31" x2="459.31" y1="503.8" y2="519.2" stroke="#000" stroke-width="0.45" opacity="0.89"/><line x1="459.68" x2="459.68" y1="503.8" y2="519.2" stroke="#000" stroke-width="0.45" opacity="1.00"/><line x1="460.20" x2="460.20" y1="503.8" y2="519.2" stroke="#000" stroke-width="0.45" opacity="0.92"/><line x1="460.71" x2="460.71" y1="503.8" y2="519.2" stroke="#000" stroke-width="0.45" opacity="0.92"/><line x1="461.24" x2="461.24" y1="503.8" y2="519.2" stroke="#000" stroke-width="0.45" opacity="0.97"/><line x1="461.64" x2="461.64" y1="503.8" y2="519.2" stroke="#000" stroke-width="0.45" opacity="0.91"/><line x1="461.93" x2="461.93" y1="503.8" y2="519.2" stroke="#000" stroke-width="0.45" opacity="0.99"/><line x1="462.90" x2="462.90" y1="503.8" y2="519.2" stroke="#000" stroke-width="0.45" opacity="0.98"/><line x1="463.44" x2="463.44" y1="503.8" y2="519.2" stroke="#000" stroke-width="0.45" opacity="0.95"/><line x1="463.77" x2="463.77" y1="503.8" y2="519.2" stroke="#000" stroke-width="0.45" opacity="0.98"/><line x1="464.31" x2="464.31" y1="503.8" y2="519.2" stroke="#000" stroke-width="0.45" opacity="0.96"/><line x1="464.74" x2="464.74" y1="503.8" y2="519.2" stroke="#000" stroke-width="0.45" opacity="0.93"/><line x1="465.12" x2="465.12" y1="503.8" y2="519.2" stroke="#000" stroke-width="0.45" opacity="0.90"/><line x1="465.58" x2="465.58" y1="503.8" y2="519.2" stroke="#000" stroke-width="0.45" opacity="0.93"/><line x1="465.92" x2="465.92" y1="503.8" y2="519.2" stroke="#000" stroke-width="0.45" opacity="0.89"/><line x1="466.39" x2="466.39" y1="503.8" y2="519.2" stroke="#000" stroke-width="0.45" opacity="0.92"/><line x1="466.81" x2="466.81" y1="503.8" y2="519.2" stroke="#000" stroke-width="0.45" opacity="0.92"/><line x1="467.32" x2="467.32" y1="503.8" y2="519.2" stroke="#000" stroke-width="0.45" opacity="0.99"/><line x1="467.62" x2="467.62" y1="503.8" y2="519.2" stroke="#000" stroke-width="0.45" opacity="0.90"/><line x1="467.99" x2="467.99" y1="503.8" y2="519.2" stroke="#000" stroke-width="0.45" opacity="1.00"/><line x1="468.00" x2="468.00" y1="503.8" y2="519.2" stroke="#000" stroke-width="0.45" opacity="0.80"/><line x1="468.60" x2="468.60" y1="503.8" y2="519.2" stroke="#000" stroke-width="0.45" opacity="0.90"/><line x1="469.46" x2="469.46" y1="503.8" y2="519.2" stroke="#000" stroke-width="0.45" opacity="0.98"/><line x1="470.11" x2="470.11" y1="503.8" y2="519.2" stroke="#000" stroke-width="0.45" opacity="0.96"/><line x1="470.92" x2="470.92" y1="503.8" y2="519.2" stroke="#000" stroke-width="0.45" opacity="0.85"/><line x1="472.40" x2="472.40" y1="503.8" y2="519.2" stroke="#000" stroke-width="0.45" opacity="0.91"/><line x1="472.88" x2="472.88" y1="503.8" y2="519.2" stroke="#000" stroke-width="0.45" opacity="0.89"/><line x1="473.21" x2="473.21" y1="503.8" y2="519.2" stroke="#000" stroke-width="0.45" opacity="0.99"/><line x1="473.56" x2="473.56" y1="503.8" y2="519.2" stroke="#000" stroke-width="0.45" opacity="0.97"/><line x1="474.01" x2="474.01" y1="503.8" y2="519.2" stroke="#000" stroke-width="0.45" opacity="0.98"/><line x1="474.39" x2="474.39" y1="503.8" y2="519.2" stroke="#000" stroke-width="0.45" opacity="0.92"/><line x1="474.76" x2="474.76" y1="503.8" y2="519.2" stroke="#000" stroke-width="0.45" opacity="0.98"/><line x1="475.21" x2="475.21" y1="503.8" y2="519.2" stroke="#000" stroke-width="0.45" opacity="0.99"/><line x1="475.72" x2="475.72" y1="503.8" y2="519.2" stroke="#000" stroke-width="0.45" opacity="0.90"/><line x1="476.16" x2="476.16" y1="503.8" y2="519.2" stroke="#000" stroke-width="0.45" opacity="0.89"/><line x1="476.46" x2="476.46" y1="503.8" y2="519.2" stroke="#000" stroke-width="0.45" opacity="0.89"/><line x1="476.80" x2="476.80" y1="503.8" y2="519.2" stroke="#000" stroke-width="0.45" opacity="0.97"/><line x1="477.30" x2="477.30" y1="503.8" y2="519.2" stroke="#000" stroke-width="0.45" opacity="0.92"/><line x1="477.75" x2="477.75" y1="503.8" y2="519.2" stroke="#000" stroke-width="0.45" opacity="0.97"/><line x1="478.14" x2="478.14" y1="503.8" y2="519.2" stroke="#000" stroke-width="0.45" opacity="0.95"/><line x1="478.49" x2="478.49" y1="503.8" y2="519.2" stroke="#000" stroke-width="0.45" opacity="0.89"/><line x1="478.85" x2="478.85" y1="503.8" y2="519.2" stroke="#000" stroke-width="0.45" opacity="0.99"/><line x1="479.29" x2="479.29" y1="503.8" y2="519.2" stroke="#000" stroke-width="0.45" opacity="0.99"/><line x1="479.70" x2="479.70" y1="503.8" y2="519.2" stroke="#000" stroke-width="0.45" opacity="0.91"/><line x1="480.19" x2="480.19" y1="503.8" y2="519.2" stroke="#000" stroke-width="0.45" opacity="0.98"/><line x1="480.49" x2="480.49" y1="503.8" y2="519.2" stroke="#000" stroke-width="0.45" opacity="0.96"/><line x1="480.80" x2="480.80" y1="503.8" y2="519.2" stroke="#000" stroke-width="0.45" opacity="0.89"/><line x1="481.32" x2="481.32" y1="503.8" y2="519.2" stroke="#000" stroke-width="0.45" opacity="0.88"/><line x1="481.68" x2="481.68" y1="503.8" y2="519.2" stroke="#000" stroke-width="0.45" opacity="1.00"/><line x1="482.08" x2="482.08" y1="503.8" y2="519.2" stroke="#000" stroke-width="0.45" opacity="0.89"/><line x1="482.41" x2="482.41" y1="503.8" y2="519.2" stroke="#000" stroke-width="0.45" opacity="0.91"/><line x1="482.60" x2="482.60" y1="503.8" y2="519.2" stroke="#000" stroke-width="0.45" opacity="0.89"/><line x1="483.12" x2="483.12" y1="503.8" y2="519.2" stroke="#000" stroke-width="0.45" opacity="0.93"/><line x1="483.66" x2="483.66" y1="503.8" y2="519.2" stroke="#000" stroke-width="0.45" opacity="0.99"/><line x1="484.03" x2="484.03" y1="503.8" y2="519.2" stroke="#000" stroke-width="0.45" opacity="0.91"/><line x1="484.44" x2="484.44" y1="503.8" y2="519.2" stroke="#000" stroke-width="0.45" opacity="0.89"/><line x1="484.90" x2="484.90" y1="503.8" y2="519.2" stroke="#000" stroke-width="0.45" opacity="0.88"/><line x1="485.20" x2="485.20" y1="503.8" y2="519.2" stroke="#000" stroke-width="0.45" opacity="1.00"/><line x1="485.57" x2="485.57" y1="503.8" y2="519.2" stroke="#000" stroke-width="0.45" opacity="0.95"/></g>
<rect x="318.2" y="519.2" width="3.1" height="5.8" fill="#d7301f"/>
<rect x="321.0" y="519.2" width="3.3" height="5.8" fill="#e34a33"/>
<rect x="324.0" y="519.2" width="3.8" height="5.8" fill="#ef6548"/>
<rect x="327.5" y="519.2" width="4.8" height="5.8" fill="#f58a6b"/>
<rect x="332.0" y="519.2" width="4.3" height="5.8" fill="#f9a78d"/>
<rect x="336.0" y="519.2" width="4.3" height="5.8" fill="#fcc8b4"/>
<rect x="340.0" y="519.2" width="4.8" height="5.8" fill="#fde0d3"/>
<rect x="344.5" y="519.2" width="7.8" height="5.8" fill="#ffffff"/>
<rect x="352.0" y="519.2" width="6.3" height="5.8" fill="#f3f7fc"/>
<rect x="358.0" y="519.2" width="5.1" height="5.8" fill="#eef3fa"/>
<rect x="362.8" y="519.2" width="13.5" height="5.8" fill="#c6dbef"/>
<rect x="376.0" y="519.2" width="15.5" height="5.8" fill="#c9deef"/>
<rect x="391.2" y="519.2" width="19.1" height="5.8" fill="#5fa2d6"/>
<rect x="410.0" y="519.2" width="32.0" height="5.8" fill="#5a9fd4"/>
<rect x="441.7" y="519.2" width="28.6" height="5.8" fill="#2f72b8"/>
<rect x="470.0" y="519.2" width="16.5" height="5.8" fill="#2a69b0"/>
<line x1="318.2" x2="318.2" y1="527.2" y2="568.5" stroke="#6e6e6e" stroke-width="0.75"/>
<line x1="318.2" x2="486.2" y1="568.5" y2="568.5" stroke="#6e6e6e" stroke-width="0.75"/>
<polygon points="318.2,550.4 318.2,530.0 318.5,537.5 319.6,543.4 322.5,546.0 326.9,547.2 334.2,548.0 348.8,548.9 363.4,549.6 378.0,550.1 405.0,550.4" fill="#c6c6c6"/>
<polygon points="400.0,550.2 438.8,551.2 455.0,551.8 468.0,552.3 475.0,553.2 479.7,554.2 482.5,555.3 484.0,556.6 485.0,559.0 485.8,566.6 486.2,566.6 486.2,550.2" fill="#c6c6c6"/>
<line x1="317.0" x2="318.2" y1="529.4" y2="529.4" stroke="#6e6e6e" stroke-width="0.75"/>
<text x="316.4" y="530.5" text-anchor="end" font-size="3.2" fill="#555">5</text>
<line x1="317.0" x2="318.2" y1="557.1" y2="557.1" stroke="#6e6e6e" stroke-width="0.75"/>
<text x="316.4" y="558.2" text-anchor="end" font-size="3.2" fill="#555">-5</text>
<line x1="317.0" x2="318.2" y1="568.5" y2="568.5" stroke="#6e6e6e" stroke-width="0.75"/>
<text x="316.4" y="569.6" text-anchor="end" font-size="3.2" fill="#555">-7</text>
<text transform="translate(308.6 547.1) rotate(-90)" text-anchor="middle" font-size="4.15" fill="#111" stroke="#111" stroke-width="0.1">Ranked List Metric</text>
<text x="402.0" y="565.9" text-anchor="middle" font-size="4.3" fill="#111" stroke="#111" stroke-width="0.12">Rank in Ordered Dataset</text>
<line x1="351.6" x2="351.6" y1="568.5" y2="569.5" stroke="#6e6e6e" stroke-width="0.75"/>
<text x="351.6" y="573.2" text-anchor="middle" font-size="3.3" fill="#555">5000</text>
<line x1="385.0" x2="385.0" y1="568.5" y2="569.5" stroke="#6e6e6e" stroke-width="0.75"/>
<text x="385.0" y="573.2" text-anchor="middle" font-size="3.3" fill="#555">10000</text>
<line x1="418.4" x2="418.4" y1="568.5" y2="569.5" stroke="#6e6e6e" stroke-width="0.75"/>
<text x="418.4" y="573.2" text-anchor="middle" font-size="3.3" fill="#555">15000</text>
<line x1="451.8" x2="451.8" y1="568.5" y2="569.5" stroke="#6e6e6e" stroke-width="0.75"/>
<text x="451.8" y="573.2" text-anchor="middle" font-size="3.3" fill="#555">20000</text>
<line x1="485.2" x2="485.2" y1="568.5" y2="569.5" stroke="#6e6e6e" stroke-width="0.75"/>
<text x="485.2" y="573.2" text-anchor="middle" font-size="3.3" fill="#555">25000</text>
<text x="450.4" y="440.3" text-anchor="end" font-size="7.15" fill="#e0403c">HALLMARK_EPITHELIAL_</text>
<text x="450.1" y="448.6" text-anchor="end" font-size="7.15" fill="#e0403c">MESENCHYMAL_TRANSITION</text>
<text x="454.4" y="439.2" class="b" font-size="7.25">p.adjust</text>
<text x="457.5" y="450.1" font-size="7.1" fill="#222">1e−09</text>
<line x1="511.7" x2="511.7" y1="438.1" y2="501.6" stroke="#6e6e6e" stroke-width="0.75"/>
<line x1="510.5" x2="511.7" y1="442.2" y2="442.2" stroke="#6e6e6e" stroke-width="0.75"/>
<text x="509.9" y="443.4" text-anchor="end" font-size="3.4" fill="#555">0.0</text>
<line x1="510.5" x2="511.7" y1="453.5" y2="453.5" stroke="#6e6e6e" stroke-width="0.75"/>
<text x="509.9" y="454.7" text-anchor="end" font-size="3.4" fill="#555">-0.1</text>
<line x1="510.5" x2="511.7" y1="465.1" y2="465.1" stroke="#6e6e6e" stroke-width="0.75"/>
<text x="509.9" y="466.3" text-anchor="end" font-size="3.4" fill="#555">-0.2</text>
<line x1="510.5" x2="511.7" y1="476.8" y2="476.8" stroke="#6e6e6e" stroke-width="0.75"/>
<text x="509.9" y="478.0" text-anchor="end" font-size="3.4" fill="#555">-0.3</text>
<line x1="510.5" x2="511.7" y1="488.2" y2="488.2" stroke="#6e6e6e" stroke-width="0.75"/>
<text x="509.9" y="489.4" text-anchor="end" font-size="3.4" fill="#555">-0.4</text>
<line x1="510.5" x2="511.7" y1="499.9" y2="499.9" stroke="#6e6e6e" stroke-width="0.75"/>
<text x="509.9" y="501.1" text-anchor="end" font-size="3.4" fill="#555">-0.5</text>
<clipPath id="cg2"><rect x="510.7" y="428.6" width="60" height="5.7"/></clipPath>
<text x="511.7" y="434.6" font-size="5.2" fill="#111" stroke="#111" stroke-width="0.1" clip-path="url(#cg2)">GSEA ENRICH</text>
<text transform="translate(502.1 470.4) rotate(-90)" text-anchor="middle" font-size="4.15" fill="#111" stroke="#111" stroke-width="0.1">Running Enrichment Score</text>
<path d="M511.7 442.2 L513.5 443.3 L515.0 444.3 L516.0 444.6 L517.2 443.3 L518.2 444.2 L519.0 445.0 L520.2 444.2 L521.0 444.3 L523.0 445.6 L525.0 446.9 L527.0 447.9 L528.5 447.7 L530.0 448.2 L533.0 450.2 L535.0 451.6 L537.0 452.7 L539.0 452.9 L540.5 453.3 L543.0 455.0 L545.0 456.1 L546.5 455.6 L548.0 455.8 L551.0 457.5 L553.0 458.9 L556.0 460.5 L559.0 461.3 L562.0 462.3 L565.0 463.2 L568.0 464.6 L572.0 466.3 L576.0 468.4 L580.0 470.5 L585.0 473.4 L590.0 476.6 L597.3 481.8 L604.6 486.2 L611.9 489.8 L619.1 493.5 L624.0 495.3 L627.9 496.4 L631.0 496.2 L633.7 496.5 L637.0 497.6 L640.3 498.3 L642.5 497.2 L645.4 496.1 L647.0 493.8 L648.3 492.0 L649.3 492.4 L650.5 491.2 L652.0 490.0 L653.4 489.1 L655.0 489.6 L657.0 489.1 L659.0 489.9 L661.0 490.8 L662.9 492.0 L664.2 489.0 L665.8 483.3 L667.2 478.5 L668.7 473.1 L669.8 467.0 L670.9 460.0 L671.9 452.0 L672.8 443.9 L673.6 444.2 L674.5 444.7 L675.4 445.8 L676.3 446.6 L677.1 443.5 L677.9 440.7 L678.6 442.5" fill="none" stroke="#e9504c" stroke-width="0.62" stroke-linejoin="round"/>
<g><line x1="516.40" x2="516.40" y1="503.1" y2="518.0" stroke="#000" stroke-width="0.45" opacity="0.65"/><line x1="520.40" x2="520.40" y1="503.1" y2="518.0" stroke="#000" stroke-width="0.45" opacity="0.65"/><line x1="527.00" x2="527.00" y1="503.1" y2="518.0" stroke="#000" stroke-width="0.45" opacity="0.65"/><line x1="529.90" x2="529.90" y1="503.1" y2="518.0" stroke="#000" stroke-width="0.45" opacity="0.45"/><line x1="540.40" x2="540.40" y1="503.1" y2="518.0" stroke="#000" stroke-width="0.45" opacity="0.90"/><line x1="544.50" x2="544.50" y1="503.1" y2="518.0" stroke="#000" stroke-width="0.45" opacity="0.63"/><line x1="545.96" x2="545.96" y1="503.1" y2="518.0" stroke="#000" stroke-width="0.45" opacity="0.32"/><line x1="546.82" x2="546.82" y1="503.1" y2="518.0" stroke="#000" stroke-width="0.45" opacity="0.59"/><line x1="548.14" x2="548.14" y1="503.1" y2="518.0" stroke="#000" stroke-width="0.45" opacity="0.53"/><line x1="546.00" x2="546.00" y1="503.1" y2="518.0" stroke="#000" stroke-width="0.45" opacity="0.74"/><line x1="551.80" x2="551.80" y1="503.1" y2="518.0" stroke="#000" stroke-width="0.45" opacity="0.65"/><line x1="555.50" x2="555.50" y1="503.1" y2="518.0" stroke="#000" stroke-width="0.45" opacity="0.73"/><line x1="556.26" x2="556.26" y1="503.1" y2="518.0" stroke="#000" stroke-width="0.45" opacity="0.67"/><line x1="557.14" x2="557.14" y1="503.1" y2="518.0" stroke="#000" stroke-width="0.45" opacity="0.79"/><line x1="558.38" x2="558.38" y1="503.1" y2="518.0" stroke="#000" stroke-width="0.45" opacity="0.88"/><line x1="560.60" x2="560.60" y1="503.1" y2="518.0" stroke="#000" stroke-width="0.45" opacity="0.65"/><line x1="564.20" x2="564.20" y1="503.1" y2="518.0" stroke="#000" stroke-width="0.45" opacity="0.90"/><line x1="567.20" x2="567.20" y1="503.1" y2="518.0" stroke="#000" stroke-width="0.45" opacity="0.65"/><line x1="571.20" x2="571.20" y1="503.1" y2="518.0" stroke="#000" stroke-width="0.45" opacity="0.93"/><line x1="571.56" x2="571.56" y1="503.1" y2="518.0" stroke="#000" stroke-width="0.45" opacity="0.88"/><line x1="575.20" x2="575.20" y1="503.1" y2="518.0" stroke="#000" stroke-width="0.45" opacity="0.90"/><line x1="578.60" x2="578.60" y1="503.1" y2="518.0" stroke="#000" stroke-width="0.45" opacity="0.94"/><line x1="578.97" x2="578.97" y1="503.1" y2="518.0" stroke="#000" stroke-width="0.45" opacity="0.93"/><line x1="579.49" x2="579.49" y1="503.1" y2="518.0" stroke="#000" stroke-width="0.45" opacity="0.94"/><line x1="579.93" x2="579.93" y1="503.1" y2="518.0" stroke="#000" stroke-width="0.45" opacity="0.91"/><line x1="580.23" x2="580.23" y1="503.1" y2="518.0" stroke="#000" stroke-width="0.45" opacity="0.92"/><line x1="585.40" x2="585.40" y1="503.1" y2="518.0" stroke="#000" stroke-width="0.45" opacity="0.45"/><line x1="590.00" x2="590.00" y1="503.1" y2="518.0" stroke="#000" stroke-width="0.45" opacity="0.48"/><line x1="591.49" x2="591.49" y1="503.1" y2="518.0" stroke="#000" stroke-width="0.45" opacity="0.54"/><line x1="592.42" x2="592.42" y1="503.1" y2="518.0" stroke="#000" stroke-width="0.45" opacity="0.61"/><line x1="593.78" x2="593.78" y1="503.1" y2="518.0" stroke="#000" stroke-width="0.45" opacity="0.56"/><line x1="595.21" x2="595.21" y1="503.1" y2="518.0" stroke="#000" stroke-width="0.45" opacity="0.57"/><line x1="596.56" x2="596.56" y1="503.1" y2="518.0" stroke="#000" stroke-width="0.45" opacity="0.42"/><line x1="598.04" x2="598.04" y1="503.1" y2="518.0" stroke="#000" stroke-width="0.45" opacity="0.64"/><line x1="598.96" x2="598.96" y1="503.1" y2="518.0" stroke="#000" stroke-width="0.45" opacity="0.56"/><line x1="603.80" x2="603.80" y1="503.1" y2="518.0" stroke="#000" stroke-width="0.45" opacity="0.84"/><line x1="604.53" x2="604.53" y1="503.1" y2="518.0" stroke="#000" stroke-width="0.45" opacity="0.85"/><line x1="605.44" x2="605.44" y1="503.1" y2="518.0" stroke="#000" stroke-width="0.45" opacity="0.85"/><line x1="606.50" x2="606.50" y1="503.1" y2="518.0" stroke="#000" stroke-width="0.45" opacity="0.64"/><line x1="607.67" x2="607.67" y1="503.1" y2="518.0" stroke="#000" stroke-width="0.45" opacity="0.86"/><line x1="608.60" x2="608.60" y1="503.1" y2="518.0" stroke="#000" stroke-width="0.45" opacity="0.73"/><line x1="609.79" x2="609.79" y1="503.1" y2="518.0" stroke="#000" stroke-width="0.45" opacity="0.79"/><line x1="610.73" x2="610.73" y1="503.1" y2="518.0" stroke="#000" stroke-width="0.45" opacity="0.59"/><line x1="611.90" x2="611.90" y1="503.1" y2="518.0" stroke="#000" stroke-width="0.45" opacity="0.78"/><line x1="612.66" x2="612.66" y1="503.1" y2="518.0" stroke="#000" stroke-width="0.45" opacity="0.86"/><line x1="613.48" x2="613.48" y1="503.1" y2="518.0" stroke="#000" stroke-width="0.45" opacity="0.86"/><line x1="614.32" x2="614.32" y1="503.1" y2="518.0" stroke="#000" stroke-width="0.45" opacity="0.88"/><line x1="615.39" x2="615.39" y1="503.1" y2="518.0" stroke="#000" stroke-width="0.45" opacity="0.70"/><line x1="616.35" x2="616.35" y1="503.1" y2="518.0" stroke="#000" stroke-width="0.45" opacity="0.76"/><line x1="619.90" x2="619.90" y1="503.1" y2="518.0" stroke="#000" stroke-width="0.45" opacity="0.79"/><line x1="620.49" x2="620.49" y1="503.1" y2="518.0" stroke="#000" stroke-width="0.45" opacity="0.85"/><line x1="621.40" x2="621.40" y1="503.1" y2="518.0" stroke="#000" stroke-width="0.45" opacity="0.89"/><line x1="621.94" x2="621.94" y1="503.1" y2="518.0" stroke="#000" stroke-width="0.45" opacity="0.95"/><line x1="622.76" x2="622.76" y1="503.1" y2="518.0" stroke="#000" stroke-width="0.45" opacity="0.97"/><line x1="623.34" x2="623.34" y1="503.1" y2="518.0" stroke="#000" stroke-width="0.45" opacity="0.92"/><line x1="623.87" x2="623.87" y1="503.1" y2="518.0" stroke="#000" stroke-width="0.45" opacity="0.90"/><line x1="627.20" x2="627.20" y1="503.1" y2="518.0" stroke="#000" stroke-width="0.45" opacity="0.91"/><line x1="627.71" x2="627.71" y1="503.1" y2="518.0" stroke="#000" stroke-width="0.45" opacity="0.89"/><line x1="628.14" x2="628.14" y1="503.1" y2="518.0" stroke="#000" stroke-width="0.45" opacity="0.98"/><line x1="628.50" x2="628.50" y1="503.1" y2="518.0" stroke="#000" stroke-width="0.45" opacity="0.91"/><line x1="631.50" x2="631.50" y1="503.1" y2="518.0" stroke="#000" stroke-width="0.45" opacity="0.45"/><line x1="632.80" x2="632.80" y1="503.1" y2="518.0" stroke="#000" stroke-width="0.45" opacity="0.31"/><line x1="633.85" x2="633.85" y1="503.1" y2="518.0" stroke="#000" stroke-width="0.45" opacity="0.36"/><line x1="635.12" x2="635.12" y1="503.1" y2="518.0" stroke="#000" stroke-width="0.45" opacity="0.33"/><line x1="636.59" x2="636.59" y1="503.1" y2="518.0" stroke="#000" stroke-width="0.45" opacity="0.31"/><line x1="637.90" x2="637.90" y1="503.1" y2="518.0" stroke="#000" stroke-width="0.45" opacity="0.31"/><line x1="641.00" x2="641.00" y1="503.1" y2="518.0" stroke="#000" stroke-width="0.45" opacity="0.83"/><line x1="641.75" x2="641.75" y1="503.1" y2="518.0" stroke="#000" stroke-width="0.45" opacity="0.57"/><line x1="642.81" x2="642.81" y1="503.1" y2="518.0" stroke="#000" stroke-width="0.45" opacity="0.65"/><line x1="643.50" x2="643.50" y1="503.1" y2="518.0" stroke="#000" stroke-width="0.45" opacity="0.90"/><line x1="644.25" x2="644.25" y1="503.1" y2="518.0" stroke="#000" stroke-width="0.45" opacity="0.51"/><line x1="645.12" x2="645.12" y1="503.1" y2="518.0" stroke="#000" stroke-width="0.45" opacity="0.75"/><line x1="646.20" x2="646.20" y1="503.1" y2="518.0" stroke="#000" stroke-width="0.45" opacity="0.55"/><line x1="647.06" x2="647.06" y1="503.1" y2="518.0" stroke="#000" stroke-width="0.45" opacity="0.51"/><line x1="647.50" x2="647.50" y1="503.1" y2="518.0" stroke="#000" stroke-width="0.45" opacity="0.97"/><line x1="647.98" x2="647.98" y1="503.1" y2="518.0" stroke="#000" stroke-width="0.45" opacity="0.99"/><line x1="651.20" x2="651.20" y1="503.1" y2="518.0" stroke="#000" stroke-width="0.45" opacity="0.96"/><line x1="652.01" x2="652.01" y1="503.1" y2="518.0" stroke="#000" stroke-width="0.45" opacity="0.84"/><line x1="654.00" x2="654.00" y1="503.1" y2="518.0" stroke="#000" stroke-width="0.45" opacity="0.53"/><line x1="655.02" x2="655.02" y1="503.1" y2="518.0" stroke="#000" stroke-width="0.45" opacity="0.34"/><line x1="656.14" x2="656.14" y1="503.1" y2="518.0" stroke="#000" stroke-width="0.45" opacity="0.61"/><line x1="657.03" x2="657.03" y1="503.1" y2="518.0" stroke="#000" stroke-width="0.45" opacity="0.50"/><line x1="658.11" x2="658.11" y1="503.1" y2="518.0" stroke="#000" stroke-width="0.45" opacity="0.48"/><line x1="659.01" x2="659.01" y1="503.1" y2="518.0" stroke="#000" stroke-width="0.45" opacity="0.64"/><line x1="659.99" x2="659.99" y1="503.1" y2="518.0" stroke="#000" stroke-width="0.45" opacity="0.51"/><line x1="661.09" x2="661.09" y1="503.1" y2="518.0" stroke="#000" stroke-width="0.45" opacity="0.31"/><line x1="662.28" x2="662.28" y1="503.1" y2="518.0" stroke="#000" stroke-width="0.45" opacity="0.35"/><line x1="662.80" x2="662.80" y1="503.1" y2="518.0" stroke="#000" stroke-width="0.45" opacity="0.71"/><line x1="663.37" x2="663.37" y1="503.1" y2="518.0" stroke="#000" stroke-width="0.45" opacity="0.73"/><line x1="664.15" x2="664.15" y1="503.1" y2="518.0" stroke="#000" stroke-width="0.45" opacity="0.85"/><line x1="665.08" x2="665.08" y1="503.1" y2="518.0" stroke="#000" stroke-width="0.45" opacity="0.98"/><line x1="666.01" x2="666.01" y1="503.1" y2="518.0" stroke="#000" stroke-width="0.45" opacity="0.77"/><line x1="666.50" x2="666.50" y1="503.1" y2="518.0" stroke="#000" stroke-width="0.45" opacity="0.91"/><line x1="666.94" x2="666.94" y1="503.1" y2="518.0" stroke="#000" stroke-width="0.45" opacity="0.95"/><line x1="667.44" x2="667.44" y1="503.1" y2="518.0" stroke="#000" stroke-width="0.45" opacity="0.97"/><line x1="667.80" x2="667.80" y1="503.1" y2="518.0" stroke="#000" stroke-width="0.45" opacity="0.93"/><line x1="668.22" x2="668.22" y1="503.1" y2="518.0" stroke="#000" stroke-width="0.45" opacity="0.88"/><line x1="668.53" x2="668.53" y1="503.1" y2="518.0" stroke="#000" stroke-width="0.45" opacity="0.93"/><line x1="668.85" x2="668.85" y1="503.1" y2="518.0" stroke="#000" stroke-width="0.45" opacity="0.97"/><line x1="669.20" x2="669.20" y1="503.1" y2="518.0" stroke="#000" stroke-width="0.45" opacity="0.89"/><line x1="669.54" x2="669.54" y1="503.1" y2="518.0" stroke="#000" stroke-width="0.45" opacity="0.91"/><line x1="669.89" x2="669.89" y1="503.1" y2="518.0" stroke="#000" stroke-width="0.45" opacity="0.94"/><line x1="670.30" x2="670.30" y1="503.1" y2="518.0" stroke="#000" stroke-width="0.45" opacity="0.92"/><line x1="670.76" x2="670.76" y1="503.1" y2="518.0" stroke="#000" stroke-width="0.45" opacity="0.91"/><line x1="671.28" x2="671.28" y1="503.1" y2="518.0" stroke="#000" stroke-width="0.45" opacity="1.00"/><line x1="671.76" x2="671.76" y1="503.1" y2="518.0" stroke="#000" stroke-width="0.45" opacity="0.93"/><line x1="672.18" x2="672.18" y1="503.1" y2="518.0" stroke="#000" stroke-width="0.45" opacity="0.95"/><line x1="672.49" x2="672.49" y1="503.1" y2="518.0" stroke="#000" stroke-width="0.45" opacity="0.93"/><line x1="672.92" x2="672.92" y1="503.1" y2="518.0" stroke="#000" stroke-width="0.45" opacity="0.90"/><line x1="677.40" x2="677.40" y1="503.1" y2="518.0" stroke="#000" stroke-width="0.45" opacity="1.00"/></g>
<rect x="511.7" y="518.0" width="4.6" height="6.0" fill="#d7301f"/>
<rect x="516.0" y="518.0" width="6.2" height="6.0" fill="#dc3b27"/>
<rect x="521.9" y="518.0" width="8.4" height="6.0" fill="#ec5f43"/>
<rect x="530.0" y="518.0" width="7.5" height="6.0" fill="#f0704f"/>
<rect x="537.2" y="518.0" width="5.1" height="6.0" fill="#f59779"/>
<rect x="542.0" y="518.0" width="5.7" height="6.0" fill="#f8ab91"/>
<rect x="547.4" y="518.0" width="7.9" height="6.0" fill="#fbd0bd"/>
<rect x="555.0" y="518.0" width="8.1" height="6.0" fill="#fde3d7"/>
<rect x="562.8" y="518.0" width="9.5" height="6.0" fill="#f7f9fd"/>
<rect x="572.0" y="518.0" width="11.5" height="6.0" fill="#eef4fb"/>
<rect x="583.2" y="518.0" width="13.1" height="6.0" fill="#c6dcef"/>
<rect x="596.0" y="518.0" width="8.9" height="6.0" fill="#b9d6ec"/>
<rect x="604.6" y="518.0" width="10.7" height="6.0" fill="#5aa0d6"/>
<rect x="615.0" y="518.0" width="11.0" height="6.0" fill="#4f98d2"/>
<rect x="625.7" y="518.0" width="24.6" height="6.0" fill="#2f7cc4"/>
<rect x="650.0" y="518.0" width="24.1" height="6.0" fill="#2b74bd"/>
<rect x="673.8" y="518.0" width="5.4" height="6.0" fill="#2455a8"/>
<line x1="511.7" x2="511.7" y1="526.5" y2="567.3" stroke="#6e6e6e" stroke-width="0.75"/>
<line x1="511.7" x2="678.9" y1="567.3" y2="567.3" stroke="#6e6e6e" stroke-width="0.75"/>
<polygon points="511.7,549.1 511.7,530.0 512.0,540.3 514.6,544.7 519.0,546.5 529.2,547.6 543.8,548.4 565.7,549.0 580.0,549.1" fill="#c6c6c6"/>
<polygon points="600.0,549.0 641.0,549.3 655.6,550.7 663.0,551.6 670.1,552.6 676.0,554.8 678.2,557.7 678.7,565.8 678.9,565.8 678.9,549.0" fill="#c6c6c6"/>
<line x1="510.5" x2="511.7" y1="528.7" y2="528.7" stroke="#6e6e6e" stroke-width="0.75"/>
<text x="509.9" y="529.8" text-anchor="end" font-size="3.2" fill="#555">5</text>
<line x1="510.5" x2="511.7" y1="555.9" y2="555.9" stroke="#6e6e6e" stroke-width="0.75"/>
<text x="509.9" y="557.0" text-anchor="end" font-size="3.2" fill="#555">-5</text>
<line x1="510.5" x2="511.7" y1="567.3" y2="567.3" stroke="#6e6e6e" stroke-width="0.75"/>
<text x="509.9" y="568.4" text-anchor="end" font-size="3.2" fill="#555">-7</text>
<text transform="translate(502.1 546.1) rotate(-90)" text-anchor="middle" font-size="4.15" fill="#111" stroke="#111" stroke-width="0.1">Ranked List Metric</text>
<text x="595.1" y="564.7" text-anchor="middle" font-size="4.3" fill="#111" stroke="#111" stroke-width="0.12">Rank in Ordered Dataset</text>
<line x1="544.9" x2="544.9" y1="567.3" y2="568.3" stroke="#6e6e6e" stroke-width="0.75"/>
<text x="544.9" y="572.0" text-anchor="middle" font-size="3.3" fill="#555">5000</text>
<line x1="578.2" x2="578.2" y1="567.3" y2="568.3" stroke="#6e6e6e" stroke-width="0.75"/>
<text x="578.2" y="572.0" text-anchor="middle" font-size="3.3" fill="#555">10000</text>
<line x1="611.4" x2="611.4" y1="567.3" y2="568.3" stroke="#6e6e6e" stroke-width="0.75"/>
<text x="611.4" y="572.0" text-anchor="middle" font-size="3.3" fill="#555">15000</text>
<line x1="644.7" x2="644.7" y1="567.3" y2="568.3" stroke="#6e6e6e" stroke-width="0.75"/>
<text x="644.7" y="572.0" text-anchor="middle" font-size="3.3" fill="#555">20000</text>
<line x1="677.9" x2="677.9" y1="567.3" y2="568.3" stroke="#6e6e6e" stroke-width="0.75"/>
<text x="677.9" y="572.0" text-anchor="middle" font-size="3.3" fill="#555">25000</text>
<text x="596.1" y="440.7" font-size="7.2" fill="#e0403c">Cell cycle</text>
<text x="636.9" y="435.2" class="b" font-size="7.25">p.adjust</text>
<text x="635.9" y="446.6" font-size="7.1" fill="#222">2.01e−05</text>
</g>
</svg>
</body></html>
